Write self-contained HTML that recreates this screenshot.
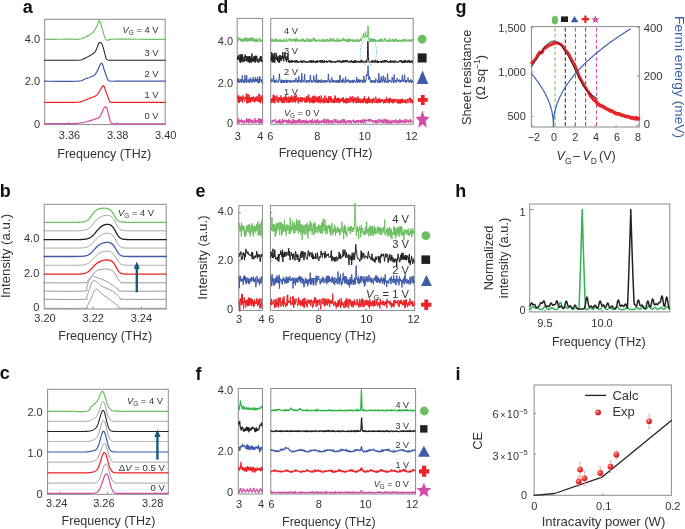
<!DOCTYPE html>
<html><head><meta charset="utf-8"><style>
html,body{margin:0;padding:0;background:#fff;}
svg{display:block;font-family:"Liberation Sans", sans-serif;will-change:transform;}
</style></head><body>
<svg width="685" height="529" viewBox="0 0 685 529">
<rect width="685" height="529" fill="#fff"/>
<text x="22.8" y="13" font-size="18" font-weight="bold" fill="#111">a</text>
<text x="-0.3" y="196.6" font-size="18" font-weight="bold" fill="#111">b</text>
<text x="-0.2" y="379.4" font-size="18" font-weight="bold" fill="#111">c</text>
<text x="217.3" y="13.1" font-size="18" font-weight="bold" fill="#111">d</text>
<text x="195.4" y="196.6" font-size="18" font-weight="bold" fill="#111">e</text>
<text x="195.6" y="379.5" font-size="18" font-weight="bold" fill="#111">f</text>
<text x="455.4" y="12.8" font-size="18" font-weight="bold" fill="#111">g</text>
<text x="455.3" y="196.6" font-size="18" font-weight="bold" fill="#111">h</text>
<text x="455.4" y="379.5" font-size="18" font-weight="bold" fill="#111">i</text>
<line x1="68.8" y1="124.6" x2="68.8" y2="122.1" stroke="#8a8a8a" stroke-width="1"/>
<line x1="117.0" y1="124.6" x2="117.0" y2="122.1" stroke="#8a8a8a" stroke-width="1"/>
<rect x="44.7" y="19.3" width="120.49999999999999" height="105.3" fill="none" stroke="#8a8a8a" stroke-width="1"/>
<polyline points="44.7,39.40 48.42,39.37 53.85,39.32 59.94,39.27 65.67,39.22 70.0,39.20 72.70,39.22 74.45,39.27 75.62,39.32 76.55,39.34 77.6,39.30 78.70,39.22 79.60,39.12 80.42,38.97 81.28,38.74 82.3,38.40 83.53,37.91 84.89,37.29 86.31,36.60 87.67,35.88 88.9,35.20 89.98,34.58 90.98,34.00 91.91,33.40 92.78,32.72 93.6,31.90 94.36,30.91 95.05,29.77 95.70,28.57 96.31,27.35 96.9,26.20 97.46,24.91 97.99,23.45 98.49,22.10 98.99,21.15 99.5,20.90 100.02,21.52 100.55,22.82 101.07,24.53 101.59,26.38 102.1,28.10 102.60,29.80 103.10,31.65 103.59,33.50 104.06,35.20 104.5,36.60 104.88,37.69 105.19,38.56 105.50,39.24 105.88,39.75 106.4,40.10 107.01,40.22 107.66,40.10 108.44,39.85 109.39,39.58 110.6,39.40 111.57,39.32 112.27,39.26 113.41,39.23 115.75,39.21 120.0,39.20 127.47,39.22 137.67,39.26 148.66,39.32 158.48,39.37 165.2,39.40" fill="none" stroke="#6dbf62" stroke-width="1.2" stroke-linejoin="round" stroke-linecap="round"/>
<polyline points="44.7,60.20 49.60,60.23 56.75,60.28 64.75,60.32 72.18,60.31 77.6,60.20 80.56,60.02 82.00,59.81 82.62,59.51 83.12,59.09 84.2,58.50 86.00,57.67 88.07,56.63 90.17,55.48 92.09,54.34 93.6,53.30 94.61,52.40 95.26,51.58 95.70,50.78 96.06,49.94 96.5,49.00 97.00,47.86 97.46,46.56 97.90,45.26 98.34,44.12 98.8,43.30 99.28,42.82 99.78,42.58 100.27,42.54 100.75,42.69 101.2,43.00 101.61,43.47 101.98,44.11 102.34,44.93 102.70,45.93 103.1,47.10 103.53,48.59 103.99,50.38 104.45,52.29 104.93,54.10 105.4,55.60 105.72,56.79 105.88,57.81 106.13,58.67 106.69,59.36 107.8,59.90 109.08,60.22 110.39,60.32 112.27,60.29 115.29,60.22 120.0,60.20 127.65,60.22 137.87,60.22 148.79,60.21 158.52,60.20 165.2,60.20" fill="none" stroke="#231f20" stroke-width="1.05" stroke-linejoin="round" stroke-linecap="round"/>
<polyline points="44.7,81.20 49.57,81.24 56.67,81.31 64.63,81.36 72.03,81.34 77.5,81.20 80.6,80.92 82.26,80.54 83.13,80.07 83.83,79.55 85.0,79.00 86.75,78.40 88.66,77.75 90.57,77.05 92.30,76.32 93.7,75.60 94.65,74.94 95.27,74.34 95.72,73.68 96.17,72.87 96.8,71.80 97.65,70.14 98.61,67.97 99.61,65.76 100.56,64.01 101.4,63.20 102.09,63.54 102.67,64.72 103.21,66.40 103.73,68.27 104.3,70.00 104.92,71.72 105.55,73.65 106.19,75.59 106.82,77.34 107.4,78.70 107.82,79.60 108.08,80.18 108.38,80.54 108.92,80.78 109.9,81.00 110.87,81.18 111.71,81.24 113.07,81.24 115.61,81.21 120.0,81.20 127.52,81.21 137.72,81.21 148.69,81.21 158.49,81.20 165.2,81.20" fill="none" stroke="#3f5aa8" stroke-width="1.2" stroke-linejoin="round" stroke-linecap="round"/>
<polyline points="44.7,102.40 48.39,102.41 53.73,102.43 59.77,102.44 65.51,102.44 70.0,102.40 73.0,102.36 75.16,102.32 76.83,102.25 78.33,102.09 80.0,101.80 81.84,101.34 83.63,100.74 85.37,100.07 87.06,99.37 88.7,98.70 90.34,98.10 91.97,97.51 93.53,96.91 94.96,96.26 96.2,95.50 97.19,94.61 97.96,93.62 98.62,92.57 99.23,91.52 99.9,90.50 100.62,89.34 101.35,88.01 102.06,86.78 102.75,85.92 103.4,85.70 104.0,86.28 104.56,87.48 105.09,89.07 105.63,90.79 106.2,92.40 106.82,94.03 107.48,95.84 108.14,97.65 108.76,99.26 109.3,100.50 109.63,101.29 109.77,101.76 109.93,102.00 110.31,102.15 111.1,102.30 111.84,102.43 112.41,102.47 113.49,102.45 115.78,102.41 120.0,102.40 127.44,102.41 137.64,102.41 148.63,102.40 158.47,102.40 165.2,102.40" fill="none" stroke="#ec2227" stroke-width="1.2" stroke-linejoin="round" stroke-linecap="round"/>
<polyline points="44.7,123.70 48.39,123.69 53.73,123.69 59.77,123.68 65.51,123.65 70.0,123.60 73.0,123.53 75.16,123.46 76.83,123.36 78.33,123.21 80.0,123.00 81.84,122.71 83.63,122.36 85.37,121.97 87.06,121.54 88.7,121.10 90.34,120.63 91.97,120.11 93.53,119.59 94.96,119.07 96.2,118.60 97.18,118.28 97.95,118.09 98.60,117.88 99.21,117.47 99.9,116.70 100.67,115.37 101.48,113.60 102.27,111.68 103.02,109.91 103.7,108.60 104.29,107.74 104.83,107.11 105.31,106.75 105.77,106.68 106.2,106.90 106.59,107.48 106.94,108.40 107.26,109.58 107.61,110.94 108.0,112.40 108.46,114.14 108.95,116.20 109.47,118.33 109.99,120.25 110.5,121.70 110.93,122.58 111.28,123.07 111.68,123.32 112.21,123.45 113.0,123.60 113.50,123.75 113.64,123.81 114.23,123.82 116.08,123.80 120.0,123.80 127.32,123.81 137.50,123.81 148.54,123.81 158.44,123.80 165.2,123.80" fill="none" stroke="#d04ca6" stroke-width="1.2" stroke-linejoin="round" stroke-linecap="round"/>
<text x="40" y="43.2" font-size="11" text-anchor="end" fill="#333">4.0</text>
<text x="40" y="85.4" font-size="11" text-anchor="end" fill="#333">2.0</text>
<text x="40" y="127.6" font-size="11" text-anchor="end" fill="#333">0</text>
<text x="69.5" y="139" font-size="11" text-anchor="middle" fill="#333">3.36</text>
<text x="117.7" y="139" font-size="11" text-anchor="middle" fill="#333">3.38</text>
<text x="165.8" y="139" font-size="11" text-anchor="middle" fill="#333">3.40</text>
<text x="104.2" y="157.5" font-size="12.5" text-anchor="middle" fill="#333">Frequency (THz)</text>
<text x="158.6" y="33" font-size="9.4" text-anchor="end" fill="#333"><tspan font-style="italic">V</tspan><tspan font-size="6.4" dy="2.1">G</tspan><tspan dy="-2.1"> = 4 V</tspan></text>
<text x="158.6" y="55.8" font-size="9.4" text-anchor="end" fill="#333">3 V</text>
<text x="158.6" y="77" font-size="9.4" text-anchor="end" fill="#333">2 V</text>
<text x="158.6" y="98.2" font-size="9.4" text-anchor="end" fill="#333">1 V</text>
<text x="158.6" y="119.3" font-size="9.4" text-anchor="end" fill="#333">0 V</text>
<rect x="44.2" y="204.3" width="121.99999999999999" height="104.69999999999999" fill="none" stroke="#8a8a8a" stroke-width="1"/>
<polyline points="44.2,222.30 44.7,222.30 45.2,222.30 45.7,222.30 46.2,222.30 46.7,222.30 47.2,222.30 47.7,222.30 48.2,222.30 48.7,222.30 49.2,222.30 49.7,222.30 50.2,222.30 50.7,222.30 51.2,222.30 51.7,222.30 52.2,222.30 52.7,222.30 53.2,222.30 53.7,222.30 54.2,222.30 54.7,222.30 55.2,222.30 55.7,222.30 56.2,222.30 56.7,222.30 57.2,222.30 57.7,222.30 58.2,222.30 58.7,222.30 59.2,222.30 59.7,222.30 60.2,222.30 60.7,222.30 61.2,222.30 61.7,222.30 62.2,222.30 62.7,222.30 63.2,222.30 63.7,222.30 64.2,222.30 64.7,222.30 65.2,222.30 65.7,222.30 66.2,222.30 66.7,222.30 67.2,222.30 67.7,222.30 68.2,222.30 68.7,222.30 69.2,222.30 69.7,222.30 70.2,222.30 70.7,222.30 71.2,222.30 71.7,222.30 72.2,222.30 72.7,222.30 73.2,222.30 73.7,222.30 74.2,222.30 74.7,222.30 75.2,222.30 75.7,222.29 76.2,222.29 76.7,222.29 77.2,222.28 77.7,222.28 78.2,222.27 78.7,222.26 79.2,222.25 79.7,222.24 80.2,222.22 80.7,222.20 81.2,222.17 81.7,222.13 82.2,222.09 82.7,222.03 83.2,221.96 83.7,221.87 84.2,221.76 84.7,221.63 85.2,221.48 85.7,221.28 86.2,221.06 86.7,220.78 87.2,220.46 87.7,220.09 88.2,219.67 88.7,219.19 89.2,218.66 89.7,218.07 90.2,217.45 90.7,216.79 91.2,216.10 91.7,215.41 92.2,214.72 92.7,214.05 93.2,213.40 93.7,212.79 94.2,212.22 94.7,211.70 95.2,211.22 95.7,210.79 96.2,210.40 96.7,210.06 97.2,209.76 97.7,209.50 98.2,209.26 98.7,209.06 99.2,208.89 99.7,208.74 100.2,208.61 100.7,208.50 101.2,208.41 101.7,208.34 102.2,208.28 102.7,208.24 103.2,208.21 103.7,208.20 104.2,208.20 104.7,208.22 105.2,208.25 105.7,208.29 106.2,208.36 106.7,208.45 107.2,208.56 107.7,208.69 108.2,208.86 108.7,209.07 109.2,209.32 109.7,209.62 110.2,209.97 110.7,210.39 111.2,210.88 111.7,211.44 112.2,212.09 112.7,212.80 113.2,213.59 113.7,214.42 114.2,215.28 114.7,216.15 115.2,217.00 115.7,217.80 116.2,218.54 116.7,219.20 117.2,219.78 117.7,220.27 118.2,220.69 118.7,221.03 119.2,221.30 119.7,221.52 120.2,221.70 120.7,221.84 121.2,221.94 121.7,222.03 122.2,222.09 122.7,222.14 123.2,222.18 123.7,222.21 124.2,222.23 124.7,222.25 125.2,222.26 125.7,222.27 126.2,222.28 126.7,222.28 127.2,222.29 127.7,222.29 128.2,222.29 128.7,222.30 129.2,222.30 129.7,222.30 130.2,222.30 130.7,222.30 131.2,222.30 131.7,222.30 132.2,222.30 132.7,222.30 133.2,222.30 133.7,222.30 134.2,222.30 134.7,222.30 135.2,222.30 135.7,222.30 136.2,222.30 136.7,222.30 137.2,222.30 137.7,222.30 138.2,222.30 138.7,222.30 139.2,222.30 139.7,222.30 140.2,222.30 140.7,222.30 141.2,222.30 141.7,222.30 142.2,222.30 142.7,222.30 143.2,222.30 143.7,222.30 144.2,222.30 144.7,222.30 145.2,222.30 145.7,222.30 146.2,222.30 146.7,222.30 147.2,222.30 147.7,222.30 148.2,222.30 148.7,222.30 149.2,222.30 149.7,222.30 150.2,222.30 150.7,222.30 151.2,222.30 151.7,222.30 152.2,222.30 152.7,222.30 153.2,222.30 153.7,222.30 154.2,222.30 154.7,222.30 155.2,222.30 155.7,222.30 156.2,222.30 156.7,222.30 157.2,222.30 157.7,222.30 158.2,222.30 158.7,222.30 159.2,222.30 159.7,222.30 160.2,222.30 160.7,222.30 161.2,222.30 161.7,222.30 162.2,222.30 162.7,222.30 163.2,222.30 163.7,222.30 164.2,222.30 164.7,222.30 165.2,222.30 165.7,222.30 166.2,222.30" fill="none" stroke="#6dbf62" stroke-width="1.3" stroke-linejoin="round" stroke-linecap="round"/>
<polyline points="44.2,230.80 44.7,230.80 45.2,230.80 45.7,230.80 46.2,230.80 46.7,230.80 47.2,230.80 47.7,230.80 48.2,230.80 48.7,230.80 49.2,230.80 49.7,230.80 50.2,230.80 50.7,230.80 51.2,230.80 51.7,230.80 52.2,230.80 52.7,230.80 53.2,230.80 53.7,230.80 54.2,230.80 54.7,230.80 55.2,230.80 55.7,230.80 56.2,230.80 56.7,230.80 57.2,230.80 57.7,230.80 58.2,230.80 58.7,230.80 59.2,230.80 59.7,230.80 60.2,230.80 60.7,230.80 61.2,230.80 61.7,230.80 62.2,230.80 62.7,230.80 63.2,230.80 63.7,230.80 64.2,230.80 64.7,230.80 65.2,230.80 65.7,230.80 66.2,230.80 66.7,230.80 67.2,230.80 67.7,230.80 68.2,230.80 68.7,230.80 69.2,230.80 69.7,230.80 70.2,230.80 70.7,230.80 71.2,230.80 71.7,230.80 72.2,230.80 72.7,230.80 73.2,230.80 73.7,230.80 74.2,230.80 74.7,230.79 75.2,230.79 75.7,230.79 76.2,230.78 76.7,230.78 77.2,230.77 77.7,230.76 78.2,230.75 78.7,230.74 79.2,230.73 79.7,230.71 80.2,230.69 80.7,230.66 81.2,230.63 81.7,230.59 82.2,230.55 82.7,230.49 83.2,230.43 83.7,230.35 84.2,230.26 84.7,230.16 85.2,230.04 85.7,229.89 86.2,229.73 86.7,229.54 87.2,229.32 87.7,229.07 88.2,228.78 88.7,228.46 89.2,228.10 89.7,227.71 90.2,227.27 90.7,226.80 91.2,226.29 91.7,225.75 92.2,225.19 92.7,224.60 93.2,224.00 93.7,223.39 94.2,222.78 94.7,222.17 95.2,221.58 95.7,221.00 96.2,220.45 96.7,219.92 97.2,219.43 97.7,218.97 98.2,218.54 98.7,218.14 99.2,217.78 99.7,217.45 100.2,217.15 100.7,216.88 101.2,216.63 101.7,216.41 102.2,216.22 102.7,216.05 103.2,215.90 103.7,215.78 104.2,215.67 104.7,215.58 105.2,215.50 105.7,215.45 106.2,215.42 106.7,215.40 107.2,215.40 107.7,215.43 108.2,215.48 108.7,215.56 109.2,215.67 109.7,215.82 110.2,216.01 110.7,216.25 111.2,216.55 111.7,216.91 112.2,217.36 112.7,217.88 113.2,218.50 113.7,219.21 114.2,220.01 114.7,220.88 115.2,221.82 115.7,222.79 116.2,223.77 116.7,224.73 117.2,225.64 117.7,226.47 118.2,227.22 118.7,227.88 119.2,228.44 119.7,228.91 120.2,229.30 120.7,229.62 121.2,229.87 121.7,230.08 122.2,230.24 122.7,230.36 123.2,230.46 123.7,230.54 124.2,230.60 124.7,230.65 125.2,230.68 125.7,230.71 126.2,230.73 126.7,230.75 127.2,230.76 127.7,230.77 128.2,230.78 128.7,230.78 129.2,230.79 129.7,230.79 130.2,230.79 130.7,230.79 131.2,230.80 131.7,230.80 132.2,230.80 132.7,230.80 133.2,230.80 133.7,230.80 134.2,230.80 134.7,230.80 135.2,230.80 135.7,230.80 136.2,230.80 136.7,230.80 137.2,230.80 137.7,230.80 138.2,230.80 138.7,230.80 139.2,230.80 139.7,230.80 140.2,230.80 140.7,230.80 141.2,230.80 141.7,230.80 142.2,230.80 142.7,230.80 143.2,230.80 143.7,230.80 144.2,230.80 144.7,230.80 145.2,230.80 145.7,230.80 146.2,230.80 146.7,230.80 147.2,230.80 147.7,230.80 148.2,230.80 148.7,230.80 149.2,230.80 149.7,230.80 150.2,230.80 150.7,230.80 151.2,230.80 151.7,230.80 152.2,230.80 152.7,230.80 153.2,230.80 153.7,230.80 154.2,230.80 154.7,230.80 155.2,230.80 155.7,230.80 156.2,230.80 156.7,230.80 157.2,230.80 157.7,230.80 158.2,230.80 158.7,230.80 159.2,230.80 159.7,230.80 160.2,230.80 160.7,230.80 161.2,230.80 161.7,230.80 162.2,230.80 162.7,230.80 163.2,230.80 163.7,230.80 164.2,230.80 164.7,230.80 165.2,230.80 165.7,230.80 166.2,230.80" fill="none" stroke="#9a9a9a" stroke-width="1.0" stroke-linejoin="round" stroke-linecap="round"/>
<polyline points="44.2,239.60 44.7,239.60 45.2,239.60 45.7,239.60 46.2,239.60 46.7,239.60 47.2,239.60 47.7,239.60 48.2,239.60 48.7,239.60 49.2,239.60 49.7,239.60 50.2,239.60 50.7,239.60 51.2,239.60 51.7,239.60 52.2,239.60 52.7,239.60 53.2,239.60 53.7,239.60 54.2,239.60 54.7,239.60 55.2,239.60 55.7,239.60 56.2,239.60 56.7,239.60 57.2,239.60 57.7,239.60 58.2,239.60 58.7,239.60 59.2,239.60 59.7,239.60 60.2,239.60 60.7,239.60 61.2,239.60 61.7,239.60 62.2,239.60 62.7,239.60 63.2,239.60 63.7,239.60 64.2,239.60 64.7,239.60 65.2,239.60 65.7,239.60 66.2,239.60 66.7,239.60 67.2,239.60 67.7,239.60 68.2,239.60 68.7,239.60 69.2,239.60 69.7,239.60 70.2,239.60 70.7,239.60 71.2,239.60 71.7,239.60 72.2,239.60 72.7,239.60 73.2,239.60 73.7,239.60 74.2,239.60 74.7,239.60 75.2,239.60 75.7,239.59 76.2,239.59 76.7,239.59 77.2,239.58 77.7,239.58 78.2,239.57 78.7,239.57 79.2,239.56 79.7,239.55 80.2,239.54 80.7,239.52 81.2,239.50 81.7,239.48 82.2,239.46 82.7,239.43 83.2,239.39 83.7,239.35 84.2,239.30 84.7,239.25 85.2,239.18 85.7,239.10 86.2,239.01 86.7,238.90 87.2,238.78 87.7,238.63 88.2,238.47 88.7,238.28 89.2,238.07 89.7,237.82 90.2,237.55 90.7,237.24 91.2,236.90 91.7,236.52 92.2,236.11 92.7,235.66 93.2,235.18 93.7,234.67 94.2,234.13 94.7,233.57 95.2,232.98 95.7,232.39 96.2,231.79 96.7,231.18 97.2,230.59 97.7,230.01 98.2,229.44 98.7,228.89 99.2,228.38 99.7,227.89 100.2,227.43 100.7,227.00 101.2,226.61 101.7,226.25 102.2,225.92 102.7,225.63 103.2,225.36 103.7,225.13 104.2,224.93 104.7,224.75 105.2,224.61 105.7,224.49 106.2,224.40 106.7,224.33 107.2,224.30 107.7,224.30 108.2,224.33 108.7,224.40 109.2,224.51 109.7,224.67 110.2,224.88 110.7,225.14 111.2,225.47 111.7,225.87 112.2,226.35 112.7,226.90 113.2,227.54 113.7,228.26 114.2,229.05 114.7,229.90 115.2,230.80 115.7,231.72 116.2,232.63 116.7,233.52 117.2,234.37 117.7,235.15 118.2,235.85 118.7,236.48 119.2,237.03 119.7,237.49 120.2,237.89 120.7,238.22 121.2,238.49 121.7,238.71 122.2,238.89 122.7,239.04 123.2,239.15 123.7,239.25 124.2,239.32 124.7,239.38 125.2,239.43 125.7,239.46 126.2,239.49 126.7,239.52 127.2,239.54 127.7,239.55 128.2,239.56 128.7,239.57 129.2,239.58 129.7,239.58 130.2,239.59 130.7,239.59 131.2,239.59 131.7,239.59 132.2,239.59 132.7,239.60 133.2,239.60 133.7,239.60 134.2,239.60 134.7,239.60 135.2,239.60 135.7,239.60 136.2,239.60 136.7,239.60 137.2,239.60 137.7,239.60 138.2,239.60 138.7,239.60 139.2,239.60 139.7,239.60 140.2,239.60 140.7,239.60 141.2,239.60 141.7,239.60 142.2,239.60 142.7,239.60 143.2,239.60 143.7,239.60 144.2,239.60 144.7,239.60 145.2,239.60 145.7,239.60 146.2,239.60 146.7,239.60 147.2,239.60 147.7,239.60 148.2,239.60 148.7,239.60 149.2,239.60 149.7,239.60 150.2,239.60 150.7,239.60 151.2,239.60 151.7,239.60 152.2,239.60 152.7,239.60 153.2,239.60 153.7,239.60 154.2,239.60 154.7,239.60 155.2,239.60 155.7,239.60 156.2,239.60 156.7,239.60 157.2,239.60 157.7,239.60 158.2,239.60 158.7,239.60 159.2,239.60 159.7,239.60 160.2,239.60 160.7,239.60 161.2,239.60 161.7,239.60 162.2,239.60 162.7,239.60 163.2,239.60 163.7,239.60 164.2,239.60 164.7,239.60 165.2,239.60 165.7,239.60 166.2,239.60" fill="none" stroke="#231f20" stroke-width="1.3" stroke-linejoin="round" stroke-linecap="round"/>
<polyline points="44.2,248.10 44.7,248.10 45.2,248.10 45.7,248.10 46.2,248.10 46.7,248.10 47.2,248.10 47.7,248.10 48.2,248.10 48.7,248.10 49.2,248.10 49.7,248.10 50.2,248.10 50.7,248.10 51.2,248.10 51.7,248.10 52.2,248.10 52.7,248.10 53.2,248.10 53.7,248.10 54.2,248.10 54.7,248.10 55.2,248.10 55.7,248.10 56.2,248.10 56.7,248.10 57.2,248.10 57.7,248.10 58.2,248.10 58.7,248.10 59.2,248.10 59.7,248.10 60.2,248.10 60.7,248.10 61.2,248.10 61.7,248.10 62.2,248.10 62.7,248.10 63.2,248.10 63.7,248.10 64.2,248.10 64.7,248.10 65.2,248.10 65.7,248.10 66.2,248.10 66.7,248.10 67.2,248.10 67.7,248.10 68.2,248.10 68.7,248.10 69.2,248.10 69.7,248.10 70.2,248.10 70.7,248.10 71.2,248.10 71.7,248.10 72.2,248.10 72.7,248.10 73.2,248.10 73.7,248.10 74.2,248.10 74.7,248.10 75.2,248.09 75.7,248.09 76.2,248.09 76.7,248.08 77.2,248.08 77.7,248.07 78.2,248.06 78.7,248.05 79.2,248.04 79.7,248.03 80.2,248.01 80.7,247.99 81.2,247.97 81.7,247.94 82.2,247.91 82.7,247.87 83.2,247.82 83.7,247.76 84.2,247.69 84.7,247.61 85.2,247.52 85.7,247.41 86.2,247.29 86.7,247.14 87.2,246.97 87.7,246.78 88.2,246.56 88.7,246.31 89.2,246.03 89.7,245.72 90.2,245.37 90.7,244.98 91.2,244.56 91.7,244.11 92.2,243.62 92.7,243.11 93.2,242.57 93.7,242.01 94.2,241.44 94.7,240.86 95.2,240.28 95.7,239.71 96.2,239.15 96.7,238.60 97.2,238.08 97.7,237.58 98.2,237.11 98.7,236.66 99.2,236.25 99.7,235.87 100.2,235.52 100.7,235.20 101.2,234.91 101.7,234.65 102.2,234.42 102.7,234.21 103.2,234.02 103.7,233.86 104.2,233.72 104.7,233.60 105.2,233.50 105.7,233.42 106.2,233.36 106.7,233.32 107.2,233.30 107.7,233.30 108.2,233.33 108.7,233.38 109.2,233.46 109.7,233.58 110.2,233.74 110.7,233.94 111.2,234.20 111.7,234.52 112.2,234.91 112.7,235.38 113.2,235.94 113.7,236.59 114.2,237.32 114.7,238.14 115.2,239.02 115.7,239.95 116.2,240.90 116.7,241.84 117.2,242.74 117.7,243.58 118.2,244.34 118.7,245.02 119.2,245.60 119.7,246.09 120.2,246.50 120.7,246.83 121.2,247.10 121.7,247.32 122.2,247.49 122.7,247.63 123.2,247.74 123.7,247.82 124.2,247.88 124.7,247.93 125.2,247.97 125.7,248.00 126.2,248.03 126.7,248.04 127.2,248.06 127.7,248.07 128.2,248.07 128.7,248.08 129.2,248.09 129.7,248.09 130.2,248.09 130.7,248.09 131.2,248.10 131.7,248.10 132.2,248.10 132.7,248.10 133.2,248.10 133.7,248.10 134.2,248.10 134.7,248.10 135.2,248.10 135.7,248.10 136.2,248.10 136.7,248.10 137.2,248.10 137.7,248.10 138.2,248.10 138.7,248.10 139.2,248.10 139.7,248.10 140.2,248.10 140.7,248.10 141.2,248.10 141.7,248.10 142.2,248.10 142.7,248.10 143.2,248.10 143.7,248.10 144.2,248.10 144.7,248.10 145.2,248.10 145.7,248.10 146.2,248.10 146.7,248.10 147.2,248.10 147.7,248.10 148.2,248.10 148.7,248.10 149.2,248.10 149.7,248.10 150.2,248.10 150.7,248.10 151.2,248.10 151.7,248.10 152.2,248.10 152.7,248.10 153.2,248.10 153.7,248.10 154.2,248.10 154.7,248.10 155.2,248.10 155.7,248.10 156.2,248.10 156.7,248.10 157.2,248.10 157.7,248.10 158.2,248.10 158.7,248.10 159.2,248.10 159.7,248.10 160.2,248.10 160.7,248.10 161.2,248.10 161.7,248.10 162.2,248.10 162.7,248.10 163.2,248.10 163.7,248.10 164.2,248.10 164.7,248.10 165.2,248.10 165.7,248.10 166.2,248.10" fill="none" stroke="#9a9a9a" stroke-width="1.0" stroke-linejoin="round" stroke-linecap="round"/>
<polyline points="44.2,256.50 44.7,256.50 45.2,256.50 45.7,256.50 46.2,256.50 46.7,256.50 47.2,256.50 47.7,256.50 48.2,256.50 48.7,256.50 49.2,256.50 49.7,256.50 50.2,256.50 50.7,256.50 51.2,256.50 51.7,256.50 52.2,256.50 52.7,256.50 53.2,256.50 53.7,256.50 54.2,256.50 54.7,256.50 55.2,256.50 55.7,256.50 56.2,256.50 56.7,256.50 57.2,256.50 57.7,256.50 58.2,256.50 58.7,256.50 59.2,256.50 59.7,256.50 60.2,256.50 60.7,256.50 61.2,256.50 61.7,256.50 62.2,256.50 62.7,256.50 63.2,256.50 63.7,256.50 64.2,256.50 64.7,256.50 65.2,256.50 65.7,256.50 66.2,256.50 66.7,256.50 67.2,256.50 67.7,256.50 68.2,256.50 68.7,256.50 69.2,256.50 69.7,256.50 70.2,256.50 70.7,256.50 71.2,256.50 71.7,256.50 72.2,256.50 72.7,256.50 73.2,256.50 73.7,256.50 74.2,256.50 74.7,256.49 75.2,256.49 75.7,256.49 76.2,256.49 76.7,256.48 77.2,256.48 77.7,256.47 78.2,256.46 78.7,256.45 79.2,256.44 79.7,256.43 80.2,256.41 80.7,256.39 81.2,256.37 81.7,256.34 82.2,256.30 82.7,256.26 83.2,256.21 83.7,256.15 84.2,256.08 84.7,256.00 85.2,255.91 85.7,255.79 86.2,255.66 86.7,255.51 87.2,255.33 87.7,255.13 88.2,254.90 88.7,254.63 89.2,254.34 89.7,254.01 90.2,253.64 90.7,253.24 91.2,252.81 91.7,252.34 92.2,251.84 92.7,251.32 93.2,250.78 93.7,250.23 94.2,249.67 94.7,249.11 95.2,248.55 95.7,248.01 96.2,247.48 96.7,246.97 97.2,246.49 97.7,246.04 98.2,245.62 98.7,245.22 99.2,244.86 99.7,244.53 100.2,244.23 100.7,243.95 101.2,243.71 101.7,243.49 102.2,243.29 102.7,243.11 103.2,242.96 103.7,242.83 104.2,242.71 104.7,242.62 105.2,242.54 105.7,242.48 106.2,242.43 106.7,242.41 107.2,242.40 107.7,242.41 108.2,242.45 108.7,242.50 109.2,242.59 109.7,242.71 110.2,242.87 110.7,243.06 111.2,243.31 111.7,243.62 112.2,244.00 112.7,244.45 113.2,244.98 113.7,245.59 114.2,246.29 114.7,247.07 115.2,247.90 115.7,248.79 116.2,249.68 116.7,250.58 117.2,251.43 117.7,252.23 118.2,252.95 118.7,253.59 119.2,254.14 119.7,254.60 120.2,254.99 120.7,255.31 121.2,255.56 121.7,255.77 122.2,255.93 122.7,256.06 123.2,256.16 123.7,256.24 124.2,256.30 124.7,256.34 125.2,256.38 125.7,256.41 126.2,256.43 126.7,256.45 127.2,256.46 127.7,256.47 128.2,256.48 128.7,256.48 129.2,256.49 129.7,256.49 130.2,256.49 130.7,256.49 131.2,256.50 131.7,256.50 132.2,256.50 132.7,256.50 133.2,256.50 133.7,256.50 134.2,256.50 134.7,256.50 135.2,256.50 135.7,256.50 136.2,256.50 136.7,256.50 137.2,256.50 137.7,256.50 138.2,256.50 138.7,256.50 139.2,256.50 139.7,256.50 140.2,256.50 140.7,256.50 141.2,256.50 141.7,256.50 142.2,256.50 142.7,256.50 143.2,256.50 143.7,256.50 144.2,256.50 144.7,256.50 145.2,256.50 145.7,256.50 146.2,256.50 146.7,256.50 147.2,256.50 147.7,256.50 148.2,256.50 148.7,256.50 149.2,256.50 149.7,256.50 150.2,256.50 150.7,256.50 151.2,256.50 151.7,256.50 152.2,256.50 152.7,256.50 153.2,256.50 153.7,256.50 154.2,256.50 154.7,256.50 155.2,256.50 155.7,256.50 156.2,256.50 156.7,256.50 157.2,256.50 157.7,256.50 158.2,256.50 158.7,256.50 159.2,256.50 159.7,256.50 160.2,256.50 160.7,256.50 161.2,256.50 161.7,256.50 162.2,256.50 162.7,256.50 163.2,256.50 163.7,256.50 164.2,256.50 164.7,256.50 165.2,256.50 165.7,256.50 166.2,256.50" fill="none" stroke="#3f5aa8" stroke-width="1.3" stroke-linejoin="round" stroke-linecap="round"/>
<polyline points="44.2,265.30 44.7,265.30 45.2,265.30 45.7,265.30 46.2,265.30 46.7,265.30 47.2,265.30 47.7,265.30 48.2,265.30 48.7,265.30 49.2,265.30 49.7,265.30 50.2,265.30 50.7,265.30 51.2,265.30 51.7,265.30 52.2,265.30 52.7,265.30 53.2,265.30 53.7,265.30 54.2,265.30 54.7,265.30 55.2,265.30 55.7,265.30 56.2,265.30 56.7,265.30 57.2,265.30 57.7,265.30 58.2,265.30 58.7,265.30 59.2,265.30 59.7,265.30 60.2,265.30 60.7,265.30 61.2,265.30 61.7,265.30 62.2,265.30 62.7,265.30 63.2,265.30 63.7,265.30 64.2,265.30 64.7,265.30 65.2,265.30 65.7,265.30 66.2,265.30 66.7,265.30 67.2,265.30 67.7,265.30 68.2,265.30 68.7,265.30 69.2,265.30 69.7,265.30 70.2,265.30 70.7,265.30 71.2,265.30 71.7,265.30 72.2,265.30 72.7,265.30 73.2,265.30 73.7,265.30 74.2,265.29 74.7,265.29 75.2,265.29 75.7,265.29 76.2,265.28 76.7,265.28 77.2,265.27 77.7,265.26 78.2,265.25 78.7,265.24 79.2,265.22 79.7,265.20 80.2,265.18 80.7,265.15 81.2,265.12 81.7,265.09 82.2,265.04 82.7,264.99 83.2,264.93 83.7,264.85 84.2,264.77 84.7,264.66 85.2,264.55 85.7,264.41 86.2,264.25 86.7,264.07 87.2,263.87 87.7,263.63 88.2,263.37 88.7,263.07 89.2,262.74 89.7,262.38 90.2,261.99 90.7,261.56 91.2,261.10 91.7,260.61 92.2,260.10 92.7,259.58 93.2,259.04 93.7,258.49 94.2,257.94 94.7,257.39 95.2,256.86 95.7,256.34 96.2,255.84 96.7,255.36 97.2,254.91 97.7,254.48 98.2,254.09 98.7,253.72 99.2,253.39 99.7,253.08 100.2,252.80 100.7,252.54 101.2,252.31 101.7,252.11 102.2,251.92 102.7,251.76 103.2,251.62 103.7,251.49 104.2,251.39 104.7,251.30 105.2,251.23 105.7,251.17 106.2,251.13 106.7,251.11 107.2,251.10 107.7,251.11 108.2,251.15 108.7,251.20 109.2,251.28 109.7,251.40 110.2,251.54 110.7,251.73 111.2,251.97 111.7,252.26 112.2,252.61 112.7,253.04 113.2,253.54 113.7,254.13 114.2,254.80 114.7,255.55 115.2,256.37 115.7,257.24 116.2,258.14 116.7,259.04 117.2,259.91 117.7,260.73 118.2,261.48 118.7,262.16 119.2,262.74 119.7,263.24 120.2,263.65 120.7,263.99 121.2,264.27 121.7,264.50 122.2,264.67 122.7,264.81 123.2,264.92 123.7,265.01 124.2,265.08 124.7,265.13 125.2,265.17 125.7,265.20 126.2,265.22 126.7,265.24 127.2,265.25 127.7,265.27 128.2,265.27 128.7,265.28 129.2,265.28 129.7,265.29 130.2,265.29 130.7,265.29 131.2,265.30 131.7,265.30 132.2,265.30 132.7,265.30 133.2,265.30 133.7,265.30 134.2,265.30 134.7,265.30 135.2,265.30 135.7,265.30 136.2,265.30 136.7,265.30 137.2,265.30 137.7,265.30 138.2,265.30 138.7,265.30 139.2,265.30 139.7,265.30 140.2,265.30 140.7,265.30 141.2,265.30 141.7,265.30 142.2,265.30 142.7,265.30 143.2,265.30 143.7,265.30 144.2,265.30 144.7,265.30 145.2,265.30 145.7,265.30 146.2,265.30 146.7,265.30 147.2,265.30 147.7,265.30 148.2,265.30 148.7,265.30 149.2,265.30 149.7,265.30 150.2,265.30 150.7,265.30 151.2,265.30 151.7,265.30 152.2,265.30 152.7,265.30 153.2,265.30 153.7,265.30 154.2,265.30 154.7,265.30 155.2,265.30 155.7,265.30 156.2,265.30 156.7,265.30 157.2,265.30 157.7,265.30 158.2,265.30 158.7,265.30 159.2,265.30 159.7,265.30 160.2,265.30 160.7,265.30 161.2,265.30 161.7,265.30 162.2,265.30 162.7,265.30 163.2,265.30 163.7,265.30 164.2,265.30 164.7,265.30 165.2,265.30 165.7,265.30 166.2,265.30" fill="none" stroke="#9a9a9a" stroke-width="1.0" stroke-linejoin="round" stroke-linecap="round"/>
<polyline points="44.2,274.20 44.7,274.20 45.2,274.20 45.7,274.20 46.2,274.20 46.7,274.20 47.2,274.20 47.7,274.20 48.2,274.20 48.7,274.20 49.2,274.20 49.7,274.20 50.2,274.20 50.7,274.20 51.2,274.20 51.7,274.20 52.2,274.20 52.7,274.20 53.2,274.20 53.7,274.20 54.2,274.20 54.7,274.20 55.2,274.20 55.7,274.20 56.2,274.20 56.7,274.20 57.2,274.20 57.7,274.20 58.2,274.20 58.7,274.20 59.2,274.20 59.7,274.20 60.2,274.20 60.7,274.20 61.2,274.20 61.7,274.20 62.2,274.20 62.7,274.20 63.2,274.20 63.7,274.20 64.2,274.20 64.7,274.20 65.2,274.20 65.7,274.20 66.2,274.20 66.7,274.20 67.2,274.20 67.7,274.20 68.2,274.20 68.7,274.20 69.2,274.20 69.7,274.20 70.2,274.20 70.7,274.20 71.2,274.20 71.7,274.20 72.2,274.20 72.7,274.20 73.2,274.20 73.7,274.19 74.2,274.19 74.7,274.19 75.2,274.18 75.7,274.18 76.2,274.17 76.7,274.16 77.2,274.15 77.7,274.14 78.2,274.13 78.7,274.11 79.2,274.09 79.7,274.06 80.2,274.03 80.7,273.99 81.2,273.95 81.7,273.89 82.2,273.83 82.7,273.76 83.2,273.67 83.7,273.57 84.2,273.45 84.7,273.31 85.2,273.16 85.7,272.97 86.2,272.77 86.7,272.53 87.2,272.26 87.7,271.97 88.2,271.64 88.7,271.27 89.2,270.88 89.7,270.45 90.2,270.00 90.7,269.51 91.2,269.01 91.7,268.49 92.2,267.95 92.7,267.41 93.2,266.87 93.7,266.34 94.2,265.81 94.7,265.31 95.2,264.82 95.7,264.35 96.2,263.91 96.7,263.50 97.2,263.11 97.7,262.75 98.2,262.42 98.7,262.12 99.2,261.84 99.7,261.59 100.2,261.36 100.7,261.15 101.2,260.96 101.7,260.80 102.2,260.65 102.7,260.52 103.2,260.40 103.7,260.30 104.2,260.22 104.7,260.15 105.2,260.09 105.7,260.04 106.2,260.02 106.7,260.00 107.2,260.00 107.7,260.02 108.2,260.05 108.7,260.11 109.2,260.19 109.7,260.30 110.2,260.45 110.7,260.63 111.2,260.86 111.7,261.15 112.2,261.51 112.7,261.94 113.2,262.46 113.7,263.06 114.2,263.76 114.7,264.54 115.2,265.40 115.7,266.31 116.2,267.25 116.7,268.18 117.2,269.08 117.7,269.92 118.2,270.68 118.7,271.34 119.2,271.91 119.7,272.38 120.2,272.77 120.7,273.09 121.2,273.34 121.7,273.53 122.2,273.69 122.7,273.81 123.2,273.90 123.7,273.97 124.2,274.03 124.7,274.07 125.2,274.10 125.7,274.13 126.2,274.14 126.7,274.16 127.2,274.17 127.7,274.18 128.2,274.18 128.7,274.19 129.2,274.19 129.7,274.19 130.2,274.19 130.7,274.20 131.2,274.20 131.7,274.20 132.2,274.20 132.7,274.20 133.2,274.20 133.7,274.20 134.2,274.20 134.7,274.20 135.2,274.20 135.7,274.20 136.2,274.20 136.7,274.20 137.2,274.20 137.7,274.20 138.2,274.20 138.7,274.20 139.2,274.20 139.7,274.20 140.2,274.20 140.7,274.20 141.2,274.20 141.7,274.20 142.2,274.20 142.7,274.20 143.2,274.20 143.7,274.20 144.2,274.20 144.7,274.20 145.2,274.20 145.7,274.20 146.2,274.20 146.7,274.20 147.2,274.20 147.7,274.20 148.2,274.20 148.7,274.20 149.2,274.20 149.7,274.20 150.2,274.20 150.7,274.20 151.2,274.20 151.7,274.20 152.2,274.20 152.7,274.20 153.2,274.20 153.7,274.20 154.2,274.20 154.7,274.20 155.2,274.20 155.7,274.20 156.2,274.20 156.7,274.20 157.2,274.20 157.7,274.20 158.2,274.20 158.7,274.20 159.2,274.20 159.7,274.20 160.2,274.20 160.7,274.20 161.2,274.20 161.7,274.20 162.2,274.20 162.7,274.20 163.2,274.20 163.7,274.20 164.2,274.20 164.7,274.20 165.2,274.20 165.7,274.20 166.2,274.20" fill="none" stroke="#ec2227" stroke-width="1.3" stroke-linejoin="round" stroke-linecap="round"/>
<polyline points="44.2,282.80 52.21,282.83 63.91,282.88 75.70,282.89 84.0,282.80 87.31,282.65 87.72,282.46 87.03,282.11 87.0,281.50 87.94,280.55 88.95,279.33 90.04,277.97 91.2,276.60 92.47,275.11 93.82,273.48 95.22,271.96 96.6,270.80 97.95,270.12 99.3,269.76 100.65,269.58 102.0,269.40 103.35,269.17 104.71,268.99 106.06,268.91 107.4,269.00 108.78,269.28 110.18,269.73 111.52,270.30 112.7,271.00 113.69,271.85 114.55,272.86 115.31,273.93 116.0,275.00 116.58,276.08 117.05,277.19 117.52,278.29 118.1,279.30 118.83,280.27 119.66,281.21 120.53,282.02 121.4,282.60 121.40,282.87 120.83,282.91 121.45,282.84 125.0,282.80 133.62,282.81 145.82,282.81 157.92,282.80 166.2,282.80" fill="none" stroke="#9a9a9a" stroke-width="1.0" stroke-linejoin="round" stroke-linecap="round"/>
<polyline points="44.2,291.10 52.23,291.17 63.94,291.29 75.74,291.32 84.0,291.10 87.25,290.65 87.58,290.02 86.75,289.16 86.5,288.00 87.11,286.36 87.7,284.33 88.32,282.25 89.0,280.50 89.76,279.07 90.57,277.81 91.43,276.82 92.3,276.20 93.14,276.07 93.98,276.36 94.90,276.84 96.0,277.30 97.28,277.68 98.69,278.10 100.26,278.62 102.0,279.30 103.99,280.18 106.21,281.22 108.47,282.37 110.6,283.60 112.63,285.02 114.62,286.61 116.48,288.12 118.1,289.30 118.47,290.07 117.98,290.56 118.62,290.87 122.4,291.10 131.60,291.23 144.57,291.21 157.40,291.14 166.2,291.10" fill="none" stroke="#9a9a9a" stroke-width="1.0" stroke-linejoin="round" stroke-linecap="round"/>
<polyline points="44.2,299.30 52.23,299.35 63.94,299.44 75.74,299.46 84.0,299.30 87.25,298.98 87.58,298.55 86.75,297.92 86.5,297.00 87.12,295.73 87.74,294.16 88.36,292.42 89.0,290.60 89.66,288.55 90.34,286.27 91.02,284.13 91.7,282.50 92.35,281.49 92.99,280.89 93.66,280.63 94.4,280.60 95.23,280.88 96.12,281.48 97.05,282.24 98.0,283.00 98.81,283.73 99.56,284.50 100.52,285.35 102.0,286.30 104.28,287.35 107.12,288.48 110.09,289.72 112.7,291.10 114.92,292.81 116.97,294.77 118.78,296.62 120.3,298.00 120.48,298.75 119.71,299.08 120.03,299.20 123.5,299.30 132.40,299.39 145.05,299.38 157.60,299.33 166.2,299.30" fill="none" stroke="#9a9a9a" stroke-width="1.0" stroke-linejoin="round" stroke-linecap="round"/>
<polyline points="44.2,308.30 52.21,308.34 63.91,308.41 75.70,308.43 84.0,308.30 87.31,308.13 87.72,307.93 87.03,307.46 87.0,306.50 87.99,304.84 89.09,302.64 90.19,300.28 91.2,298.10 92.08,296.06 92.89,294.02 93.66,292.19 94.4,290.80 95.06,289.88 95.64,289.31 96.28,289.12 97.1,289.30 98.08,289.96 99.18,291.05 100.46,292.39 102.0,293.80 103.92,295.31 106.14,296.99 108.44,298.71 110.6,300.30 112.63,301.80 114.62,303.25 116.48,304.58 118.1,305.70 118.47,306.59 117.98,307.28 118.62,307.81 122.4,308.20 131.60,308.40 144.57,308.41 157.40,308.34 166.2,308.30" fill="none" stroke="#9a9a9a" stroke-width="1.0" stroke-linejoin="round" stroke-linecap="round"/>
<line x1="93.2" y1="309.0" x2="93.2" y2="306.5" stroke="#8a8a8a" stroke-width="1"/>
<line x1="141.4" y1="309.0" x2="141.4" y2="306.5" stroke="#8a8a8a" stroke-width="1"/>
<line x1="136.8" y1="292.3" x2="136.8" y2="266" stroke="#175c7c" stroke-width="2.4"/>
<polygon points="136.8,261.5 133.7,268.8 139.9,268.8" fill="#175c7c"/>
<text x="39.3" y="242.3" font-size="11" text-anchor="end" fill="#333">4.0</text>
<text x="39.3" y="277.3" font-size="11" text-anchor="end" fill="#333">2.0</text>
<text x="39.3" y="311.4" font-size="11" text-anchor="end" fill="#333">0</text>
<text x="45" y="322" font-size="11" text-anchor="middle" fill="#333">3.20</text>
<text x="93.2" y="322" font-size="11" text-anchor="middle" fill="#333">3.22</text>
<text x="141.4" y="322" font-size="11" text-anchor="middle" fill="#333">3.24</text>
<text x="105.2" y="339.7" font-size="12.5" text-anchor="middle" fill="#333">Frequency (THz)</text>
<text x="154" y="216.3" font-size="9.4" text-anchor="end" fill="#333"><tspan font-style="italic">V</tspan><tspan font-size="6.4" dy="2.1">G</tspan><tspan dy="-2.1"> = 4 V</tspan></text>
<text x="5.7" y="256" font-size="13.3" text-anchor="middle" fill="#333" transform="rotate(-90 5.7 256)" dy="4.6">Intensity (a.u.)</text>
<rect x="47.6" y="389.3" width="120.70000000000002" height="105.0" fill="none" stroke="#8a8a8a" stroke-width="1"/>
<polyline points="47.6,421.30 48.1,421.30 48.6,421.30 49.1,421.30 49.6,421.30 50.1,421.30 50.6,421.30 51.1,421.30 51.6,421.30 52.1,421.30 52.6,421.30 53.1,421.30 53.6,421.30 54.1,421.30 54.6,421.30 55.1,421.30 55.6,421.30 56.1,421.30 56.6,421.30 57.1,421.30 57.6,421.30 58.1,421.30 58.6,421.30 59.1,421.30 59.6,421.30 60.1,421.30 60.6,421.30 61.1,421.30 61.6,421.30 62.1,421.30 62.6,421.30 63.1,421.30 63.6,421.30 64.1,421.30 64.6,421.30 65.1,421.30 65.6,421.30 66.1,421.30 66.6,421.30 67.1,421.30 67.6,421.30 68.1,421.30 68.6,421.30 69.1,421.30 69.6,421.30 70.1,421.30 70.6,421.30 71.1,421.30 71.6,421.30 72.1,421.30 72.6,421.30 73.1,421.30 73.6,421.30 74.1,421.30 74.6,421.30 75.1,421.30 75.6,421.30 76.1,421.30 76.6,421.30 77.1,421.30 77.6,421.30 78.1,421.30 78.6,421.30 79.1,421.30 79.6,421.30 80.1,421.30 80.6,421.30 81.1,421.30 81.6,421.30 82.1,421.30 82.6,421.30 83.1,421.30 83.6,421.30 84.1,421.30 84.6,421.29 85.1,421.29 85.6,421.28 86.1,421.27 86.6,421.25 87.1,421.22 87.6,421.18 88.1,421.12 88.6,421.04 89.1,420.94 89.6,420.80 90.1,420.63 90.6,420.43 91.1,420.20 91.6,419.94 92.1,419.66 92.6,419.37 93.1,419.07 93.6,418.77 94.1,418.47 94.6,418.16 95.1,417.83 95.6,417.45 96.1,417.01 96.6,416.45 97.1,415.76 97.6,414.89 98.1,413.84 98.6,412.59 99.1,411.17 99.6,409.61 100.1,407.97 100.6,406.35 101.1,404.81 101.6,403.47 102.1,402.42 102.6,401.72 103.1,401.44 103.6,401.63 104.1,402.35 104.6,403.53 105.1,405.09 105.6,406.92 106.1,408.89 106.6,410.88 107.1,412.79 107.6,414.55 108.1,416.08 108.6,417.38 109.1,418.44 109.6,419.27 110.1,419.89 110.6,420.35 111.1,420.68 111.6,420.91 112.1,421.06 112.6,421.15 113.1,421.21 113.6,421.25 114.1,421.27 114.6,421.29 115.1,421.29 115.6,421.30 116.1,421.30 116.6,421.30 117.1,421.30 117.6,421.30 118.1,421.30 118.6,421.30 119.1,421.30 119.6,421.30 120.1,421.30 120.6,421.30 121.1,421.30 121.6,421.30 122.1,421.30 122.6,421.30 123.1,421.30 123.6,421.30 124.1,421.30 124.6,421.30 125.1,421.30 125.6,421.30 126.1,421.30 126.6,421.30 127.1,421.30 127.6,421.30 128.1,421.30 128.6,421.30 129.1,421.30 129.6,421.30 130.1,421.30 130.6,421.30 131.1,421.30 131.6,421.30 132.1,421.30 132.6,421.30 133.1,421.30 133.6,421.30 134.1,421.30 134.6,421.30 135.1,421.30 135.6,421.30 136.1,421.30 136.6,421.30 137.1,421.30 137.6,421.30 138.1,421.30 138.6,421.30 139.1,421.30 139.6,421.30 140.1,421.30 140.6,421.30 141.1,421.30 141.6,421.30 142.1,421.30 142.6,421.30 143.1,421.30 143.6,421.30 144.1,421.30 144.6,421.30 145.1,421.30 145.6,421.30 146.1,421.30 146.6,421.30 147.1,421.30 147.6,421.30 148.1,421.30 148.6,421.30 149.1,421.30 149.6,421.30 150.1,421.30 150.6,421.30 151.1,421.30 151.6,421.30 152.1,421.30 152.6,421.30 153.1,421.30 153.6,421.30 154.1,421.30 154.6,421.30 155.1,421.30 155.6,421.30 156.1,421.30 156.6,421.30 157.1,421.30 157.6,421.30 158.1,421.30 158.6,421.30 159.1,421.30 159.6,421.30 160.1,421.30 160.6,421.30 161.1,421.30 161.6,421.30 162.1,421.30 162.6,421.30 163.1,421.30 163.6,421.30 164.1,421.30 164.6,421.30 165.1,421.30 165.6,421.30 166.1,421.30 166.6,421.30 167.1,421.30 167.6,421.30 168.1,421.30" fill="none" stroke="#9a9a9a" stroke-width="1.0" stroke-linejoin="round" stroke-linecap="round"/>
<polyline points="47.6,431.40 48.1,431.40 48.6,431.40 49.1,431.40 49.6,431.40 50.1,431.40 50.6,431.40 51.1,431.40 51.6,431.40 52.1,431.40 52.6,431.40 53.1,431.40 53.6,431.40 54.1,431.40 54.6,431.40 55.1,431.40 55.6,431.40 56.1,431.40 56.6,431.40 57.1,431.40 57.6,431.40 58.1,431.40 58.6,431.40 59.1,431.40 59.6,431.40 60.1,431.40 60.6,431.40 61.1,431.40 61.6,431.40 62.1,431.40 62.6,431.40 63.1,431.40 63.6,431.40 64.1,431.40 64.6,431.40 65.1,431.40 65.6,431.40 66.1,431.40 66.6,431.40 67.1,431.40 67.6,431.40 68.1,431.40 68.6,431.40 69.1,431.40 69.6,431.40 70.1,431.40 70.6,431.40 71.1,431.40 71.6,431.40 72.1,431.40 72.6,431.40 73.1,431.40 73.6,431.40 74.1,431.40 74.6,431.40 75.1,431.40 75.6,431.40 76.1,431.40 76.6,431.40 77.1,431.40 77.6,431.40 78.1,431.40 78.6,431.40 79.1,431.40 79.6,431.40 80.1,431.40 80.6,431.40 81.1,431.40 81.6,431.40 82.1,431.40 82.6,431.40 83.1,431.40 83.6,431.40 84.1,431.40 84.6,431.40 85.1,431.39 85.6,431.39 86.1,431.38 86.6,431.37 87.1,431.35 87.6,431.33 88.1,431.29 88.6,431.24 89.1,431.18 89.6,431.10 90.1,430.99 90.6,430.87 91.1,430.72 91.6,430.55 92.1,430.36 92.6,430.15 93.1,429.92 93.6,429.66 94.1,429.38 94.6,429.06 95.1,428.67 95.6,428.20 96.1,427.62 96.6,426.91 97.1,426.03 97.6,424.96 98.1,423.70 98.6,422.26 99.1,420.66 99.6,418.95 100.1,417.19 100.6,415.46 101.1,413.86 101.6,412.47 102.1,411.38 102.6,410.66 103.1,410.37 103.6,410.57 104.1,411.37 104.6,412.70 105.1,414.45 105.6,416.49 106.1,418.66 106.6,420.84 107.1,422.90 107.6,424.76 108.1,426.36 108.6,427.69 109.1,428.75 109.6,429.56 110.1,430.16 110.6,430.59 111.1,430.89 111.6,431.08 112.1,431.21 112.6,431.29 113.1,431.34 113.6,431.37 114.1,431.38 114.6,431.39 115.1,431.40 115.6,431.40 116.1,431.40 116.6,431.40 117.1,431.40 117.6,431.40 118.1,431.40 118.6,431.40 119.1,431.40 119.6,431.40 120.1,431.40 120.6,431.40 121.1,431.40 121.6,431.40 122.1,431.40 122.6,431.40 123.1,431.40 123.6,431.40 124.1,431.40 124.6,431.40 125.1,431.40 125.6,431.40 126.1,431.40 126.6,431.40 127.1,431.40 127.6,431.40 128.1,431.40 128.6,431.40 129.1,431.40 129.6,431.40 130.1,431.40 130.6,431.40 131.1,431.40 131.6,431.40 132.1,431.40 132.6,431.40 133.1,431.40 133.6,431.40 134.1,431.40 134.6,431.40 135.1,431.40 135.6,431.40 136.1,431.40 136.6,431.40 137.1,431.40 137.6,431.40 138.1,431.40 138.6,431.40 139.1,431.40 139.6,431.40 140.1,431.40 140.6,431.40 141.1,431.40 141.6,431.40 142.1,431.40 142.6,431.40 143.1,431.40 143.6,431.40 144.1,431.40 144.6,431.40 145.1,431.40 145.6,431.40 146.1,431.40 146.6,431.40 147.1,431.40 147.6,431.40 148.1,431.40 148.6,431.40 149.1,431.40 149.6,431.40 150.1,431.40 150.6,431.40 151.1,431.40 151.6,431.40 152.1,431.40 152.6,431.40 153.1,431.40 153.6,431.40 154.1,431.40 154.6,431.40 155.1,431.40 155.6,431.40 156.1,431.40 156.6,431.40 157.1,431.40 157.6,431.40 158.1,431.40 158.6,431.40 159.1,431.40 159.6,431.40 160.1,431.40 160.6,431.40 161.1,431.40 161.6,431.40 162.1,431.40 162.6,431.40 163.1,431.40 163.6,431.40 164.1,431.40 164.6,431.40 165.1,431.40 165.6,431.40 166.1,431.40 166.6,431.40 167.1,431.40 167.6,431.40 168.1,431.40" fill="none" stroke="#231f20" stroke-width="1.05" stroke-linejoin="round" stroke-linecap="round"/>
<polyline points="47.6,441.50 48.1,441.50 48.6,441.50 49.1,441.50 49.6,441.50 50.1,441.50 50.6,441.50 51.1,441.50 51.6,441.50 52.1,441.50 52.6,441.50 53.1,441.50 53.6,441.50 54.1,441.50 54.6,441.50 55.1,441.50 55.6,441.50 56.1,441.50 56.6,441.50 57.1,441.50 57.6,441.50 58.1,441.50 58.6,441.50 59.1,441.50 59.6,441.50 60.1,441.50 60.6,441.50 61.1,441.50 61.6,441.50 62.1,441.50 62.6,441.50 63.1,441.50 63.6,441.50 64.1,441.50 64.6,441.50 65.1,441.50 65.6,441.50 66.1,441.50 66.6,441.50 67.1,441.50 67.6,441.50 68.1,441.50 68.6,441.50 69.1,441.50 69.6,441.50 70.1,441.50 70.6,441.50 71.1,441.50 71.6,441.50 72.1,441.50 72.6,441.50 73.1,441.50 73.6,441.50 74.1,441.50 74.6,441.50 75.1,441.50 75.6,441.50 76.1,441.50 76.6,441.50 77.1,441.50 77.6,441.50 78.1,441.50 78.6,441.50 79.1,441.50 79.6,441.50 80.1,441.50 80.6,441.50 81.1,441.50 81.6,441.50 82.1,441.50 82.6,441.50 83.1,441.50 83.6,441.50 84.1,441.50 84.6,441.50 85.1,441.49 85.6,441.49 86.1,441.48 86.6,441.47 87.1,441.45 87.6,441.43 88.1,441.39 88.6,441.34 89.1,441.28 89.6,441.20 90.1,441.10 90.6,440.97 91.1,440.83 91.6,440.67 92.1,440.49 92.6,440.30 93.1,440.09 93.6,439.88 94.1,439.64 94.6,439.38 95.1,439.08 95.6,438.71 96.1,438.25 96.6,437.68 97.1,436.95 97.6,436.04 98.1,434.95 98.6,433.65 99.1,432.16 99.6,430.53 100.1,428.78 100.6,427.01 101.1,425.28 101.6,423.70 102.1,422.36 102.6,421.33 103.1,420.69 103.6,420.48 104.1,420.77 104.6,421.63 105.1,422.96 105.6,424.68 106.1,426.66 106.6,428.76 107.1,430.87 107.6,432.87 108.1,434.68 108.6,436.26 109.1,437.59 109.6,438.66 110.1,439.49 110.6,440.12 111.1,440.58 111.6,440.90 112.1,441.12 112.6,441.27 113.1,441.36 113.6,441.42 114.1,441.45 114.6,441.47 115.1,441.49 115.6,441.49 116.1,441.50 116.6,441.50 117.1,441.50 117.6,441.50 118.1,441.50 118.6,441.50 119.1,441.50 119.6,441.50 120.1,441.50 120.6,441.50 121.1,441.50 121.6,441.50 122.1,441.50 122.6,441.50 123.1,441.50 123.6,441.50 124.1,441.50 124.6,441.50 125.1,441.50 125.6,441.50 126.1,441.50 126.6,441.50 127.1,441.50 127.6,441.50 128.1,441.50 128.6,441.50 129.1,441.50 129.6,441.50 130.1,441.50 130.6,441.50 131.1,441.50 131.6,441.50 132.1,441.50 132.6,441.50 133.1,441.50 133.6,441.50 134.1,441.50 134.6,441.50 135.1,441.50 135.6,441.50 136.1,441.50 136.6,441.50 137.1,441.50 137.6,441.50 138.1,441.50 138.6,441.50 139.1,441.50 139.6,441.50 140.1,441.50 140.6,441.50 141.1,441.50 141.6,441.50 142.1,441.50 142.6,441.50 143.1,441.50 143.6,441.50 144.1,441.50 144.6,441.50 145.1,441.50 145.6,441.50 146.1,441.50 146.6,441.50 147.1,441.50 147.6,441.50 148.1,441.50 148.6,441.50 149.1,441.50 149.6,441.50 150.1,441.50 150.6,441.50 151.1,441.50 151.6,441.50 152.1,441.50 152.6,441.50 153.1,441.50 153.6,441.50 154.1,441.50 154.6,441.50 155.1,441.50 155.6,441.50 156.1,441.50 156.6,441.50 157.1,441.50 157.6,441.50 158.1,441.50 158.6,441.50 159.1,441.50 159.6,441.50 160.1,441.50 160.6,441.50 161.1,441.50 161.6,441.50 162.1,441.50 162.6,441.50 163.1,441.50 163.6,441.50 164.1,441.50 164.6,441.50 165.1,441.50 165.6,441.50 166.1,441.50 166.6,441.50 167.1,441.50 167.6,441.50 168.1,441.50" fill="none" stroke="#9a9a9a" stroke-width="1.0" stroke-linejoin="round" stroke-linecap="round"/>
<polyline points="47.6,452.00 48.1,452.00 48.6,452.00 49.1,452.00 49.6,452.00 50.1,452.00 50.6,452.00 51.1,452.00 51.6,452.00 52.1,452.00 52.6,452.00 53.1,452.00 53.6,452.00 54.1,452.00 54.6,452.00 55.1,452.00 55.6,452.00 56.1,452.00 56.6,452.00 57.1,452.00 57.6,452.00 58.1,452.00 58.6,452.00 59.1,452.00 59.6,452.00 60.1,452.00 60.6,452.00 61.1,452.00 61.6,452.00 62.1,452.00 62.6,452.00 63.1,452.00 63.6,452.00 64.1,452.00 64.6,452.00 65.1,452.00 65.6,452.00 66.1,452.00 66.6,452.00 67.1,452.00 67.6,452.00 68.1,452.00 68.6,452.00 69.1,452.00 69.6,452.00 70.1,452.00 70.6,452.00 71.1,452.00 71.6,452.00 72.1,452.00 72.6,452.00 73.1,452.00 73.6,452.00 74.1,452.00 74.6,452.00 75.1,452.00 75.6,452.00 76.1,452.00 76.6,452.00 77.1,452.00 77.6,452.00 78.1,452.00 78.6,452.00 79.1,452.00 79.6,452.00 80.1,452.00 80.6,452.00 81.1,452.00 81.6,452.00 82.1,452.00 82.6,452.00 83.1,452.00 83.6,452.00 84.1,451.99 84.6,451.99 85.1,451.99 85.6,451.98 86.1,451.96 86.6,451.94 87.1,451.91 87.6,451.88 88.1,451.83 88.6,451.76 89.1,451.68 89.6,451.59 90.1,451.48 90.6,451.36 91.1,451.23 91.6,451.10 92.1,450.97 92.6,450.84 93.1,450.72 93.6,450.60 94.1,450.47 94.6,450.32 95.1,450.12 95.6,449.86 96.1,449.49 96.6,448.98 97.1,448.31 97.6,447.43 98.1,446.34 98.6,445.03 99.1,443.51 99.6,441.81 100.1,440.00 100.6,438.13 101.1,436.32 101.6,434.64 102.1,433.21 102.6,432.11 103.1,431.43 103.6,431.19 104.1,431.48 104.6,432.32 105.1,433.64 105.6,435.34 106.1,437.30 106.6,439.38 107.1,441.47 107.6,443.45 108.1,445.25 108.6,446.81 109.1,448.13 109.6,449.19 110.1,450.01 110.6,450.63 111.1,451.09 111.6,451.41 112.1,451.62 112.6,451.77 113.1,451.86 113.6,451.92 114.1,451.95 114.6,451.97 115.1,451.99 115.6,451.99 116.1,452.00 116.6,452.00 117.1,452.00 117.6,452.00 118.1,452.00 118.6,452.00 119.1,452.00 119.6,452.00 120.1,452.00 120.6,452.00 121.1,452.00 121.6,452.00 122.1,452.00 122.6,452.00 123.1,452.00 123.6,452.00 124.1,452.00 124.6,452.00 125.1,452.00 125.6,452.00 126.1,452.00 126.6,452.00 127.1,452.00 127.6,452.00 128.1,452.00 128.6,452.00 129.1,452.00 129.6,452.00 130.1,452.00 130.6,452.00 131.1,452.00 131.6,452.00 132.1,452.00 132.6,452.00 133.1,452.00 133.6,452.00 134.1,452.00 134.6,452.00 135.1,452.00 135.6,452.00 136.1,452.00 136.6,452.00 137.1,452.00 137.6,452.00 138.1,452.00 138.6,452.00 139.1,452.00 139.6,452.00 140.1,452.00 140.6,452.00 141.1,452.00 141.6,452.00 142.1,452.00 142.6,452.00 143.1,452.00 143.6,452.00 144.1,452.00 144.6,452.00 145.1,452.00 145.6,452.00 146.1,452.00 146.6,452.00 147.1,452.00 147.6,452.00 148.1,452.00 148.6,452.00 149.1,452.00 149.6,452.00 150.1,452.00 150.6,452.00 151.1,452.00 151.6,452.00 152.1,452.00 152.6,452.00 153.1,452.00 153.6,452.00 154.1,452.00 154.6,452.00 155.1,452.00 155.6,452.00 156.1,452.00 156.6,452.00 157.1,452.00 157.6,452.00 158.1,452.00 158.6,452.00 159.1,452.00 159.6,452.00 160.1,452.00 160.6,452.00 161.1,452.00 161.6,452.00 162.1,452.00 162.6,452.00 163.1,452.00 163.6,452.00 164.1,452.00 164.6,452.00 165.1,452.00 165.6,452.00 166.1,452.00 166.6,452.00 167.1,452.00 167.6,452.00 168.1,452.00" fill="none" stroke="#3f5aa8" stroke-width="1.2" stroke-linejoin="round" stroke-linecap="round"/>
<polyline points="47.6,462.20 48.1,462.20 48.6,462.20 49.1,462.20 49.6,462.20 50.1,462.20 50.6,462.20 51.1,462.20 51.6,462.20 52.1,462.20 52.6,462.20 53.1,462.20 53.6,462.20 54.1,462.20 54.6,462.20 55.1,462.20 55.6,462.20 56.1,462.20 56.6,462.20 57.1,462.20 57.6,462.20 58.1,462.20 58.6,462.20 59.1,462.20 59.6,462.20 60.1,462.20 60.6,462.20 61.1,462.20 61.6,462.20 62.1,462.20 62.6,462.20 63.1,462.20 63.6,462.20 64.1,462.20 64.6,462.20 65.1,462.20 65.6,462.20 66.1,462.20 66.6,462.20 67.1,462.20 67.6,462.20 68.1,462.20 68.6,462.20 69.1,462.20 69.6,462.20 70.1,462.20 70.6,462.20 71.1,462.20 71.6,462.20 72.1,462.20 72.6,462.20 73.1,462.20 73.6,462.20 74.1,462.20 74.6,462.20 75.1,462.20 75.6,462.20 76.1,462.20 76.6,462.20 77.1,462.20 77.6,462.20 78.1,462.20 78.6,462.20 79.1,462.20 79.6,462.20 80.1,462.20 80.6,462.20 81.1,462.20 81.6,462.20 82.1,462.20 82.6,462.20 83.1,462.20 83.6,462.20 84.1,462.20 84.6,462.20 85.1,462.20 85.6,462.19 86.1,462.19 86.6,462.18 87.1,462.17 87.6,462.15 88.1,462.13 88.6,462.10 89.1,462.05 89.6,462.00 90.1,461.93 90.6,461.85 91.1,461.75 91.6,461.64 92.1,461.52 92.6,461.39 93.1,461.25 93.6,461.09 94.1,460.93 94.6,460.75 95.1,460.53 95.6,460.27 96.1,459.95 96.6,459.53 97.1,459.01 97.6,458.36 98.1,457.55 98.6,456.58 99.1,455.45 99.6,454.16 100.1,452.75 100.6,451.25 101.1,449.72 101.6,448.22 102.1,446.81 102.6,445.57 103.1,444.56 103.6,443.84 104.1,443.46 104.6,443.43 105.1,443.84 105.6,444.67 106.1,445.87 106.6,447.36 107.1,449.03 107.6,450.80 108.1,452.56 108.6,454.26 109.1,455.81 109.6,457.18 110.1,458.35 110.6,459.32 111.1,460.10 111.6,460.70 112.1,461.16 112.6,461.49 113.1,461.73 113.6,461.90 114.1,462.01 114.6,462.08 115.1,462.13 115.6,462.16 116.1,462.18 116.6,462.19 117.1,462.19 117.6,462.20 118.1,462.20 118.6,462.20 119.1,462.20 119.6,462.20 120.1,462.20 120.6,462.20 121.1,462.20 121.6,462.20 122.1,462.20 122.6,462.20 123.1,462.20 123.6,462.20 124.1,462.20 124.6,462.20 125.1,462.20 125.6,462.20 126.1,462.20 126.6,462.20 127.1,462.20 127.6,462.20 128.1,462.20 128.6,462.20 129.1,462.20 129.6,462.20 130.1,462.20 130.6,462.20 131.1,462.20 131.6,462.20 132.1,462.20 132.6,462.20 133.1,462.20 133.6,462.20 134.1,462.20 134.6,462.20 135.1,462.20 135.6,462.20 136.1,462.20 136.6,462.20 137.1,462.20 137.6,462.20 138.1,462.20 138.6,462.20 139.1,462.20 139.6,462.20 140.1,462.20 140.6,462.20 141.1,462.20 141.6,462.20 142.1,462.20 142.6,462.20 143.1,462.20 143.6,462.20 144.1,462.20 144.6,462.20 145.1,462.20 145.6,462.20 146.1,462.20 146.6,462.20 147.1,462.20 147.6,462.20 148.1,462.20 148.6,462.20 149.1,462.20 149.6,462.20 150.1,462.20 150.6,462.20 151.1,462.20 151.6,462.20 152.1,462.20 152.6,462.20 153.1,462.20 153.6,462.20 154.1,462.20 154.6,462.20 155.1,462.20 155.6,462.20 156.1,462.20 156.6,462.20 157.1,462.20 157.6,462.20 158.1,462.20 158.6,462.20 159.1,462.20 159.6,462.20 160.1,462.20 160.6,462.20 161.1,462.20 161.6,462.20 162.1,462.20 162.6,462.20 163.1,462.20 163.6,462.20 164.1,462.20 164.6,462.20 165.1,462.20 165.6,462.20 166.1,462.20 166.6,462.20 167.1,462.20 167.6,462.20 168.1,462.20" fill="none" stroke="#9a9a9a" stroke-width="1.0" stroke-linejoin="round" stroke-linecap="round"/>
<polyline points="47.6,472.80 48.1,472.80 48.6,472.80 49.1,472.80 49.6,472.80 50.1,472.80 50.6,472.80 51.1,472.80 51.6,472.80 52.1,472.80 52.6,472.80 53.1,472.80 53.6,472.80 54.1,472.80 54.6,472.80 55.1,472.80 55.6,472.80 56.1,472.80 56.6,472.80 57.1,472.80 57.6,472.80 58.1,472.80 58.6,472.80 59.1,472.80 59.6,472.80 60.1,472.80 60.6,472.80 61.1,472.80 61.6,472.80 62.1,472.80 62.6,472.80 63.1,472.80 63.6,472.80 64.1,472.80 64.6,472.80 65.1,472.80 65.6,472.80 66.1,472.80 66.6,472.80 67.1,472.80 67.6,472.80 68.1,472.80 68.6,472.80 69.1,472.80 69.6,472.80 70.1,472.80 70.6,472.80 71.1,472.80 71.6,472.80 72.1,472.80 72.6,472.80 73.1,472.80 73.6,472.80 74.1,472.80 74.6,472.80 75.1,472.80 75.6,472.80 76.1,472.80 76.6,472.80 77.1,472.80 77.6,472.80 78.1,472.80 78.6,472.80 79.1,472.80 79.6,472.80 80.1,472.80 80.6,472.80 81.1,472.80 81.6,472.80 82.1,472.80 82.6,472.80 83.1,472.80 83.6,472.80 84.1,472.80 84.6,472.80 85.1,472.80 85.6,472.79 86.1,472.79 86.6,472.78 87.1,472.77 87.6,472.76 88.1,472.74 88.6,472.72 89.1,472.68 89.6,472.64 90.1,472.58 90.6,472.51 91.1,472.43 91.6,472.34 92.1,472.24 92.6,472.12 93.1,472.00 93.6,471.86 94.1,471.70 94.6,471.51 95.1,471.28 95.6,470.99 96.1,470.63 96.6,470.16 97.1,469.58 97.6,468.84 98.1,467.94 98.6,466.87 99.1,465.62 99.6,464.21 100.1,462.66 100.6,461.03 101.1,459.36 101.6,457.73 102.1,456.20 102.6,454.85 103.1,453.76 103.6,452.98 104.1,452.56 104.6,452.53 105.1,452.95 105.6,453.80 106.1,455.02 106.6,456.54 107.1,458.27 107.6,460.11 108.1,461.97 108.6,463.77 109.1,465.44 109.6,466.93 110.1,468.23 110.6,469.32 111.1,470.22 111.6,470.92 112.1,471.47 112.6,471.87 113.1,472.17 113.6,472.38 114.1,472.53 114.6,472.63 115.1,472.69 115.6,472.74 116.1,472.76 116.6,472.78 117.1,472.79 117.6,472.79 118.1,472.80 118.6,472.80 119.1,472.80 119.6,472.80 120.1,472.80 120.6,472.80 121.1,472.80 121.6,472.80 122.1,472.80 122.6,472.80 123.1,472.80 123.6,472.80 124.1,472.80 124.6,472.80 125.1,472.80 125.6,472.80 126.1,472.80 126.6,472.80 127.1,472.80 127.6,472.80 128.1,472.80 128.6,472.80 129.1,472.80 129.6,472.80 130.1,472.80 130.6,472.80 131.1,472.80 131.6,472.80 132.1,472.80 132.6,472.80 133.1,472.80 133.6,472.80 134.1,472.80 134.6,472.80 135.1,472.80 135.6,472.80 136.1,472.80 136.6,472.80 137.1,472.80 137.6,472.80 138.1,472.80 138.6,472.80 139.1,472.80 139.6,472.80 140.1,472.80 140.6,472.80 141.1,472.80 141.6,472.80 142.1,472.80 142.6,472.80 143.1,472.80 143.6,472.80 144.1,472.80 144.6,472.80 145.1,472.80 145.6,472.80 146.1,472.80 146.6,472.80 147.1,472.80 147.6,472.80 148.1,472.80 148.6,472.80 149.1,472.80 149.6,472.80 150.1,472.80 150.6,472.80 151.1,472.80 151.6,472.80 152.1,472.80 152.6,472.80 153.1,472.80 153.6,472.80 154.1,472.80 154.6,472.80 155.1,472.80 155.6,472.80 156.1,472.80 156.6,472.80 157.1,472.80 157.6,472.80 158.1,472.80 158.6,472.80 159.1,472.80 159.6,472.80 160.1,472.80 160.6,472.80 161.1,472.80 161.6,472.80 162.1,472.80 162.6,472.80 163.1,472.80 163.6,472.80 164.1,472.80 164.6,472.80 165.1,472.80 165.6,472.80 166.1,472.80 166.6,472.80 167.1,472.80 167.6,472.80 168.1,472.80" fill="none" stroke="#ec2227" stroke-width="1.2" stroke-linejoin="round" stroke-linecap="round"/>
<polyline points="47.6,483.10 48.1,483.10 48.6,483.10 49.1,483.10 49.6,483.10 50.1,483.10 50.6,483.10 51.1,483.10 51.6,483.10 52.1,483.10 52.6,483.10 53.1,483.10 53.6,483.10 54.1,483.10 54.6,483.10 55.1,483.10 55.6,483.10 56.1,483.10 56.6,483.10 57.1,483.10 57.6,483.10 58.1,483.10 58.6,483.10 59.1,483.10 59.6,483.10 60.1,483.10 60.6,483.10 61.1,483.10 61.6,483.10 62.1,483.10 62.6,483.10 63.1,483.10 63.6,483.10 64.1,483.10 64.6,483.10 65.1,483.10 65.6,483.10 66.1,483.10 66.6,483.10 67.1,483.10 67.6,483.10 68.1,483.10 68.6,483.10 69.1,483.10 69.6,483.10 70.1,483.10 70.6,483.10 71.1,483.10 71.6,483.10 72.1,483.10 72.6,483.10 73.1,483.10 73.6,483.10 74.1,483.10 74.6,483.10 75.1,483.10 75.6,483.10 76.1,483.10 76.6,483.10 77.1,483.10 77.6,483.10 78.1,483.10 78.6,483.10 79.1,483.10 79.6,483.10 80.1,483.10 80.6,483.10 81.1,483.10 81.6,483.10 82.1,483.10 82.6,483.10 83.1,483.10 83.6,483.10 84.1,483.10 84.6,483.10 85.1,483.10 85.6,483.10 86.1,483.10 86.6,483.10 87.1,483.10 87.6,483.10 88.1,483.10 88.6,483.10 89.1,483.10 89.6,483.10 90.1,483.10 90.6,483.10 91.1,483.09 91.6,483.09 92.1,483.08 92.6,483.07 93.1,483.05 93.6,483.02 94.1,482.98 94.6,482.92 95.1,482.83 95.6,482.70 96.1,482.52 96.6,482.28 97.1,481.96 97.6,481.54 98.1,481.01 98.6,480.34 99.1,479.53 99.6,478.57 100.1,477.45 100.6,476.18 101.1,474.78 101.6,473.28 102.1,471.71 102.6,470.13 103.1,468.61 103.6,467.19 104.1,465.95 104.6,464.96 105.1,464.25 105.6,463.86 106.1,463.84 106.6,464.26 107.1,465.11 107.6,466.34 108.1,467.86 108.6,469.58 109.1,471.39 109.6,473.21 110.1,474.94 110.6,476.54 111.1,477.95 111.6,479.15 112.1,480.15 112.6,480.94 113.1,481.56 113.6,482.03 114.1,482.38 114.6,482.62 115.1,482.79 115.6,482.90 116.1,482.98 116.6,483.03 117.1,483.06 117.6,483.08 118.1,483.09 118.6,483.09 119.1,483.10 119.6,483.10 120.1,483.10 120.6,483.10 121.1,483.10 121.6,483.10 122.1,483.10 122.6,483.10 123.1,483.10 123.6,483.10 124.1,483.10 124.6,483.10 125.1,483.10 125.6,483.10 126.1,483.10 126.6,483.10 127.1,483.10 127.6,483.10 128.1,483.10 128.6,483.10 129.1,483.10 129.6,483.10 130.1,483.10 130.6,483.10 131.1,483.10 131.6,483.10 132.1,483.10 132.6,483.10 133.1,483.10 133.6,483.10 134.1,483.10 134.6,483.10 135.1,483.10 135.6,483.10 136.1,483.10 136.6,483.10 137.1,483.10 137.6,483.10 138.1,483.10 138.6,483.10 139.1,483.10 139.6,483.10 140.1,483.10 140.6,483.10 141.1,483.10 141.6,483.10 142.1,483.10 142.6,483.10 143.1,483.10 143.6,483.10 144.1,483.10 144.6,483.10 145.1,483.10 145.6,483.10 146.1,483.10 146.6,483.10 147.1,483.10 147.6,483.10 148.1,483.10 148.6,483.10 149.1,483.10 149.6,483.10 150.1,483.10 150.6,483.10 151.1,483.10 151.6,483.10 152.1,483.10 152.6,483.10 153.1,483.10 153.6,483.10 154.1,483.10 154.6,483.10 155.1,483.10 155.6,483.10 156.1,483.10 156.6,483.10 157.1,483.10 157.6,483.10 158.1,483.10 158.6,483.10 159.1,483.10 159.6,483.10 160.1,483.10 160.6,483.10 161.1,483.10 161.6,483.10 162.1,483.10 162.6,483.10 163.1,483.10 163.6,483.10 164.1,483.10 164.6,483.10 165.1,483.10 165.6,483.10 166.1,483.10 166.6,483.10 167.1,483.10 167.6,483.10 168.1,483.10" fill="none" stroke="#9a9a9a" stroke-width="1.0" stroke-linejoin="round" stroke-linecap="round"/>
<polyline points="47.6,493.30 48.1,493.30 48.6,493.30 49.1,493.30 49.6,493.30 50.1,493.30 50.6,493.30 51.1,493.30 51.6,493.30 52.1,493.30 52.6,493.30 53.1,493.30 53.6,493.30 54.1,493.30 54.6,493.30 55.1,493.30 55.6,493.30 56.1,493.30 56.6,493.30 57.1,493.30 57.6,493.30 58.1,493.30 58.6,493.30 59.1,493.30 59.6,493.30 60.1,493.30 60.6,493.30 61.1,493.30 61.6,493.30 62.1,493.30 62.6,493.30 63.1,493.30 63.6,493.30 64.1,493.30 64.6,493.30 65.1,493.30 65.6,493.30 66.1,493.30 66.6,493.30 67.1,493.30 67.6,493.30 68.1,493.30 68.6,493.30 69.1,493.30 69.6,493.30 70.1,493.30 70.6,493.30 71.1,493.30 71.6,493.30 72.1,493.30 72.6,493.30 73.1,493.30 73.6,493.30 74.1,493.30 74.6,493.30 75.1,493.30 75.6,493.30 76.1,493.30 76.6,493.30 77.1,493.30 77.6,493.30 78.1,493.30 78.6,493.30 79.1,493.30 79.6,493.30 80.1,493.30 80.6,493.30 81.1,493.30 81.6,493.30 82.1,493.30 82.6,493.30 83.1,493.30 83.6,493.30 84.1,493.30 84.6,493.30 85.1,493.30 85.6,493.30 86.1,493.30 86.6,493.30 87.1,493.30 87.6,493.30 88.1,493.30 88.6,493.30 89.1,493.30 89.6,493.30 90.1,493.30 90.6,493.29 91.1,493.29 91.6,493.28 92.1,493.27 92.6,493.26 93.1,493.23 93.6,493.20 94.1,493.15 94.6,493.08 95.1,492.99 95.6,492.86 96.1,492.68 96.6,492.44 97.1,492.14 97.6,491.75 98.1,491.26 98.6,490.66 99.1,489.94 99.6,489.08 100.1,488.09 100.6,486.97 101.1,485.72 101.6,484.37 102.1,482.94 102.6,481.47 103.1,480.00 103.6,478.58 104.1,477.26 104.6,476.09 105.1,475.12 105.6,474.40 106.1,473.95 106.6,473.80 107.1,474.07 107.6,474.85 108.1,476.09 108.6,477.69 109.1,479.52 109.6,481.47 110.1,483.43 110.6,485.28 111.1,486.97 111.6,488.44 112.1,489.67 112.6,490.66 113.1,491.44 113.6,492.02 114.1,492.44 114.6,492.74 115.1,492.95 115.6,493.08 116.1,493.17 116.6,493.22 117.1,493.26 117.6,493.28 118.1,493.29 118.6,493.29 119.1,493.30 119.6,493.30 120.1,493.30 120.6,493.30 121.1,493.30 121.6,493.30 122.1,493.30 122.6,493.30 123.1,493.30 123.6,493.30 124.1,493.30 124.6,493.30 125.1,493.30 125.6,493.30 126.1,493.30 126.6,493.30 127.1,493.30 127.6,493.30 128.1,493.30 128.6,493.30 129.1,493.30 129.6,493.30 130.1,493.30 130.6,493.30 131.1,493.30 131.6,493.30 132.1,493.30 132.6,493.30 133.1,493.30 133.6,493.30 134.1,493.30 134.6,493.30 135.1,493.30 135.6,493.30 136.1,493.30 136.6,493.30 137.1,493.30 137.6,493.30 138.1,493.30 138.6,493.30 139.1,493.30 139.6,493.30 140.1,493.30 140.6,493.30 141.1,493.30 141.6,493.30 142.1,493.30 142.6,493.30 143.1,493.30 143.6,493.30 144.1,493.30 144.6,493.30 145.1,493.30 145.6,493.30 146.1,493.30 146.6,493.30 147.1,493.30 147.6,493.30 148.1,493.30 148.6,493.30 149.1,493.30 149.6,493.30 150.1,493.30 150.6,493.30 151.1,493.30 151.6,493.30 152.1,493.30 152.6,493.30 153.1,493.30 153.6,493.30 154.1,493.30 154.6,493.30 155.1,493.30 155.6,493.30 156.1,493.30 156.6,493.30 157.1,493.30 157.6,493.30 158.1,493.30 158.6,493.30 159.1,493.30 159.6,493.30 160.1,493.30 160.6,493.30 161.1,493.30 161.6,493.30 162.1,493.30 162.6,493.30 163.1,493.30 163.6,493.30 164.1,493.30 164.6,493.30 165.1,493.30 165.6,493.30 166.1,493.30 166.6,493.30 167.1,493.30 167.6,493.30 168.1,493.30" fill="none" stroke="#d04ca6" stroke-width="1.2" stroke-linejoin="round" stroke-linecap="round"/>
<polyline points="47.6,411.40 50.74,411.38 55.22,411.36 60.37,411.33 65.52,411.31 70.0,411.30 73.92,411.39 77.71,411.56 81.23,411.70 84.32,411.69 86.8,411.40 88.5,410.73 89.52,409.77 90.15,408.65 90.65,407.55 91.3,406.60 92.11,405.82 92.89,405.10 93.64,404.44 94.34,403.81 95.0,403.20 95.60,402.66 96.14,402.21 96.64,401.76 97.12,401.25 97.6,400.60 98.06,399.78 98.49,398.83 98.91,397.81 99.34,396.78 99.8,395.80 100.30,394.71 100.82,393.48 101.35,392.33 101.88,391.50 102.4,391.20 102.91,391.55 103.42,392.40 103.92,393.59 104.41,394.94 104.9,396.30 105.36,397.76 105.78,399.43 106.21,401.17 106.67,402.84 107.2,404.30 107.81,405.56 108.48,406.71 109.19,407.74 109.90,408.64 110.6,409.40 111.28,410.01 111.96,410.48 112.64,410.82 113.32,411.05 114.0,411.20 114.68,411.20 115.37,411.03 116.06,410.79 116.74,410.58 117.4,410.50 117.32,410.58 116.52,410.75 116.06,410.96 117.02,411.16 120.5,411.30 127.96,411.37 138.70,411.40 150.48,411.40 161.08,411.40 168.3,411.40" fill="none" stroke="#6dbf62" stroke-width="1.2" stroke-linejoin="round" stroke-linecap="round"/>
<line x1="60.5" y1="494.3" x2="60.5" y2="491.8" stroke="#8a8a8a" stroke-width="1"/>
<line x1="107.8" y1="494.3" x2="107.8" y2="491.8" stroke="#8a8a8a" stroke-width="1"/>
<line x1="155.7" y1="494.3" x2="155.7" y2="491.8" stroke="#8a8a8a" stroke-width="1"/>
<line x1="157.4" y1="459.6" x2="157.4" y2="434" stroke="#175c7c" stroke-width="2.4"/>
<polygon points="157.4,429.6 154.2,437 160.6,437" fill="#175c7c"/>
<text x="42.7" y="415.9" font-size="11" text-anchor="end" fill="#333">2.0</text>
<text x="42.7" y="456.8" font-size="11" text-anchor="end" fill="#333">1.0</text>
<text x="42.7" y="497.7" font-size="11" text-anchor="end" fill="#333">0</text>
<text x="56.8" y="506.6" font-size="11" text-anchor="middle" fill="#333">3.24</text>
<text x="103.9" y="506.6" font-size="11" text-anchor="middle" fill="#333">3.26</text>
<text x="152.6" y="506.6" font-size="11" text-anchor="middle" fill="#333">3.28</text>
<text x="108.5" y="525.4" font-size="12.5" text-anchor="middle" fill="#333">Frequency (THz)</text>
<text x="163" y="403.8" font-size="9.4" text-anchor="end" fill="#333"><tspan font-style="italic">V</tspan><tspan font-size="6.4" dy="2.1">G</tspan><tspan dy="-2.1"> = 4 V</tspan></text>
<text x="165" y="471.3" font-size="9.6" text-anchor="end" fill="#333">Δ<tspan font-style="italic">V</tspan> = 0.5 V</text>
<text x="165" y="491.1" font-size="9.6" text-anchor="end" fill="#333">0 V</text>
<rect x="237.2" y="18.4" width="25.400000000000034" height="105.80000000000001" fill="none" stroke="#8a8a8a" stroke-width="1"/>
<rect x="270.7" y="18.4" width="142.5" height="105.80000000000001" fill="none" stroke="#8a8a8a" stroke-width="1"/>
<polyline points="237.5,38.43 237.7,41.31 237.9,41.04 238.1,40.93 238.3,40.94 238.5,37.31 238.7,38.70 238.9,39.37 239.1,39.31 239.3,39.42 239.5,39.97 239.7,38.88 239.9,38.26 240.1,40.30 240.3,37.95 240.5,40.34 240.7,41.28 240.9,41.55 241.1,40.28 241.3,39.33 241.5,41.00 241.7,39.39 241.9,40.21 242.1,41.49 242.3,38.72 242.5,40.63 242.7,41.00 242.9,39.12 243.1,41.58 243.3,39.51 243.5,41.36 243.7,40.67 243.9,41.21 244.1,38.12 244.3,40.67 244.5,38.69 244.7,39.87 244.9,39.64 245.1,40.23 245.3,40.95 245.5,37.25 245.7,37.61 245.9,41.32 246.1,38.64 246.3,39.42 246.5,40.78 246.7,39.82 246.9,37.64 247.1,40.70 247.3,40.29 247.5,41.94 247.7,40.32 247.9,38.70 248.1,41.03 248.3,39.46 248.5,40.49 248.7,41.29 248.9,38.92 249.1,37.73 249.3,40.97 249.5,38.60 249.7,41.11 249.9,39.11 250.1,39.94 250.3,39.26 250.5,39.86 250.7,40.77 250.9,38.42 251.1,37.63 251.3,40.48 251.5,40.74 251.7,40.38 251.9,37.44 252.1,41.24 252.3,38.37 252.5,40.68 252.7,38.39 252.9,37.57 253.1,38.17 253.3,39.51 253.5,39.95 253.7,41.02 253.9,39.34 254.1,41.15 254.3,41.74 254.5,38.73 254.7,40.16 254.9,39.37 255.1,40.20 255.3,39.92 255.5,41.88 255.7,41.36 255.9,39.71 256.1,40.06 256.3,41.46 256.5,38.76 256.7,41.48 256.9,40.26 257.1,41.51 257.3,39.56 257.5,41.06 257.7,41.54 257.9,41.84 258.1,41.41 258.3,41.35 258.5,40.17 258.7,40.47 258.9,38.75 259.1,38.21 259.3,39.29 259.5,38.57 259.7,39.13 259.9,38.81 260.1,41.92 260.3,41.60 260.5,40.78 260.7,41.68 260.9,39.96 261.1,41.11 261.3,41.10 261.5,41.02 261.7,41.67 261.9,39.48 262.1,39.79 262.3,39.94" fill="none" stroke="#6dbf62" stroke-width="1.0" stroke-linejoin="round" stroke-linecap="round"/>
<polyline points="271.0,41.86 271.2,40.91 271.4,39.82 271.6,41.44 271.8,39.13 272.0,41.36 272.2,38.73 272.4,40.38 272.6,41.77 272.8,41.61 273.0,40.47 273.2,40.59 273.4,40.12 273.6,41.40 273.8,40.61 274.0,39.86 274.2,39.50 274.4,40.03 274.6,39.72 274.8,41.47 275.0,40.74 275.2,39.00 275.4,40.40 275.6,41.61 275.8,38.43 276.0,41.51 276.2,39.85 276.4,38.87 276.6,40.86 276.8,40.73 277.0,40.69 277.2,39.83 277.4,41.88 277.6,41.52 277.8,41.48 278.0,40.83 278.2,39.62 278.4,40.10 278.6,40.85 278.8,41.12 279.0,39.90 279.2,40.32 279.4,40.17 279.6,39.68 279.8,41.86 280.0,39.89 280.2,39.43 280.4,40.70 280.6,41.80 280.8,41.75 281.0,39.64 281.2,41.53 281.4,39.99 281.6,40.03 281.8,40.95 282.0,41.41 282.2,41.69 282.4,41.25 282.6,40.35 282.8,39.84 283.0,40.75 283.2,41.69 283.4,39.86 283.6,40.69 283.8,40.84 284.0,40.08 284.2,38.85 284.4,41.53 284.6,41.91 284.8,41.34 285.0,40.79 285.2,41.52 285.4,41.91 285.6,41.79 285.8,41.08 286.0,40.85 286.2,38.95 286.4,38.44 286.6,40.35 286.8,41.10 287.0,40.65 287.2,41.51 287.4,41.05 287.6,41.00 287.8,40.23 288.0,39.93 288.2,41.06 288.4,40.01 288.6,40.88 288.8,38.90 289.0,40.40 289.2,38.68 289.4,39.19 289.6,38.70 289.8,38.54 290.0,39.30 290.2,38.87 290.4,38.40 290.6,38.65 290.8,41.26 291.0,41.55 291.2,40.89 291.4,39.48 291.6,40.09 291.8,41.08 292.0,39.51 292.2,39.69 292.4,40.95 292.6,39.53 292.8,39.88 293.0,40.18 293.2,40.01 293.4,39.57 293.6,40.13 293.8,39.00 294.0,40.80 294.2,39.51 294.4,41.29 294.6,39.73 294.8,41.38 295.0,38.45 295.2,41.41 295.4,39.67 295.6,40.09 295.8,41.34 296.0,41.58 296.2,40.17 296.4,41.63 296.6,39.61 296.8,38.55 297.0,40.26 297.2,41.44 297.4,40.33 297.6,38.53 297.8,39.83 298.0,40.40 298.2,40.71 298.4,40.89 298.6,40.17 298.8,40.02 299.0,40.30 299.2,40.76 299.4,40.08 299.6,41.10 299.8,41.33 300.0,41.87 300.2,41.49 300.4,39.48 300.6,40.35 300.8,41.02 301.0,39.52 301.2,39.27 301.4,41.16 301.6,40.91 301.8,41.36 302.0,39.88 302.2,41.31 302.4,40.73 302.6,39.48 302.8,40.72 303.0,38.39 303.2,40.45 303.4,39.77 303.6,41.08 303.8,41.80 304.0,40.91 304.2,39.91 304.4,41.60 304.6,41.21 304.8,41.49 305.0,39.65 305.2,39.82 305.4,41.64 305.6,41.67 305.8,41.40 306.0,40.01 306.2,41.77 306.4,40.53 306.6,40.17 306.8,38.40 307.0,39.48 307.2,40.87 307.4,39.78 307.6,39.43 307.8,39.42 308.0,39.80 308.2,40.40 308.4,41.73 308.6,40.56 308.8,41.97 309.0,38.39 309.2,41.51 309.4,40.76 309.6,41.66 309.8,39.91 310.0,40.84 310.2,41.01 310.4,41.87 310.6,40.18 310.8,41.92 311.0,39.38 311.2,39.02 311.4,40.80 311.6,41.24 311.8,39.77 312.0,41.38 312.2,39.37 312.4,41.08 312.6,41.06 312.8,39.05 313.0,40.92 313.2,38.19 313.4,38.55 313.6,37.54 313.8,38.40 314.0,38.98 314.2,38.85 314.4,39.99 314.6,40.88 314.8,40.49 315.0,38.75 315.2,38.42 315.4,41.65 315.6,40.07 315.8,41.95 316.0,39.76 316.2,41.97 316.4,41.39 316.6,40.85 316.8,41.33 317.0,40.64 317.2,39.99 317.4,40.71 317.6,40.78 317.8,40.40 318.0,41.15 318.2,40.93 318.4,40.95 318.6,39.18 318.8,40.61 319.0,39.42 319.2,40.39 319.4,41.75 319.6,41.34 319.8,40.71 320.0,41.71 320.2,40.33 320.4,40.21 320.6,40.39 320.8,40.57 321.0,41.32 321.2,41.04 321.4,41.34 321.6,40.73 321.8,39.74 322.0,38.71 322.2,40.15 322.4,40.90 322.6,40.79 322.8,39.58 323.0,41.29 323.2,39.70 323.4,41.74 323.6,40.06 323.8,41.06 324.0,39.74 324.2,41.76 324.4,39.89 324.6,39.84 324.8,39.46 325.0,40.10 325.2,41.50 325.4,40.19 325.6,41.19 325.8,39.39 326.0,39.87 326.2,40.53 326.4,41.76 326.6,41.03 326.8,40.44 327.0,39.38 327.2,38.87 327.4,41.22 327.6,40.06 327.8,39.44 328.0,39.42 328.2,41.27 328.4,40.09 328.6,41.55 328.8,41.75 329.0,40.20 329.2,40.54 329.4,39.73 329.6,40.00 329.8,40.59 330.0,39.98 330.2,37.85 330.4,38.80 330.6,41.05 330.8,41.18 331.0,41.63 331.2,39.79 331.4,40.40 331.6,41.50 331.8,41.46 332.0,41.49 332.2,38.49 332.4,40.88 332.6,39.59 332.8,39.53 333.0,39.48 333.2,38.41 333.4,39.99 333.6,41.09 333.8,40.61 334.0,41.21 334.2,40.20 334.4,41.15 334.6,39.72 334.8,41.45 335.0,41.03 335.2,40.05 335.4,41.69 335.6,41.85 335.8,41.73 336.0,40.21 336.2,39.50 336.4,38.57 336.6,40.88 336.8,41.76 337.0,41.74 337.2,41.47 337.4,40.67 337.6,41.22 337.8,41.11 338.0,40.45 338.2,39.69 338.4,41.75 338.6,38.57 338.8,41.50 339.0,39.86 339.2,40.94 339.4,39.78 339.6,40.71 339.8,41.57 340.0,40.31 340.2,41.53 340.4,39.87 340.6,41.53 340.8,41.45 341.0,39.80 341.2,39.86 341.4,40.34 341.6,40.66 341.8,39.95 342.0,40.88 342.2,41.09 342.4,39.86 342.6,38.78 342.8,39.61 343.0,38.11 343.2,37.86 343.4,39.40 343.6,39.90 343.8,40.86 344.0,39.41 344.2,40.74 344.4,39.36 344.6,40.71 344.8,39.01 345.0,39.16 345.2,40.64 345.4,40.09 345.6,41.32 345.8,40.38 346.0,39.44 346.2,41.02 346.4,41.53 346.6,39.61 346.8,41.80 347.0,39.47 347.2,39.53 347.4,41.09 347.6,40.70 347.8,41.62 348.0,40.47 348.2,41.93 348.4,39.81 348.6,38.70 348.8,39.61 349.0,41.42 349.2,38.62 349.4,41.93 349.6,38.73 349.8,41.83 350.0,39.59 350.2,39.87 350.4,39.46 350.6,40.83 350.8,40.37 351.0,40.67 351.2,39.46 351.4,40.56 351.6,39.92 351.8,41.17 352.0,40.09 352.2,40.07 352.4,40.90 352.6,41.43 352.8,41.61 353.0,39.90 353.2,39.16 353.4,41.47 353.6,40.58 353.8,40.35 354.0,41.70 354.2,39.72 354.4,41.49 354.6,40.28 354.8,40.61 355.0,40.16 355.2,40.48 355.4,41.59 355.6,41.85 355.8,40.24 356.0,39.65 356.2,40.74 356.4,39.66 356.6,39.40 356.8,40.55 357.0,41.16 357.2,41.47 357.4,40.49 357.6,39.63 357.8,41.90 358.0,40.67 358.2,39.43 358.4,39.94 358.6,40.12 358.8,41.26 359.0,41.89 359.2,39.99 359.4,39.84 359.6,41.66 359.8,41.69 360.0,41.54 360.2,40.51 360.4,40.52 360.6,38.63 360.8,39.39 361.0,38.61 361.2,40.39 361.4,41.06 361.6,40.95 361.8,39.25 362.0,37.36 362.2,37.05 362.4,35.89 362.6,37.30 362.8,36.93 363.0,36.35 363.2,35.98 363.4,33.55 363.6,34.09 363.8,33.72 364.0,35.32 364.2,36.98 364.4,38.24 364.6,37.65 364.8,37.06 365.0,36.37 365.2,34.47 365.4,32.64 365.6,31.74 365.8,33.26 366.0,35.79 366.2,37.48 366.4,37.09 366.6,35.33 366.8,35.07 367.0,35.57 367.2,35.88 367.4,37.10 367.6,34.35 367.8,28.44 368.0,25.52 368.2,25.93 368.4,30.24 368.6,34.69 368.8,37.16 369.0,39.86 369.2,39.69 369.4,41.90 369.6,39.39 369.8,40.68 370.0,39.82 370.2,38.40 370.4,40.48 370.6,39.17 370.8,41.81 371.0,39.79 371.2,41.64 371.4,41.90 371.6,41.19 371.8,38.88 372.0,40.34 372.2,38.53 372.4,40.42 372.6,41.91 372.8,39.49 373.0,39.64 373.2,40.93 373.4,41.11 373.6,38.71 373.8,39.52 374.0,40.26 374.2,39.95 374.4,40.27 374.6,39.41 374.8,41.73 375.0,39.28 375.2,41.14 375.4,41.80 375.6,41.25 375.8,41.78 376.0,39.98 376.2,40.28 376.4,40.74 376.6,39.86 376.8,41.12 377.0,40.67 377.2,40.54 377.4,40.77 377.6,41.54 377.8,40.11 378.0,41.41 378.2,41.79 378.4,41.33 378.6,40.99 378.8,40.16 379.0,40.56 379.2,39.59 379.4,40.61 379.6,41.21 379.8,39.69 380.0,41.92 380.2,38.70 380.4,40.00 380.6,41.19 380.8,39.53 381.0,41.78 381.2,41.78 381.4,41.19 381.6,40.17 381.8,39.78 382.0,41.33 382.2,38.80 382.4,39.34 382.6,40.39 382.8,40.55 383.0,40.26 383.2,40.56 383.4,41.73 383.6,41.65 383.8,40.75 384.0,41.68 384.2,40.53 384.4,39.79 384.6,37.99 384.8,38.64 385.0,39.58 385.2,38.87 385.4,39.28 385.6,39.19 385.8,38.72 386.0,40.89 386.2,39.74 386.4,40.66 386.6,41.89 386.8,40.81 387.0,41.60 387.2,40.34 387.4,40.15 387.6,40.33 387.8,41.12 388.0,41.39 388.2,41.78 388.4,41.12 388.6,40.59 388.8,41.82 389.0,39.87 389.2,40.98 389.4,38.50 389.6,41.25 389.8,41.54 390.0,41.31 390.2,41.08 390.4,41.36 390.6,41.84 390.8,39.79 391.0,40.20 391.2,40.45 391.4,40.09 391.6,40.40 391.8,40.58 392.0,41.44 392.2,38.95 392.4,40.70 392.6,39.93 392.8,39.88 393.0,40.24 393.2,40.74 393.4,41.78 393.6,39.67 393.8,40.69 394.0,39.48 394.2,41.78 394.4,41.84 394.6,40.38 394.8,41.86 395.0,39.30 395.2,41.56 395.4,39.25 395.6,38.95 395.8,38.98 396.0,38.96 396.2,38.80 396.4,38.60 396.6,38.97 396.8,40.45 397.0,41.62 397.2,39.95 397.4,41.22 397.6,40.73 397.8,41.28 398.0,41.61 398.2,41.59 398.4,40.27 398.6,40.60 398.8,41.48 399.0,40.03 399.2,39.88 399.4,40.21 399.6,40.51 399.8,39.68 400.0,41.24 400.2,40.21 400.4,40.44 400.6,40.46 400.8,41.09 401.0,41.29 401.2,41.84 401.4,40.88 401.6,40.10 401.8,40.48 402.0,39.51 402.2,41.71 402.4,40.70 402.6,41.79 402.8,39.58 403.0,41.29 403.2,41.11 403.4,40.00 403.6,39.73 403.8,39.48 404.0,40.84 404.2,41.39 404.4,39.58 404.6,40.44 404.8,39.65 405.0,41.53 405.2,39.85 405.4,39.82 405.6,39.46 405.8,41.04 406.0,40.94 406.2,40.21 406.4,41.25 406.6,39.36 406.8,39.54 407.0,40.62 407.2,40.49 407.4,41.36 407.6,41.43 407.8,41.39 408.0,41.22 408.2,39.97 408.4,39.98 408.6,41.38 408.8,40.98 409.0,39.49 409.2,40.95 409.4,40.93 409.6,39.78 409.8,39.95 410.0,40.83 410.2,39.88 410.4,41.10 410.6,41.90 410.8,41.26 411.0,39.67 411.2,41.77 411.4,39.93 411.6,40.72 411.8,41.38 412.0,38.95 412.2,39.64 412.4,39.85 412.6,40.40 412.8,39.99" fill="none" stroke="#6dbf62" stroke-width="1.0" stroke-linejoin="round" stroke-linecap="round"/>
<polyline points="237.5,58.97 237.7,57.25 237.9,59.96 238.1,55.98 238.3,58.56 238.5,56.03 238.7,55.25 238.9,56.62 239.1,58.88 239.3,57.80 239.5,61.45 239.7,58.96 239.9,60.78 240.1,54.27 240.3,62.78 240.5,56.45 240.7,58.10 240.9,61.36 241.1,54.68 241.3,59.54 241.5,57.07 241.7,61.98 241.9,56.03 242.1,56.19 242.3,54.06 242.5,58.31 242.7,60.28 242.9,57.92 243.1,62.19 243.3,59.51 243.5,58.68 243.7,58.41 243.9,57.95 244.1,56.56 244.3,61.11 244.5,61.73 244.7,60.07 244.9,58.82 245.1,54.57 245.3,57.83 245.5,57.63 245.7,55.99 245.9,60.93 246.1,60.98 246.3,59.84 246.5,60.73 246.7,58.24 246.9,56.14 247.1,61.73 247.3,59.17 247.5,58.06 247.7,59.35 247.9,56.40 248.1,57.64 248.3,56.62 248.5,62.02 248.7,61.43 248.9,62.34 249.1,56.99 249.3,56.06 249.5,62.70 249.7,57.28 249.9,57.71 250.1,56.44 250.3,60.91 250.5,57.80 250.7,61.14 250.9,62.27 251.1,57.58 251.3,62.50 251.5,57.90 251.7,60.82 251.9,53.57 252.1,56.56 252.3,61.10 252.5,59.52 252.7,60.31 252.9,61.47 253.1,59.48 253.3,61.53 253.5,57.21 253.7,58.50 253.9,60.82 254.1,55.99 254.3,60.38 254.5,58.10 254.7,57.67 254.9,60.94 255.1,62.72 255.3,56.55 255.5,55.67 255.7,61.61 255.9,61.72 256.1,59.77 256.3,58.62 256.5,55.88 256.7,56.06 256.9,55.89 257.1,61.08 257.3,58.61 257.5,59.75 257.7,61.18 257.9,62.34 258.1,61.62 258.3,60.29 258.5,62.18 258.7,61.74 258.9,62.49 259.1,58.44 259.3,59.35 259.5,61.10 259.7,59.12 259.9,59.83 260.1,58.19 260.3,56.27 260.5,60.33 260.7,58.28 260.9,61.27 261.1,56.22 261.3,58.48 261.5,61.69 261.7,61.00 261.9,61.69 262.1,61.55 262.3,60.65" fill="none" stroke="#231f20" stroke-width="1.0" stroke-linejoin="round" stroke-linecap="round"/>
<polyline points="271.0,59.87 271.2,60.47 271.4,56.39 271.6,60.65 271.8,52.23 272.0,59.61 272.2,62.54 272.4,57.66 272.6,61.70 272.8,54.09 273.0,56.69 273.2,61.81 273.4,59.91 273.6,56.04 273.8,57.98 274.0,62.32 274.2,53.00 274.4,57.10 274.6,56.78 274.8,62.69 275.0,59.74 275.2,59.27 275.4,58.95 275.6,57.37 275.8,56.16 276.0,52.77 276.2,57.38 276.4,59.79 276.6,56.13 276.8,55.33 277.0,58.65 277.2,59.58 277.4,57.79 277.6,61.33 277.8,58.14 278.0,58.43 278.2,56.40 278.4,62.01 278.6,62.32 278.8,59.62 279.0,59.09 279.2,58.39 279.4,55.78 279.6,62.75 279.8,55.27 280.0,55.90 280.2,54.97 280.4,60.49 280.6,56.74 280.8,57.07 281.0,57.99 281.2,61.03 281.4,58.16 281.6,57.41 281.8,56.17 282.0,58.16 282.2,58.71 282.4,55.37 282.6,59.10 282.8,52.18 283.0,56.68 283.2,57.45 283.4,58.43 283.6,60.41 283.8,61.46 284.0,56.20 284.2,56.92 284.4,57.66 284.6,55.39 284.8,56.52 285.0,51.99 285.2,56.47 285.4,59.46 285.6,57.13 285.8,56.75 286.0,59.50 286.2,60.53 286.4,59.01 286.6,62.11 286.8,59.76 287.0,56.55 287.2,57.96 287.4,56.40 287.6,59.64 287.8,55.05 288.0,53.48 288.2,56.25 288.4,61.99 288.6,60.52 288.8,62.38 289.0,62.62 289.2,62.38 289.4,60.17 289.6,61.99 289.8,62.67 290.0,62.65 290.2,61.50 290.4,61.47 290.6,62.08 290.8,60.85 291.0,62.80 291.2,62.38 291.4,60.40 291.6,62.28 291.8,61.17 292.0,60.23 292.2,62.06 292.4,61.45 292.6,60.31 292.8,62.36 293.0,62.10 293.2,61.55 293.4,61.82 293.6,60.87 293.8,60.93 294.0,61.87 294.2,62.39 294.4,62.21 294.6,61.43 294.8,60.67 295.0,60.34 295.2,62.29 295.4,61.64 295.6,60.87 295.8,60.76 296.0,62.62 296.2,61.22 296.4,61.05 296.6,62.08 296.8,60.01 297.0,61.43 297.2,61.44 297.4,61.34 297.6,61.48 297.8,62.77 298.0,62.10 298.2,62.65 298.4,62.69 298.6,62.25 298.8,61.18 299.0,62.31 299.2,61.82 299.4,61.42 299.6,61.88 299.8,61.43 300.0,61.00 300.2,60.98 300.4,62.26 300.6,61.90 300.8,62.19 301.0,61.17 301.2,60.30 301.4,62.01 301.6,62.50 301.8,62.41 302.0,61.65 302.2,62.73 302.4,61.14 302.6,62.38 302.8,62.26 303.0,62.77 303.2,60.83 303.4,60.38 303.6,60.16 303.8,60.61 304.0,60.23 304.2,61.92 304.4,62.38 304.6,61.45 304.8,61.24 305.0,61.90 305.2,61.99 305.4,61.69 305.6,62.52 305.8,62.71 306.0,61.61 306.2,61.32 306.4,61.71 306.6,61.56 306.8,62.32 307.0,61.53 307.2,62.51 307.4,62.74 307.6,62.24 307.8,62.54 308.0,61.67 308.2,61.04 308.4,62.35 308.6,61.34 308.8,61.75 309.0,61.89 309.2,61.62 309.4,61.91 309.6,61.74 309.8,62.32 310.0,60.04 310.2,61.78 310.4,61.46 310.6,62.41 310.8,61.88 311.0,62.67 311.2,62.73 311.4,61.87 311.6,60.13 311.8,61.67 312.0,62.77 312.2,62.07 312.4,62.25 312.6,61.51 312.8,62.25 313.0,61.50 313.2,60.02 313.4,62.03 313.6,62.00 313.8,61.09 314.0,62.33 314.2,61.00 314.4,62.22 314.6,61.45 314.8,62.12 315.0,60.87 315.2,62.47 315.4,61.50 315.6,61.97 315.8,62.44 316.0,61.63 316.2,61.00 316.4,62.39 316.6,62.72 316.8,61.19 317.0,61.95 317.2,60.10 317.4,61.94 317.6,62.77 317.8,61.34 318.0,60.98 318.2,61.31 318.4,61.23 318.6,61.08 318.8,61.05 319.0,61.61 319.2,62.24 319.4,61.29 319.6,60.95 319.8,62.00 320.0,60.14 320.2,61.75 320.4,62.53 320.6,61.51 320.8,61.68 321.0,61.46 321.2,61.29 321.4,60.18 321.6,62.25 321.8,62.76 322.0,62.62 322.2,62.64 322.4,60.11 322.6,62.06 322.8,62.26 323.0,61.81 323.2,61.90 323.4,62.25 323.6,62.77 323.8,62.02 324.0,60.82 324.2,62.74 324.4,60.33 324.6,61.89 324.8,62.14 325.0,60.87 325.2,61.03 325.4,61.56 325.6,61.33 325.8,61.93 326.0,61.00 326.2,62.18 326.4,60.89 326.6,62.32 326.8,60.82 327.0,60.84 327.2,61.11 327.4,62.36 327.6,62.62 327.8,61.14 328.0,62.22 328.2,61.95 328.4,61.59 328.6,61.44 328.8,61.18 329.0,60.34 329.2,60.17 329.4,61.69 329.6,61.99 329.8,60.63 330.0,60.87 330.2,61.37 330.4,62.46 330.6,60.76 330.8,62.53 331.0,60.88 331.2,60.93 331.4,61.28 331.6,61.03 331.8,62.24 332.0,62.70 332.2,62.14 332.4,62.17 332.6,62.22 332.8,61.54 333.0,62.33 333.2,61.39 333.4,60.98 333.6,61.59 333.8,61.81 334.0,62.13 334.2,61.68 334.4,62.11 334.6,61.34 334.8,61.42 335.0,62.55 335.2,61.93 335.4,62.62 335.6,62.37 335.8,61.13 336.0,61.78 336.2,61.58 336.4,61.07 336.6,61.34 336.8,62.23 337.0,62.42 337.2,61.48 337.4,60.52 337.6,61.68 337.8,61.20 338.0,60.82 338.2,61.10 338.4,62.23 338.6,61.83 338.8,61.96 339.0,60.43 339.2,61.49 339.4,60.84 339.6,61.17 339.8,61.38 340.0,60.60 340.2,60.80 340.4,62.72 340.6,62.22 340.8,61.20 341.0,62.61 341.2,62.27 341.4,62.43 341.6,61.39 341.8,60.94 342.0,61.33 342.2,62.43 342.4,61.09 342.6,61.63 342.8,60.13 343.0,61.94 343.2,61.92 343.4,60.83 343.6,62.36 343.8,61.38 344.0,60.16 344.2,62.21 344.4,60.97 344.6,61.99 344.8,61.82 345.0,61.16 345.2,62.08 345.4,60.02 345.6,62.06 345.8,61.59 346.0,60.22 346.2,61.69 346.4,61.67 346.6,60.65 346.8,62.29 347.0,60.83 347.2,61.79 347.4,61.23 347.6,60.32 347.8,60.74 348.0,61.75 348.2,61.95 348.4,62.39 348.6,62.67 348.8,62.15 349.0,61.27 349.2,61.62 349.4,61.50 349.6,61.95 349.8,61.00 350.0,61.73 350.2,62.58 350.4,60.81 350.6,62.64 350.8,61.18 351.0,61.93 351.2,62.00 351.4,60.33 351.6,61.25 351.8,61.40 352.0,61.37 352.2,62.52 352.4,61.10 352.6,60.95 352.8,62.79 353.0,60.95 353.2,62.60 353.4,61.95 353.6,61.64 353.8,61.28 354.0,61.07 354.2,62.42 354.4,62.79 354.6,60.11 354.8,62.71 355.0,62.43 355.2,61.89 355.4,62.50 355.6,61.73 355.8,60.07 356.0,61.66 356.2,61.89 356.4,61.64 356.6,61.26 356.8,62.47 357.0,62.69 357.2,62.63 357.4,61.64 357.6,61.48 357.8,62.34 358.0,61.30 358.2,60.90 358.4,62.03 358.6,61.39 358.8,61.96 359.0,61.67 359.2,61.81 359.4,62.47 359.6,61.09 359.8,62.52 360.0,62.80 360.2,62.79 360.4,60.33 360.6,61.59 360.8,62.05 361.0,62.02 361.2,61.94 361.4,61.88 361.6,62.39 361.8,60.02 362.0,61.93 362.2,61.32 362.4,60.63 362.6,62.51 362.8,61.46 363.0,62.58 363.2,61.53 363.4,61.30 363.6,62.35 363.8,61.98 364.0,62.55 364.2,61.51 364.4,61.14 364.6,61.05 364.8,61.37 365.0,60.94 365.2,61.40 365.4,61.69 365.6,62.34 365.8,61.74 366.0,62.04 366.2,60.42 366.4,62.44 366.6,61.43 366.8,62.27 367.0,61.00 367.2,58.97 367.4,57.05 367.6,49.47 367.8,41.37 368.0,42.13 368.2,48.62 368.4,56.63 368.6,60.69 368.8,60.60 369.0,61.08 369.2,62.65 369.4,62.18 369.6,62.37 369.8,62.38 370.0,61.93 370.2,61.83 370.4,61.82 370.6,61.83 370.8,61.64 371.0,61.74 371.2,61.40 371.4,62.65 371.6,62.11 371.8,62.37 372.0,60.15 372.2,60.29 372.4,61.51 372.6,61.58 372.8,62.37 373.0,60.97 373.2,62.73 373.4,60.88 373.6,60.94 373.8,60.32 374.0,62.32 374.2,62.79 374.4,62.75 374.6,62.73 374.8,62.42 375.0,62.64 375.2,60.07 375.4,62.26 375.6,60.30 375.8,61.17 376.0,62.09 376.2,61.83 376.4,61.77 376.6,62.37 376.8,62.64 377.0,61.49 377.2,60.32 377.4,62.41 377.6,61.55 377.8,62.32 378.0,61.95 378.2,62.73 378.4,61.06 378.6,62.65 378.8,61.84 379.0,61.09 379.2,62.00 379.4,61.24 379.6,61.31 379.8,61.87 380.0,61.39 380.2,61.51 380.4,60.96 380.6,62.55 380.8,62.33 381.0,62.53 381.2,61.38 381.4,62.69 381.6,61.00 381.8,62.55 382.0,61.31 382.2,62.08 382.4,61.63 382.6,60.84 382.8,60.36 383.0,61.74 383.2,62.50 383.4,61.28 383.6,61.37 383.8,62.07 384.0,61.45 384.2,61.68 384.4,60.03 384.6,60.90 384.8,62.43 385.0,61.15 385.2,60.29 385.4,60.94 385.6,61.99 385.8,62.28 386.0,60.04 386.2,61.76 386.4,61.70 386.6,61.39 386.8,60.71 387.0,60.72 387.2,60.84 387.4,62.21 387.6,61.20 387.8,60.96 388.0,61.30 388.2,61.92 388.4,62.43 388.6,61.64 388.8,62.66 389.0,61.21 389.2,61.42 389.4,61.30 389.6,62.20 389.8,61.97 390.0,62.31 390.2,62.56 390.4,61.91 390.6,60.12 390.8,61.39 391.0,62.80 391.2,61.99 391.4,61.67 391.6,61.24 391.8,60.94 392.0,61.97 392.2,60.85 392.4,61.86 392.6,60.87 392.8,62.47 393.0,62.40 393.2,61.04 393.4,60.94 393.6,61.33 393.8,62.56 394.0,61.77 394.2,61.45 394.4,61.39 394.6,61.58 394.8,62.68 395.0,60.38 395.2,60.80 395.4,61.58 395.6,61.65 395.8,62.32 396.0,61.73 396.2,61.25 396.4,61.20 396.6,60.94 396.8,62.26 397.0,61.82 397.2,61.98 397.4,62.37 397.6,62.10 397.8,62.00 398.0,62.71 398.2,62.58 398.4,61.51 398.6,61.60 398.8,61.63 399.0,62.17 399.2,61.84 399.4,60.69 399.6,60.58 399.8,60.09 400.0,60.95 400.2,61.86 400.4,61.48 400.6,60.45 400.8,60.43 401.0,60.85 401.2,61.71 401.4,60.20 401.6,62.57 401.8,60.98 402.0,61.85 402.2,61.63 402.4,61.39 402.6,62.78 402.8,61.17 403.0,60.88 403.2,61.28 403.4,62.69 403.6,61.59 403.8,62.23 404.0,62.76 404.2,60.05 404.4,62.74 404.6,61.52 404.8,62.41 405.0,61.37 405.2,61.64 405.4,61.41 405.6,60.20 405.8,62.28 406.0,62.60 406.2,62.02 406.4,61.28 406.6,62.10 406.8,61.30 407.0,60.81 407.2,62.01 407.4,61.25 407.6,62.76 407.8,62.56 408.0,60.48 408.2,60.09 408.4,62.01 408.6,60.78 408.8,61.43 409.0,61.15 409.2,60.42 409.4,62.78 409.6,61.26 409.8,60.73 410.0,60.99 410.2,62.75 410.4,61.35 410.6,61.42 410.8,62.65 411.0,61.32 411.2,62.20 411.4,61.83 411.6,61.38 411.8,60.82 412.0,60.15 412.2,61.97 412.4,62.78 412.6,62.78 412.8,62.62" fill="none" stroke="#231f20" stroke-width="1.0" stroke-linejoin="round" stroke-linecap="round"/>
<polyline points="237.5,81.93 237.7,78.96 237.9,81.95 238.1,79.77 238.3,78.55 238.5,79.77 238.7,81.43 238.9,81.72 239.1,82.92 239.3,81.24 239.5,82.31 239.7,82.10 239.9,80.16 240.1,79.08 240.3,79.74 240.5,81.50 240.7,82.25 240.9,80.74 241.1,80.68 241.3,80.49 241.5,79.30 241.7,82.72 241.9,81.00 242.1,77.41 242.3,75.41 242.5,77.41 242.7,81.00 242.9,81.63 243.1,80.62 243.3,81.36 243.5,80.67 243.7,82.40 243.9,82.80 244.1,81.92 244.3,82.97 244.5,80.98 244.7,77.35 244.9,75.34 245.1,77.35 245.3,80.98 245.5,79.10 245.7,80.16 245.9,78.95 246.1,82.87 246.3,80.94 246.5,77.26 246.7,75.21 246.9,77.26 247.1,80.94 247.3,82.16 247.5,81.38 247.7,81.11 247.9,80.86 248.1,80.23 248.3,82.31 248.5,80.56 248.7,81.98 248.9,79.84 249.1,78.66 249.3,79.84 249.5,81.98 249.7,83.11 249.9,81.72 250.1,81.58 250.3,79.21 250.5,77.81 250.7,79.21 250.9,81.72 251.1,82.13 251.3,79.39 251.5,80.69 251.7,80.44 251.9,81.01 252.1,82.43 252.3,82.72 252.5,82.57 252.7,81.44 252.9,78.49 253.1,76.86 253.3,78.49 253.5,80.07 253.7,82.00 253.9,82.02 254.1,79.88 254.3,79.01 254.5,80.63 254.7,82.25 254.9,81.38 255.1,81.46 255.3,78.55 255.5,76.93 255.7,78.55 255.9,81.41 256.1,80.55 256.3,79.13 256.5,80.57 256.7,81.41 256.9,80.46 257.1,82.07 257.3,81.45 257.5,78.52 257.7,76.89 257.9,78.52 258.1,81.45 258.3,83.34 258.5,81.08 258.7,80.19 258.9,78.95 259.1,80.53 259.3,82.99 259.5,80.89 259.7,78.04 259.9,76.26 260.1,78.04 260.3,80.19 260.5,79.76 260.7,80.65 260.9,80.26 261.1,80.31 261.3,82.26 261.5,80.88 261.7,79.47 261.9,81.74 262.1,82.65 262.3,83.30" fill="none" stroke="#3f5aa8" stroke-width="1.0" stroke-linejoin="round" stroke-linecap="round"/>
<polyline points="271.0,82.00 271.2,82.28 271.4,81.67 271.6,79.68 271.8,78.58 272.0,79.68 272.2,81.67 272.4,80.88 272.6,80.76 272.8,81.60 273.0,81.46 273.2,80.63 273.4,77.15 273.6,75.20 273.8,77.15 274.0,80.66 274.2,82.19 274.4,82.82 274.6,80.05 274.8,80.92 275.0,82.37 275.2,82.88 275.4,80.29 275.6,81.81 275.8,82.33 276.0,81.70 276.2,81.91 276.4,80.26 276.6,79.35 276.8,80.26 277.0,81.02 277.2,81.94 277.4,82.18 277.6,81.53 277.8,80.98 278.0,82.23 278.2,82.59 278.4,80.85 278.6,82.10 278.8,80.29 279.0,80.20 279.2,76.00 279.4,73.66 279.6,76.00 279.8,80.20 280.0,79.87 280.2,80.82 280.4,81.09 280.6,81.91 280.8,82.52 281.0,82.94 281.2,80.43 281.4,81.51 281.6,79.83 281.8,82.95 282.0,80.27 282.2,82.47 282.4,79.84 282.6,81.00 282.8,80.33 283.0,81.00 283.2,81.34 283.4,82.48 283.6,80.68 283.8,80.10 284.0,82.75 284.2,82.45 284.4,80.54 284.6,82.81 284.8,80.83 285.0,80.63 285.2,80.13 285.4,81.27 285.6,81.82 285.8,80.60 286.0,79.80 286.2,80.60 286.4,81.35 286.6,82.92 286.8,80.58 287.0,79.83 287.2,82.53 287.4,80.91 287.6,80.14 287.8,82.29 288.0,80.09 288.2,80.68 288.4,80.58 288.6,80.95 288.8,80.27 289.0,80.46 289.2,80.13 289.4,81.19 289.6,82.69 289.8,80.94 290.0,81.72 290.2,80.18 290.4,81.89 290.6,81.06 290.8,81.27 291.0,82.59 291.2,80.66 291.4,81.54 291.6,81.31 291.8,81.63 292.0,82.25 292.2,81.12 292.4,80.49 292.6,81.12 292.8,81.66 293.0,82.31 293.2,81.17 293.4,81.59 293.6,81.37 293.8,81.03 294.0,79.87 294.2,80.71 294.4,81.02 294.6,80.76 294.8,82.14 295.0,80.58 295.2,82.19 295.4,80.86 295.6,81.48 295.8,79.19 296.0,77.92 296.2,79.19 296.4,80.45 296.6,79.99 296.8,80.55 297.0,81.84 297.2,82.39 297.4,80.11 297.6,82.83 297.8,79.93 298.0,82.49 298.2,81.10 298.4,80.92 298.6,77.81 298.8,76.08 299.0,77.81 299.2,80.92 299.4,80.45 299.6,81.13 299.8,80.84 300.0,82.16 300.2,81.67 300.4,81.01 300.6,81.88 300.8,80.46 301.0,80.28 301.2,82.96 301.4,80.02 301.6,75.56 301.8,73.07 302.0,75.56 302.2,80.02 302.4,81.92 302.6,81.64 302.8,81.39 303.0,81.45 303.2,81.42 303.4,80.37 303.6,81.95 303.8,81.35 304.0,82.39 304.2,80.30 304.4,76.26 304.6,74.02 304.8,76.26 305.0,80.30 305.2,80.02 305.4,80.42 305.6,80.23 305.8,80.58 306.0,82.53 306.2,81.98 306.4,82.64 306.6,80.94 306.8,80.52 307.0,82.20 307.2,81.25 307.4,81.12 307.6,80.49 307.8,81.12 308.0,82.25 308.2,80.95 308.4,79.98 308.6,80.41 308.8,80.86 309.0,81.70 309.2,82.64 309.4,80.27 309.6,80.63 309.8,80.80 310.0,80.58 310.2,76.96 310.4,74.94 310.6,76.96 310.8,80.58 311.0,80.81 311.2,81.96 311.4,80.69 311.6,82.33 311.8,80.15 312.0,81.38 312.2,82.65 312.4,82.14 312.6,81.45 312.8,81.98 313.0,80.92 313.2,81.25 313.4,80.80 313.6,77.51 313.8,75.68 314.0,77.51 314.2,80.26 314.4,81.68 314.6,80.05 314.8,79.92 315.0,80.55 315.2,82.85 315.4,82.01 315.6,80.44 315.8,82.42 316.0,79.89 316.2,76.35 316.4,74.13 316.6,76.35 316.8,80.34 317.0,81.37 317.2,82.82 317.4,80.97 317.6,81.10 317.8,80.10 318.0,81.86 318.2,79.87 318.4,82.85 318.6,79.88 318.8,79.97 319.0,81.44 319.2,80.03 319.4,80.28 319.6,80.96 319.8,82.10 320.0,80.01 320.2,82.46 320.4,82.75 320.6,82.96 320.8,81.13 321.0,80.58 321.2,80.35 321.4,79.47 321.6,80.11 321.8,79.99 322.0,82.76 322.2,82.66 322.4,80.95 322.6,81.82 322.8,82.70 323.0,81.03 323.2,80.12 323.4,82.08 323.6,81.10 323.8,80.51 324.0,81.17 324.2,81.70 324.4,81.08 324.6,82.25 324.8,80.38 325.0,80.50 325.2,81.12 325.4,82.25 325.6,80.30 325.8,80.82 326.0,82.34 326.2,79.99 326.4,81.16 326.6,82.06 326.8,81.69 327.0,81.76 327.2,82.27 327.4,80.71 327.6,80.70 327.8,80.38 328.0,80.27 328.2,76.19 328.4,73.92 328.6,76.19 328.8,80.27 329.0,81.81 329.2,81.19 329.4,82.56 329.6,81.32 329.8,79.81 330.0,80.83 330.2,80.91 330.4,82.11 330.6,82.58 330.8,81.19 331.0,81.43 331.2,80.68 331.4,79.82 331.6,78.80 331.8,77.39 332.0,78.80 332.2,81.32 332.4,82.37 332.6,80.34 332.8,79.89 333.0,82.39 333.2,82.14 333.4,79.99 333.6,81.17 333.8,80.26 334.0,80.28 334.2,82.22 334.4,80.95 334.6,80.41 334.8,80.87 335.0,80.98 335.2,81.64 335.4,81.73 335.6,80.95 335.8,82.65 336.0,80.57 336.2,81.25 336.4,82.73 336.6,81.42 336.8,81.05 337.0,80.40 337.2,81.01 337.4,81.30 337.6,79.85 337.8,82.47 338.0,81.18 338.2,82.72 338.4,80.00 338.6,80.69 338.8,80.50 339.0,81.83 339.2,80.36 339.4,82.81 339.6,80.60 339.8,77.01 340.0,75.01 340.2,77.01 340.4,80.60 340.6,80.85 340.8,80.51 341.0,81.78 341.2,80.86 341.4,82.02 341.6,81.25 341.8,82.62 342.0,79.88 342.2,82.57 342.4,81.49 342.6,81.60 342.8,79.49 343.0,78.32 343.2,79.49 343.4,81.60 343.6,80.50 343.8,79.86 344.0,81.29 344.2,82.87 344.4,81.79 344.6,81.45 344.8,81.81 345.0,81.81 345.2,81.13 345.4,78.32 345.6,76.76 345.8,78.32 346.0,81.13 346.2,82.76 346.4,82.03 346.6,81.76 346.8,79.94 347.0,80.47 347.2,81.38 347.4,80.63 347.6,81.27 347.8,81.71 348.0,81.89 348.2,80.07 348.4,79.31 348.6,80.24 348.8,80.36 349.0,81.57 349.2,80.80 349.4,82.75 349.6,80.40 349.8,82.08 350.0,82.02 350.2,82.61 350.4,82.85 350.6,82.07 350.8,81.06 351.0,80.41 351.2,81.06 351.4,81.77 351.6,81.42 351.8,80.95 352.0,82.69 352.2,80.40 352.4,82.35 352.6,81.93 352.8,80.80 353.0,79.83 353.2,82.49 353.4,80.08 353.6,82.43 353.8,81.14 354.0,81.41 354.2,82.04 354.4,80.59 354.6,79.79 354.8,80.59 355.0,81.20 355.2,81.32 355.4,81.69 355.6,81.94 355.8,82.64 356.0,81.69 356.2,82.10 356.4,81.23 356.6,78.57 356.8,77.09 357.0,78.57 357.2,81.23 357.4,79.89 357.6,83.00 357.8,82.48 358.0,79.89 358.2,80.24 358.4,81.85 358.6,80.12 358.8,79.16 359.0,80.12 359.2,81.85 359.4,81.68 359.6,79.98 359.8,82.81 360.0,82.59 360.2,79.82 360.4,80.07 360.6,80.73 360.8,81.10 361.0,81.55 361.2,81.64 361.4,79.90 361.6,79.83 361.8,79.85 362.0,80.55 362.2,80.62 362.4,82.23 362.6,81.55 362.8,80.07 363.0,83.00 363.2,80.84 363.4,80.86 363.6,77.65 363.8,75.87 364.0,77.65 364.2,80.86 364.4,82.33 364.6,80.76 364.8,80.52 365.0,82.37 365.2,81.18 365.4,81.77 365.6,79.82 365.8,80.85 366.0,80.23 366.2,77.48 366.4,74.31 366.6,76.66 366.8,76.47 367.0,75.95 367.2,74.96 367.4,74.91 367.6,73.31 367.8,70.12 368.0,65.99 368.2,68.29 368.4,73.06 368.6,76.53 368.8,79.77 369.0,77.88 369.2,79.09 369.4,76.31 369.6,77.22 369.8,77.09 370.0,77.94 370.2,79.74 370.4,81.84 370.6,80.93 370.8,81.37 371.0,80.37 371.2,82.87 371.4,80.81 371.6,80.66 371.8,82.52 372.0,80.93 372.2,80.78 372.4,80.04 372.6,80.65 372.8,82.11 373.0,81.65 373.2,82.37 373.4,80.71 373.6,81.18 373.8,82.30 374.0,82.48 374.2,82.08 374.4,81.97 374.6,80.25 374.8,82.42 375.0,80.68 375.2,82.99 375.4,81.59 375.6,79.49 375.8,78.31 376.0,79.49 376.2,80.92 376.4,80.71 376.6,80.05 376.8,81.17 377.0,81.33 377.2,81.12 377.4,80.84 377.6,82.73 377.8,81.23 378.0,82.73 378.2,80.94 378.4,80.08 378.6,75.71 378.8,73.27 379.0,75.71 379.2,80.08 379.4,82.89 379.6,80.40 379.8,80.22 380.0,80.37 380.2,82.35 380.4,82.70 380.6,80.76 380.8,81.02 381.0,78.05 381.2,76.41 381.4,78.05 381.6,80.94 381.8,81.52 382.0,81.65 382.2,82.69 382.4,81.44 382.6,80.12 382.8,80.15 383.0,77.55 383.2,75.74 383.4,77.55 383.6,80.82 383.8,80.74 384.0,81.37 384.2,79.96 384.4,80.68 384.6,82.96 384.8,81.15 385.0,78.51 385.2,77.02 385.4,78.51 385.6,81.21 385.8,81.63 386.0,81.45 386.2,81.16 386.4,81.60 386.6,82.45 386.8,81.26 387.0,82.46 387.2,80.19 387.4,75.98 387.6,73.64 387.8,75.98 388.0,80.19 388.2,82.77 388.4,80.13 388.6,80.81 388.8,81.66 389.0,80.41 389.2,80.01 389.4,81.15 389.6,80.62 389.8,79.83 390.0,79.97 390.2,80.66 390.4,80.20 390.6,80.89 390.8,82.20 391.0,82.47 391.2,82.96 391.4,82.48 391.6,81.74 391.8,80.24 392.0,78.59 392.2,77.12 392.4,78.59 392.6,80.57 392.8,80.48 393.0,80.16 393.2,82.22 393.4,82.96 393.6,80.29 393.8,80.04 394.0,76.77 394.2,74.69 394.4,76.77 394.6,80.51 394.8,82.44 395.0,80.68 395.2,80.83 395.4,81.34 395.6,80.73 395.8,80.51 396.0,81.32 396.2,80.10 396.4,82.67 396.6,80.41 396.8,79.95 397.0,79.25 397.2,78.01 397.4,79.25 397.6,79.82 397.8,80.79 398.0,80.40 398.2,81.10 398.4,79.99 398.6,82.00 398.8,82.06 399.0,81.87 399.2,80.35 399.4,79.46 399.6,80.35 399.8,80.83 400.0,80.33 400.2,82.62 400.4,81.63 400.6,80.51 400.8,80.75 401.0,80.09 401.2,81.25 401.4,79.90 401.6,80.37 401.8,82.06 402.0,80.04 402.2,76.92 402.4,74.89 402.6,76.92 402.8,80.57 403.0,80.03 403.2,80.70 403.4,79.85 403.6,80.34 403.8,82.05 404.0,81.26 404.2,80.50 404.4,76.76 404.6,74.67 404.8,76.76 405.0,80.50 405.2,81.18 405.4,82.11 405.6,80.20 405.8,82.43 406.0,81.28 406.2,80.95 406.4,82.41 406.6,80.40 406.8,79.93 407.0,80.52 407.2,81.48 407.4,80.40 407.6,79.89 407.8,79.02 408.0,77.69 408.2,79.02 408.4,80.16 408.6,81.30 408.8,81.14 409.0,80.03 409.2,82.79 409.4,81.01 409.6,82.32 409.8,81.13 410.0,81.80 410.2,80.98 410.4,80.71 410.6,81.91 410.8,80.27 411.0,79.35 411.2,80.27 411.4,80.87 411.6,82.97 411.8,80.54 412.0,80.62 412.2,81.84 412.4,81.61 412.6,80.85 412.8,81.93" fill="none" stroke="#3f5aa8" stroke-width="1.0" stroke-linejoin="round" stroke-linecap="round"/>
<polyline points="237.5,97.12 237.7,96.61 237.9,97.57 238.1,100.92 238.3,95.01 238.5,98.00 238.7,102.96 238.9,97.87 239.1,102.81 239.3,96.82 239.5,101.71 239.7,96.66 239.9,101.78 240.1,99.65 240.3,97.58 240.5,96.49 240.7,98.46 240.9,97.56 241.1,100.66 241.3,98.14 241.5,100.71 241.7,96.89 241.9,97.99 242.1,100.74 242.3,97.91 242.5,102.93 242.7,96.92 242.9,98.55 243.1,95.39 243.3,98.87 243.5,97.91 243.7,99.00 243.9,97.19 244.1,100.49 244.3,101.16 244.5,100.80 244.7,101.43 244.9,100.05 245.1,98.10 245.3,97.28 245.5,98.97 245.7,97.90 245.9,96.61 246.1,98.78 246.3,93.71 246.5,99.02 246.7,103.26 246.9,98.66 247.1,96.41 247.3,99.98 247.5,96.87 247.7,103.26 247.9,93.84 248.1,102.22 248.3,97.52 248.5,101.31 248.7,100.65 248.9,102.47 249.1,95.13 249.3,98.13 249.5,98.18 249.7,102.54 249.9,99.04 250.1,101.60 250.3,97.12 250.5,102.46 250.7,99.29 250.9,97.17 251.1,99.63 251.3,98.70 251.5,97.73 251.7,98.45 251.9,97.63 252.1,101.83 252.3,97.03 252.5,99.87 252.7,96.99 252.9,98.51 253.1,98.26 253.3,96.74 253.5,96.39 253.7,97.31 253.9,101.35 254.1,97.65 254.3,101.83 254.5,100.12 254.7,102.43 254.9,97.76 255.1,101.35 255.3,100.09 255.5,97.83 255.7,100.80 255.9,97.20 256.1,99.83 256.3,96.80 256.5,98.00 256.7,96.44 256.9,98.41 257.1,101.21 257.3,99.69 257.5,96.82 257.7,96.93 257.9,101.65 258.1,101.61 258.3,101.63 258.5,99.02 258.7,102.04 258.9,93.80 259.1,101.16 259.3,97.54 259.5,101.68 259.7,94.38 259.9,101.08 260.1,103.16 260.3,102.27 260.5,97.69 260.7,102.21 260.9,101.64 261.1,96.43 261.3,100.48 261.5,98.90 261.7,99.59 261.9,95.34 262.1,97.12 262.3,103.14" fill="none" stroke="#ec2227" stroke-width="1.0" stroke-linejoin="round" stroke-linecap="round"/>
<polyline points="271.0,99.02 271.2,100.60 271.4,99.06 271.6,103.14 271.8,99.97 272.0,100.55 272.2,98.26 272.4,100.80 272.6,101.34 272.8,98.48 273.0,102.39 273.2,94.63 273.4,103.04 273.6,101.46 273.8,102.54 274.0,102.19 274.2,95.26 274.4,102.01 274.6,96.39 274.8,103.29 275.0,100.08 275.2,96.41 275.4,99.86 275.6,99.55 275.8,100.70 276.0,98.78 276.2,98.65 276.4,98.83 276.6,96.63 276.8,95.68 277.0,95.37 277.2,102.43 277.4,100.84 277.6,100.69 277.8,98.89 278.0,99.19 278.2,97.94 278.4,100.58 278.6,102.74 278.8,96.97 279.0,100.81 279.2,100.65 279.4,99.67 279.6,100.02 279.8,97.51 280.0,99.88 280.2,99.76 280.4,97.25 280.6,101.29 280.8,97.43 281.0,95.39 281.2,96.61 281.4,100.82 281.6,98.81 281.8,100.80 282.0,103.02 282.2,98.11 282.4,103.06 282.6,98.42 282.8,98.87 283.0,99.14 283.2,97.45 283.4,103.04 283.6,101.04 283.8,102.66 284.0,96.78 284.2,96.88 284.4,99.66 284.6,102.94 284.8,97.77 285.0,97.88 285.2,100.34 285.4,96.58 285.6,94.53 285.8,100.40 286.0,99.47 286.2,96.67 286.4,99.42 286.6,102.69 286.8,98.00 287.0,97.46 287.2,99.56 287.4,100.95 287.6,100.63 287.8,98.41 288.0,98.57 288.2,102.91 288.4,98.46 288.6,101.65 288.8,96.60 289.0,102.77 289.2,99.07 289.4,97.76 289.6,102.75 289.8,99.08 290.0,98.05 290.2,98.83 290.4,97.21 290.6,102.03 290.8,98.65 291.0,96.63 291.2,102.04 291.4,95.21 291.6,100.00 291.8,100.67 292.0,102.67 292.2,97.51 292.4,98.75 292.6,96.95 292.8,98.28 293.0,101.48 293.2,98.06 293.4,101.54 293.6,101.85 293.8,98.00 294.0,95.72 294.2,97.36 294.4,95.70 294.6,101.97 294.8,101.28 295.0,96.34 295.2,102.66 295.4,101.08 295.6,96.12 295.8,100.35 296.0,98.35 296.2,94.43 296.4,100.60 296.6,100.64 296.8,97.27 297.0,99.18 297.2,99.27 297.4,98.32 297.6,98.39 297.8,99.02 298.0,102.83 298.2,100.33 298.4,103.32 298.6,97.08 298.8,97.74 299.0,97.57 299.2,99.13 299.4,100.98 299.6,99.79 299.8,100.72 300.0,98.98 300.2,100.02 300.4,102.32 300.6,96.99 300.8,99.40 301.0,97.57 301.2,101.74 301.4,100.02 301.6,97.07 301.8,97.56 302.0,100.81 302.2,100.54 302.4,101.83 302.6,97.79 302.8,99.83 303.0,99.16 303.2,97.99 303.4,98.36 303.6,98.43 303.8,100.17 304.0,98.31 304.2,97.51 304.4,101.93 304.6,101.57 304.8,102.34 305.0,100.67 305.2,98.07 305.4,102.35 305.6,98.36 305.8,101.35 306.0,100.12 306.2,96.52 306.4,102.81 306.6,98.75 306.8,97.21 307.0,99.26 307.2,97.09 307.4,95.74 307.6,98.90 307.8,101.96 308.0,99.38 308.2,99.08 308.4,99.86 308.6,101.29 308.8,94.68 309.0,99.85 309.2,99.80 309.4,98.29 309.6,103.20 309.8,98.06 310.0,98.62 310.2,98.78 310.4,97.86 310.6,101.21 310.8,102.36 311.0,101.77 311.2,102.56 311.4,97.75 311.6,99.98 311.8,101.71 312.0,98.80 312.2,97.22 312.4,97.45 312.6,102.02 312.8,95.93 313.0,103.33 313.2,99.16 313.4,101.80 313.6,97.58 313.8,102.49 314.0,97.30 314.2,101.05 314.4,95.63 314.6,102.88 314.8,102.06 315.0,99.46 315.2,101.20 315.4,101.94 315.6,99.02 315.8,96.24 316.0,99.72 316.2,99.48 316.4,102.21 316.6,99.41 316.8,97.38 317.0,97.17 317.2,101.67 317.4,100.01 317.6,102.01 317.8,97.26 318.0,101.85 318.2,98.26 318.4,102.82 318.6,98.13 318.8,96.23 319.0,102.52 319.2,101.50 319.4,96.31 319.6,100.28 319.8,98.39 320.0,100.85 320.2,103.24 320.4,99.10 320.6,101.81 320.8,98.69 321.0,102.41 321.2,95.45 321.4,98.20 321.6,98.48 321.8,99.49 322.0,101.98 322.2,100.25 322.4,102.39 322.6,101.62 322.8,101.23 323.0,100.55 323.2,97.85 323.4,102.41 323.6,103.39 323.8,102.91 324.0,102.41 324.2,101.48 324.4,98.40 324.6,102.59 324.8,95.47 325.0,100.01 325.2,102.75 325.4,100.09 325.6,102.17 325.8,100.06 326.0,99.81 326.2,98.94 326.4,98.56 326.6,97.45 326.8,102.71 327.0,102.08 327.2,98.71 327.4,100.64 327.6,102.92 327.8,99.01 328.0,99.78 328.2,100.81 328.4,103.09 328.6,96.25 328.8,98.14 329.0,100.88 329.2,102.74 329.4,98.04 329.6,99.42 329.8,98.28 330.0,98.74 330.2,96.04 330.4,100.10 330.6,101.17 330.8,96.04 331.0,102.39 331.2,100.58 331.4,98.10 331.6,102.38 331.8,99.81 332.0,102.32 332.2,101.36 332.4,100.96 332.6,100.97 332.8,102.55 333.0,98.61 333.2,100.61 333.4,102.94 333.6,100.60 333.8,100.33 334.0,100.70 334.2,102.44 334.4,98.55 334.6,103.06 334.8,98.59 335.0,95.43 335.2,99.94 335.4,96.54 335.6,100.64 335.8,101.51 336.0,98.68 336.2,102.79 336.4,99.31 336.6,99.41 336.8,99.08 337.0,98.15 337.2,98.05 337.4,102.61 337.6,101.28 337.8,97.85 338.0,101.61 338.2,99.29 338.4,100.80 338.6,98.06 338.8,99.63 339.0,103.24 339.2,101.58 339.4,99.70 339.6,97.92 339.8,102.19 340.0,102.13 340.2,99.51 340.4,102.16 340.6,99.47 340.8,101.93 341.0,100.39 341.2,99.12 341.4,100.69 341.6,99.81 341.8,97.95 342.0,101.50 342.2,98.08 342.4,99.86 342.6,101.11 342.8,99.81 343.0,98.32 343.2,99.61 343.4,97.12 343.6,103.14 343.8,101.76 344.0,99.78 344.2,102.73 344.4,102.46 344.6,99.26 344.8,99.01 345.0,101.21 345.2,103.06 345.4,103.33 345.6,99.62 345.8,97.99 346.0,99.83 346.2,99.70 346.4,102.61 346.6,98.61 346.8,103.35 347.0,102.79 347.2,98.33 347.4,102.99 347.6,100.98 347.8,99.96 348.0,99.59 348.2,98.62 348.4,102.32 348.6,98.35 348.8,100.47 349.0,103.03 349.2,101.73 349.4,98.71 349.6,98.76 349.8,100.27 350.0,98.68 350.2,96.39 350.4,99.71 350.6,101.61 350.8,102.52 351.0,101.68 351.2,99.97 351.4,97.35 351.6,100.12 351.8,99.30 352.0,101.51 352.2,99.16 352.4,100.91 352.6,101.47 352.8,96.12 353.0,102.33 353.2,98.79 353.4,103.30 353.6,100.72 353.8,100.16 354.0,100.04 354.2,101.91 354.4,100.15 354.6,97.60 354.8,99.98 355.0,98.65 355.2,98.36 355.4,98.48 355.6,99.49 355.8,102.03 356.0,103.10 356.2,97.45 356.4,103.16 356.6,101.97 356.8,98.06 357.0,100.57 357.2,99.55 357.4,101.34 357.6,102.63 357.8,98.38 358.0,96.52 358.2,98.11 358.4,102.68 358.6,99.55 358.8,102.47 359.0,98.55 359.2,102.31 359.4,100.11 359.6,98.80 359.8,98.61 360.0,102.61 360.2,101.93 360.4,103.14 360.6,100.67 360.8,99.19 361.0,100.23 361.2,100.61 361.4,102.52 361.6,98.63 361.8,101.63 362.0,101.50 362.2,102.43 362.4,99.15 362.6,102.63 362.8,100.76 363.0,101.94 363.2,99.25 363.4,103.10 363.6,97.92 363.8,100.82 364.0,100.51 364.2,99.21 364.4,98.86 364.6,96.13 364.8,101.57 365.0,98.51 365.2,102.85 365.4,102.73 365.6,100.35 365.8,101.82 366.0,103.23 366.2,99.99 366.4,98.87 366.6,102.49 366.8,103.16 367.0,99.43 367.2,103.36 367.4,98.51 367.6,103.39 367.8,102.18 368.0,102.02 368.2,102.39 368.4,98.86 368.6,96.72 368.8,99.75 369.0,102.99 369.2,97.59 369.4,98.92 369.6,102.95 369.8,99.33 370.0,99.07 370.2,100.94 370.4,100.25 370.6,99.85 370.8,102.81 371.0,101.51 371.2,100.97 371.4,100.34 371.6,100.51 371.8,99.11 372.0,103.27 372.2,103.36 372.4,99.88 372.6,99.86 372.8,98.59 373.0,102.03 373.2,98.79 373.4,98.49 373.6,100.57 373.8,98.01 374.0,102.45 374.2,102.30 374.4,101.27 374.6,101.14 374.8,103.07 375.0,102.74 375.2,99.45 375.4,98.81 375.6,99.30 375.8,96.69 376.0,99.30 376.2,99.32 376.4,103.00 376.6,100.93 376.8,99.54 377.0,101.61 377.2,99.85 377.4,102.11 377.6,103.39 377.8,102.53 378.0,102.31 378.2,98.54 378.4,100.86 378.6,101.81 378.8,98.84 379.0,102.90 379.2,100.76 379.4,98.54 379.6,102.64 379.8,98.74 380.0,100.36 380.2,102.94 380.4,100.47 380.6,99.71 380.8,101.18 381.0,99.99 381.2,101.31 381.4,101.15 381.6,99.40 381.8,101.64 382.0,101.56 382.2,98.99 382.4,99.61 382.6,99.52 382.8,101.37 383.0,100.76 383.2,101.92 383.4,101.53 383.6,103.27 383.8,102.81 384.0,99.93 384.2,103.15 384.4,99.28 384.6,100.37 384.8,100.05 385.0,102.81 385.2,99.80 385.4,100.33 385.6,101.64 385.8,103.18 386.0,99.07 386.2,100.55 386.4,100.35 386.6,96.88 386.8,100.05 387.0,101.39 387.2,102.22 387.4,99.29 387.6,100.12 387.8,99.46 388.0,103.14 388.2,103.13 388.4,101.75 388.6,98.94 388.8,99.46 389.0,98.72 389.2,99.15 389.4,103.34 389.6,97.79 389.8,102.35 390.0,100.67 390.2,99.39 390.4,98.12 390.6,101.96 390.8,100.70 391.0,101.96 391.2,101.15 391.4,99.44 391.6,100.57 391.8,99.14 392.0,103.04 392.2,99.57 392.4,100.19 392.6,103.10 392.8,100.50 393.0,100.73 393.2,98.76 393.4,101.92 393.6,103.35 393.8,100.11 394.0,99.73 394.2,99.21 394.4,102.00 394.6,101.88 394.8,99.69 395.0,98.76 395.2,101.19 395.4,100.74 395.6,101.92 395.8,102.36 396.0,100.40 396.2,99.67 396.4,100.17 396.6,99.45 396.8,101.18 397.0,99.14 397.2,103.23 397.4,101.76 397.6,102.50 397.8,100.49 398.0,99.33 398.2,102.71 398.4,103.38 398.6,101.64 398.8,103.31 399.0,99.99 399.2,99.25 399.4,99.73 399.6,103.16 399.8,101.45 400.0,99.77 400.2,101.65 400.4,103.33 400.6,99.51 400.8,103.21 401.0,99.21 401.2,101.75 401.4,99.03 401.6,103.10 401.8,101.71 402.0,102.70 402.2,100.69 402.4,98.62 402.6,102.46 402.8,102.36 403.0,101.87 403.2,102.36 403.4,101.09 403.6,100.38 403.8,103.08 404.0,101.36 404.2,101.72 404.4,99.88 404.6,102.05 404.8,101.23 405.0,99.93 405.2,102.22 405.4,100.59 405.6,103.23 405.8,99.08 406.0,102.07 406.2,101.91 406.4,102.95 406.6,102.21 406.8,103.24 407.0,101.15 407.2,99.87 407.4,99.71 407.6,100.79 407.8,98.86 408.0,103.01 408.2,102.78 408.4,101.62 408.6,100.06 408.8,100.52 409.0,100.57 409.2,99.00 409.4,97.70 409.6,100.22 409.8,100.12 410.0,99.39 410.2,100.68 410.4,103.09 410.6,97.83 410.8,102.03 411.0,99.80 411.2,100.67 411.4,102.18 411.6,101.48 411.8,101.41 412.0,99.30 412.2,102.63 412.4,100.30 412.6,101.14 412.8,103.22" fill="none" stroke="#ec2227" stroke-width="1.0" stroke-linejoin="round" stroke-linecap="round"/>
<polyline points="237.5,120.60 237.7,121.49 237.9,120.78 238.1,120.75 238.3,123.38 238.5,123.25 238.7,118.22 238.9,122.59 239.1,122.63 239.3,123.21 239.5,122.57 239.7,121.12 239.9,120.03 240.1,122.07 240.3,122.01 240.5,121.82 240.7,120.81 240.9,120.42 241.1,119.82 241.3,121.97 241.5,119.24 241.7,122.10 241.9,120.27 242.1,122.52 242.3,120.09 242.5,121.48 242.7,120.64 242.9,121.37 243.1,122.20 243.3,121.52 243.5,123.21 243.7,123.24 243.9,121.39 244.1,121.59 244.3,120.23 244.5,123.32 244.7,121.28 244.9,121.54 245.1,121.13 245.3,120.63 245.5,121.41 245.7,121.26 245.9,121.53 246.1,121.06 246.3,122.46 246.5,118.17 246.7,120.84 246.9,122.67 247.1,119.64 247.3,120.56 247.5,119.77 247.7,122.28 247.9,121.71 248.1,119.54 248.3,118.58 248.5,123.34 248.7,122.46 248.9,120.13 249.1,122.78 249.3,120.78 249.5,119.15 249.7,119.58 249.9,119.27 250.1,120.82 250.3,121.49 250.5,119.17 250.7,121.68 250.9,122.36 251.1,121.54 251.3,119.89 251.5,122.63 251.7,120.62 251.9,122.45 252.1,122.67 252.3,122.17 252.5,123.05 252.7,119.85 252.9,122.01 253.1,122.73 253.3,123.40 253.5,123.17 253.7,122.58 253.9,121.81 254.1,121.11 254.3,119.67 254.5,120.02 254.7,122.48 254.9,118.14 255.1,119.90 255.3,123.01 255.5,120.15 255.7,121.89 255.9,120.43 256.1,122.17 256.3,121.02 256.5,121.47 256.7,123.00 256.9,120.51 257.1,120.27 257.3,121.56 257.5,121.93 257.7,119.80 257.9,121.98 258.1,120.06 258.3,121.81 258.5,121.98 258.7,118.44 258.9,123.17 259.1,122.35 259.3,122.53 259.5,123.16 259.7,118.39 259.9,121.72 260.1,123.30 260.3,118.99 260.5,119.91 260.7,122.89 260.9,121.98 261.1,119.79 261.3,122.97 261.5,121.84 261.7,120.36 261.9,118.96 262.1,123.14 262.3,119.87" fill="none" stroke="#d04ca6" stroke-width="1.0" stroke-linejoin="round" stroke-linecap="round"/>
<polyline points="271.0,122.38 271.2,121.87 271.4,121.25 271.6,121.03 271.8,121.83 272.0,120.42 272.2,120.27 272.4,120.97 272.6,122.05 272.8,120.47 273.0,121.57 273.2,122.32 273.4,120.18 273.6,121.28 273.8,120.36 274.0,120.99 274.2,120.12 274.4,120.42 274.6,120.66 274.8,120.24 275.0,120.16 275.2,119.00 275.4,121.63 275.6,122.46 275.8,122.91 276.0,121.67 276.2,121.78 276.4,121.26 276.6,123.39 276.8,121.62 277.0,122.03 277.2,122.91 277.4,121.26 277.6,122.03 277.8,122.07 278.0,120.44 278.2,122.76 278.4,122.34 278.6,120.31 278.8,122.82 279.0,120.50 279.2,121.05 279.4,121.62 279.6,123.30 279.8,119.27 280.0,120.52 280.2,121.08 280.4,123.25 280.6,123.23 280.8,121.78 281.0,122.50 281.2,121.56 281.4,123.35 281.6,122.31 281.8,123.24 282.0,122.55 282.2,120.11 282.4,118.91 282.6,122.74 282.8,122.87 283.0,122.11 283.2,120.55 283.4,122.61 283.6,122.94 283.8,120.36 284.0,122.13 284.2,120.43 284.4,121.06 284.6,121.04 284.8,119.63 285.0,121.32 285.2,121.72 285.4,121.32 285.6,120.62 285.8,120.46 286.0,120.36 286.2,122.12 286.4,122.57 286.6,121.32 286.8,120.15 287.0,120.62 287.2,123.06 287.4,122.31 287.6,120.41 287.8,122.00 288.0,121.68 288.2,123.33 288.4,122.40 288.6,122.87 288.8,119.29 289.0,121.57 289.2,119.75 289.4,121.45 289.6,122.75 289.8,122.94 290.0,120.02 290.2,120.71 290.4,121.11 290.6,121.90 290.8,123.31 291.0,123.31 291.2,122.59 291.4,123.05 291.6,120.87 291.8,121.60 292.0,123.24 292.2,121.68 292.4,122.54 292.6,122.68 292.8,121.48 293.0,119.08 293.2,122.75 293.4,123.34 293.6,120.27 293.8,119.49 294.0,120.85 294.2,122.47 294.4,122.96 294.6,120.22 294.8,121.18 295.0,120.22 295.2,122.00 295.4,120.68 295.6,120.88 295.8,123.38 296.0,121.37 296.2,123.06 296.4,120.73 296.6,121.36 296.8,120.32 297.0,120.30 297.2,122.95 297.4,120.75 297.6,120.93 297.8,120.49 298.0,121.35 298.2,121.88 298.4,119.57 298.6,120.94 298.8,122.71 299.0,118.84 299.2,121.97 299.4,122.55 299.6,120.10 299.8,123.20 300.0,119.39 300.2,121.66 300.4,123.11 300.6,122.93 300.8,123.01 301.0,122.13 301.2,122.30 301.4,122.75 301.6,120.40 301.8,120.97 302.0,122.89 302.2,123.24 302.4,120.78 302.6,121.78 302.8,122.32 303.0,120.09 303.2,122.73 303.4,122.35 303.6,120.24 303.8,121.81 304.0,122.55 304.2,122.68 304.4,120.37 304.6,122.36 304.8,122.45 305.0,123.28 305.2,121.28 305.4,121.80 305.6,122.73 305.8,120.64 306.0,122.78 306.2,121.28 306.4,119.68 306.6,119.84 306.8,123.24 307.0,122.47 307.2,123.15 307.4,120.94 307.6,123.37 307.8,121.37 308.0,122.39 308.2,122.91 308.4,122.97 308.6,121.05 308.8,120.72 309.0,121.57 309.2,120.65 309.4,121.34 309.6,121.91 309.8,121.43 310.0,122.78 310.2,120.50 310.4,122.41 310.6,119.99 310.8,122.68 311.0,120.81 311.2,120.81 311.4,120.24 311.6,123.36 311.8,122.13 312.0,120.95 312.2,120.18 312.4,122.85 312.6,118.98 312.8,122.00 313.0,123.20 313.2,122.00 313.4,121.08 313.6,121.91 313.8,121.33 314.0,121.24 314.2,122.75 314.4,120.64 314.6,119.84 314.8,122.15 315.0,122.20 315.2,122.34 315.4,123.23 315.6,122.95 315.8,120.34 316.0,123.27 316.2,122.19 316.4,121.46 316.6,120.00 316.8,122.42 317.0,122.61 317.2,119.50 317.4,122.08 317.6,119.30 317.8,122.32 318.0,122.18 318.2,120.47 318.4,122.05 318.6,121.66 318.8,123.30 319.0,123.11 319.2,123.08 319.4,120.66 319.6,122.37 319.8,122.83 320.0,120.74 320.2,122.24 320.4,121.62 320.6,122.25 320.8,122.59 321.0,121.48 321.2,122.54 321.4,121.22 321.6,122.89 321.8,121.97 322.0,120.11 322.2,120.61 322.4,122.39 322.6,122.05 322.8,120.77 323.0,120.47 323.2,120.86 323.4,119.55 323.6,122.57 323.8,122.21 324.0,122.85 324.2,121.71 324.4,118.86 324.6,121.80 324.8,123.00 325.0,122.11 325.2,122.60 325.4,121.83 325.6,121.74 325.8,120.82 326.0,123.30 326.2,119.13 326.4,123.30 326.6,123.13 326.8,121.35 327.0,120.51 327.2,120.25 327.4,122.32 327.6,121.48 327.8,119.59 328.0,118.95 328.2,121.26 328.4,123.36 328.6,122.81 328.8,120.27 329.0,123.00 329.2,120.33 329.4,121.26 329.6,123.22 329.8,121.79 330.0,122.03 330.2,121.24 330.4,122.00 330.6,121.55 330.8,120.44 331.0,122.48 331.2,123.16 331.4,120.62 331.6,120.96 331.8,123.27 332.0,122.40 332.2,121.58 332.4,120.32 332.6,122.51 332.8,120.98 333.0,123.36 333.2,122.53 333.4,122.42 333.6,121.84 333.8,121.18 334.0,121.03 334.2,118.98 334.4,120.86 334.6,121.47 334.8,122.29 335.0,122.72 335.2,122.28 335.4,119.52 335.6,121.11 335.8,122.68 336.0,122.24 336.2,121.72 336.4,122.10 336.6,122.92 336.8,121.31 337.0,119.50 337.2,121.78 337.4,122.17 337.6,121.28 337.8,122.91 338.0,122.22 338.2,121.45 338.4,123.17 338.6,121.43 338.8,123.02 339.0,120.54 339.2,122.87 339.4,122.15 339.6,122.06 339.8,123.07 340.0,121.29 340.2,122.41 340.4,120.25 340.6,121.12 340.8,123.13 341.0,122.23 341.2,122.89 341.4,120.56 341.6,121.95 341.8,121.90 342.0,119.10 342.2,120.35 342.4,121.32 342.6,121.11 342.8,121.45 343.0,121.20 343.2,123.12 343.4,121.66 343.6,121.74 343.8,119.01 344.0,122.21 344.2,119.38 344.4,121.39 344.6,120.27 344.8,120.40 345.0,123.33 345.2,123.27 345.4,120.84 345.6,121.53 345.8,120.86 346.0,121.47 346.2,121.01 346.4,120.88 346.6,123.32 346.8,122.11 347.0,122.09 347.2,121.12 347.4,121.28 347.6,121.91 347.8,121.58 348.0,120.16 348.2,122.77 348.4,123.07 348.6,121.06 348.8,121.01 349.0,120.14 349.2,120.35 349.4,121.74 349.6,121.31 349.8,120.73 350.0,123.19 350.2,120.02 350.4,121.56 350.6,122.74 350.8,121.23 351.0,121.06 351.2,121.06 351.4,121.50 351.6,123.24 351.8,121.31 352.0,120.28 352.2,120.34 352.4,120.46 352.6,120.88 352.8,121.05 353.0,121.53 353.2,120.70 353.4,122.29 353.6,119.51 353.8,121.34 354.0,121.24 354.2,123.11 354.4,121.73 354.6,120.91 354.8,122.48 355.0,121.52 355.2,120.85 355.4,122.74 355.6,121.97 355.8,122.93 356.0,120.62 356.2,120.18 356.4,122.00 356.6,120.87 356.8,121.28 357.0,120.95 357.2,120.27 357.4,122.65 357.6,120.25 357.8,120.18 358.0,122.44 358.2,123.30 358.4,120.47 358.6,119.92 358.8,120.37 359.0,122.15 359.2,121.40 359.4,121.98 359.6,122.06 359.8,120.27 360.0,120.56 360.2,120.81 360.4,120.52 360.6,122.58 360.8,120.07 361.0,123.12 361.2,121.74 361.4,121.87 361.6,122.66 361.8,120.25 362.0,121.10 362.2,120.95 362.4,119.44 362.6,119.90 362.8,122.74 363.0,119.67 363.2,122.13 363.4,122.61 363.6,120.51 363.8,122.52 364.0,120.71 364.2,121.73 364.4,121.96 364.6,119.49 364.8,122.20 365.0,119.32 365.2,121.63 365.4,121.63 365.6,120.70 365.8,120.33 366.0,121.30 366.2,120.30 366.4,120.15 366.6,120.23 366.8,121.34 367.0,120.47 367.2,119.73 367.4,120.83 367.6,120.94 367.8,120.57 368.0,120.89 368.2,120.23 368.4,119.09 368.6,120.33 368.8,120.16 369.0,121.89 369.2,120.94 369.4,121.93 369.6,119.00 369.8,120.40 370.0,120.06 370.2,120.42 370.4,118.83 370.6,120.73 370.8,120.68 371.0,120.52 371.2,120.38 371.4,120.32 371.6,121.70 371.8,119.75 372.0,119.95 372.2,122.11 372.4,122.22 372.6,120.43 372.8,121.71 373.0,122.53 373.2,122.36 373.4,121.45 373.6,120.37 373.8,120.91 374.0,120.89 374.2,121.72 374.4,121.23 374.6,122.90 374.8,121.02 375.0,121.61 375.2,119.88 375.4,121.61 375.6,122.54 375.8,120.49 376.0,121.50 376.2,123.29 376.4,123.30 376.6,120.29 376.8,122.17 377.0,122.64 377.2,122.79 377.4,122.40 377.6,121.64 377.8,121.32 378.0,119.25 378.2,122.44 378.4,121.46 378.6,120.93 378.8,122.98 379.0,121.67 379.2,121.90 379.4,122.02 379.6,121.93 379.8,121.17 380.0,119.06 380.2,121.52 380.4,120.42 380.6,119.95 380.8,120.78 381.0,121.66 381.2,120.52 381.4,120.79 381.6,123.05 381.8,120.11 382.0,120.38 382.2,119.73 382.4,122.20 382.6,122.97 382.8,121.17 383.0,121.10 383.2,121.99 383.4,121.35 383.6,120.76 383.8,123.15 384.0,118.83 384.2,120.85 384.4,120.45 384.6,120.52 384.8,121.50 385.0,118.97 385.2,122.51 385.4,120.91 385.6,122.57 385.8,123.20 386.0,121.40 386.2,119.30 386.4,122.50 386.6,120.76 386.8,123.30 387.0,121.01 387.2,121.03 387.4,120.20 387.6,123.21 387.8,122.36 388.0,123.24 388.2,121.58 388.4,123.10 388.6,121.59 388.8,119.64 389.0,121.22 389.2,123.06 389.4,123.24 389.6,121.57 389.8,121.87 390.0,123.05 390.2,122.03 390.4,123.35 390.6,120.39 390.8,120.34 391.0,120.33 391.2,122.58 391.4,121.52 391.6,122.73 391.8,123.37 392.0,121.64 392.2,120.42 392.4,121.77 392.6,122.63 392.8,120.50 393.0,122.35 393.2,121.17 393.4,121.25 393.6,121.35 393.8,121.59 394.0,122.00 394.2,120.16 394.4,122.57 394.6,122.05 394.8,121.43 395.0,121.17 395.2,122.91 395.4,120.68 395.6,120.19 395.8,119.07 396.0,121.75 396.2,122.26 396.4,120.79 396.6,120.98 396.8,121.77 397.0,121.92 397.2,123.22 397.4,120.37 397.6,121.18 397.8,122.98 398.0,120.26 398.2,121.72 398.4,122.08 398.6,123.39 398.8,121.94 399.0,121.63 399.2,122.77 399.4,122.19 399.6,121.02 399.8,118.88 400.0,119.80 400.2,123.03 400.4,120.51 400.6,121.11 400.8,121.88 401.0,120.27 401.2,121.92 401.4,120.81 401.6,120.94 401.8,122.63 402.0,122.55 402.2,120.58 402.4,122.05 402.6,121.24 402.8,121.53 403.0,120.10 403.2,122.56 403.4,123.17 403.6,122.56 403.8,122.74 404.0,120.85 404.2,120.75 404.4,122.67 404.6,122.51 404.8,120.25 405.0,119.19 405.2,120.93 405.4,123.01 405.6,122.21 405.8,121.71 406.0,122.39 406.2,120.83 406.4,120.42 406.6,121.29 406.8,119.28 407.0,121.06 407.2,120.90 407.4,121.48 407.6,122.22 407.8,120.23 408.0,121.07 408.2,120.82 408.4,121.21 408.6,120.12 408.8,122.31 409.0,122.25 409.2,123.04 409.4,122.99 409.6,122.60 409.8,121.85 410.0,122.03 410.2,118.87 410.4,122.04 410.6,120.36 410.8,120.98 411.0,120.12 411.2,122.55 411.4,121.91 411.6,122.07 411.8,121.99 412.0,121.25 412.2,121.06 412.4,121.35 412.6,121.80 412.8,121.89" fill="none" stroke="#d04ca6" stroke-width="1.0" stroke-linejoin="round" stroke-linecap="round"/>
<ellipse cx="368.5" cy="52" rx="8.2" ry="13.4" fill="none" stroke="#5bb7e3" stroke-width="0.8" stroke-dasharray="2,1.3"/>
<line x1="318.2" y1="124.2" x2="318.2" y2="122.2" stroke="#8a8a8a" stroke-width="1"/>
<line x1="365.7" y1="124.2" x2="365.7" y2="122.2" stroke="#8a8a8a" stroke-width="1"/>
<text x="233" y="45" font-size="11" text-anchor="end" fill="#333">4.0</text>
<text x="233" y="86.5" font-size="11" text-anchor="end" fill="#333">2.0</text>
<text x="233" y="127.4" font-size="11" text-anchor="end" fill="#333">0</text>
<text x="237.8" y="139.8" font-size="11" text-anchor="middle" fill="#333">3</text>
<text x="260.3" y="139.8" font-size="11" text-anchor="middle" fill="#333">4</text>
<text x="270.4" y="139.8" font-size="11" text-anchor="middle" fill="#333">6</text>
<text x="317.4" y="139.8" font-size="11" text-anchor="middle" fill="#333">8</text>
<text x="364.7" y="139.8" font-size="11" text-anchor="middle" fill="#333">10</text>
<text x="411.6" y="139.8" font-size="11" text-anchor="middle" fill="#333">12</text>
<text x="325.6" y="157.0" font-size="12.5" text-anchor="middle" fill="#333">Frequency (THz)</text>
<text x="283.9" y="33.8" font-size="9.3" fill="#333">4 V</text>
<text x="283.9" y="53.9" font-size="9.3" fill="#333">3 V</text>
<text x="283.9" y="74.8" font-size="9.3" fill="#333">2 V</text>
<text x="283.9" y="95.1" font-size="9.3" fill="#333">1 V</text>
<text x="283.9" y="116.2" font-size="9.3" text-anchor="start" fill="#333"><tspan font-style="italic">V</tspan><tspan font-size="6.3" dy="2.0">G</tspan><tspan dy="-2.0"> = 0 V</tspan></text>
<circle cx="422.1" cy="39.2" r="4.45" fill="#6dbf62"/>
<rect x="417.7" y="53.4" width="8.90" height="9.10" fill="#231f20"/>
<polygon points="422.55,70.5 416.8,83.9 428.3,83.9" fill="#3f5aa8"/>
<path d="M420.85,94.9H424.65V98.05H427.8V101.85H424.65V105.0H420.85V101.85H417.7V98.05H420.85Z" fill="#ec2227"/>
<polygon points="422.50,110.50 424.43,116.54 429.46,117.06 425.63,121.32 426.80,127.69 422.50,124.28 418.20,127.69 419.37,121.32 415.54,117.06 420.57,116.54" fill="#d04ca6"/>
<rect x="238.8" y="205.6" width="23.599999999999966" height="104.79999999999998" fill="none" stroke="#8a8a8a" stroke-width="1"/>
<rect x="270.4" y="205.6" width="144.3" height="104.79999999999998" fill="none" stroke="#8a8a8a" stroke-width="1"/>
<polyline points="239.1,228.86 239.35,223.29 239.6,223.86 239.85,231.14 240.1,230.25 240.35,231.22 240.6,226.61 240.85,229.24 241.1,225.86 241.35,236.76 241.6,222.42 241.85,229.41 242.1,226.14 242.35,229.57 242.6,230.59 242.85,227.05 243.1,225.54 243.35,229.85 243.6,229.64 243.85,226.12 244.1,232.66 244.35,235.36 244.6,227.34 244.85,231.82 245.1,237.07 245.35,232.42 245.6,230.96 245.85,234.01 246.1,235.27 246.35,228.85 246.6,225.23 246.85,229.98 247.1,232.12 247.35,227.38 247.6,225.99 247.85,230.26 248.1,226.71 248.35,224.62 248.6,229.87 248.85,232.42 249.1,227.54 249.35,227.96 249.6,224.38 249.85,234.40 250.1,231.78 250.35,232.52 250.6,236.28 250.85,228.47 251.1,226.78 251.35,232.10 251.6,223.18 251.85,225.55 252.1,226.37 252.35,227.31 252.6,224.99 252.85,234.59 253.1,226.42 253.35,226.47 253.6,236.42 253.85,227.54 254.1,230.05 254.35,225.72 254.6,230.84 254.85,229.08 255.1,227.56 255.35,232.68 255.6,226.49 255.85,229.44 256.1,226.93 256.35,231.19 256.6,224.44 256.85,226.46 257.1,229.75 257.35,226.35 257.6,223.71 257.85,221.48 258.1,235.61 258.35,225.29 258.6,227.05 258.85,229.39 259.1,233.23 259.35,223.72 259.6,234.30 259.85,226.62 260.1,223.53 260.35,235.72 260.6,230.27 260.85,234.50 261.1,227.97 261.35,222.64 261.6,220.50 261.85,236.47" fill="none" stroke="#6dbf62" stroke-width="1.0" stroke-linejoin="round" stroke-linecap="round"/>
<polyline points="270.7,228.71 270.95,230.95 271.2,226.92 271.45,230.22 271.7,226.80 271.95,217.27 272.2,225.64 272.45,224.27 272.7,230.81 272.95,231.28 273.2,224.22 273.45,231.52 273.7,231.41 273.95,225.81 274.2,229.48 274.45,224.97 274.7,231.29 274.95,223.88 275.2,236.94 275.45,231.29 275.7,233.18 275.95,226.85 276.2,233.84 276.45,223.48 276.7,231.74 276.95,223.67 277.2,227.82 277.45,223.38 277.7,222.96 277.95,230.11 278.2,227.10 278.45,224.61 278.7,227.04 278.95,222.38 279.2,222.34 279.45,228.87 279.7,235.19 279.95,227.89 280.2,222.15 280.45,229.02 280.7,229.58 280.95,229.28 281.2,225.42 281.45,222.06 281.7,235.59 281.95,224.83 282.2,230.07 282.45,233.88 282.7,223.85 282.95,228.96 283.2,230.22 283.45,228.13 283.7,231.80 283.95,225.32 284.2,230.54 284.45,219.94 284.7,225.54 284.95,229.51 285.2,228.53 285.45,232.11 285.7,225.58 285.95,225.33 286.2,235.49 286.45,227.35 286.7,225.12 286.95,224.24 287.2,229.50 287.45,230.40 287.7,227.97 287.95,224.91 288.2,226.08 288.45,226.93 288.7,228.92 288.95,231.27 289.2,233.95 289.45,226.32 289.7,229.84 289.95,226.95 290.2,217.72 290.45,233.61 290.7,222.86 290.95,231.57 291.2,229.20 291.45,230.49 291.7,227.73 291.95,225.81 292.2,226.49 292.45,220.69 292.7,229.57 292.95,223.68 293.2,229.22 293.45,230.95 293.7,227.62 293.95,233.42 294.2,222.71 294.45,221.96 294.7,229.03 294.95,233.04 295.2,225.18 295.45,227.09 295.7,224.77 295.95,230.74 296.2,226.39 296.45,225.00 296.7,219.09 296.95,230.62 297.2,224.05 297.45,229.35 297.7,226.82 297.95,221.01 298.2,233.18 298.45,233.29 298.7,228.15 298.95,228.96 299.2,219.91 299.45,231.36 299.7,220.03 299.95,228.15 300.2,224.28 300.45,230.13 300.7,233.99 300.95,228.96 301.2,224.49 301.45,230.23 301.7,231.80 301.95,224.47 302.2,239.76 302.45,229.07 302.7,226.70 302.95,232.32 303.2,230.23 303.45,225.39 303.7,228.57 303.95,234.15 304.2,228.43 304.45,234.06 304.7,225.34 304.95,224.70 305.2,226.06 305.45,224.85 305.7,228.00 305.95,234.86 306.2,231.33 306.45,228.21 306.7,224.06 306.95,228.34 307.2,222.84 307.45,232.22 307.7,224.71 307.95,238.35 308.2,226.42 308.45,232.15 308.7,226.22 308.95,229.61 309.2,231.05 309.45,227.22 309.7,224.51 309.95,226.59 310.2,220.70 310.45,230.21 310.7,228.24 310.95,231.36 311.2,227.75 311.45,225.05 311.7,222.90 311.95,228.63 312.2,234.62 312.45,230.69 312.7,228.21 312.95,227.82 313.2,225.05 313.45,223.73 313.7,230.84 313.95,232.95 314.2,235.04 314.45,228.52 314.7,222.23 314.95,228.72 315.2,223.77 315.45,232.96 315.7,230.78 315.95,229.76 316.2,232.11 316.45,230.52 316.7,227.67 316.95,229.00 317.2,226.28 317.45,227.76 317.7,227.30 317.95,232.75 318.2,230.56 318.45,229.87 318.7,224.45 318.95,229.84 319.2,230.54 319.45,231.44 319.7,225.47 319.95,230.23 320.2,232.57 320.45,233.39 320.7,233.10 320.95,225.49 321.2,233.41 321.45,225.66 321.7,222.45 321.95,229.98 322.2,225.77 322.45,222.50 322.7,233.31 322.95,229.43 323.2,218.73 323.45,227.93 323.7,226.89 323.95,224.37 324.2,230.95 324.45,229.16 324.7,228.97 324.95,219.26 325.2,226.61 325.45,234.12 325.7,224.76 325.95,229.43 326.2,228.55 326.45,228.96 326.7,231.39 326.95,225.67 327.2,234.11 327.45,227.69 327.7,226.66 327.95,226.62 328.2,228.74 328.45,225.09 328.7,225.44 328.95,228.27 329.2,225.24 329.45,232.01 329.7,225.26 329.95,225.52 330.2,233.48 330.45,229.75 330.7,226.63 330.95,235.60 331.2,231.52 331.45,228.61 331.7,226.63 331.95,223.09 332.2,226.34 332.45,234.57 332.7,234.98 332.95,234.46 333.2,230.34 333.45,229.45 333.7,232.33 333.95,232.11 334.2,228.28 334.45,226.43 334.7,224.85 334.95,232.06 335.2,226.94 335.45,235.85 335.7,231.68 335.95,228.65 336.2,230.58 336.45,232.55 336.7,231.59 336.95,230.50 337.2,228.56 337.45,226.53 337.7,232.71 337.95,231.84 338.2,227.84 338.45,230.54 338.7,231.69 338.95,230.43 339.2,228.91 339.45,234.74 339.7,228.58 339.95,235.19 340.2,234.92 340.45,231.04 340.7,228.99 340.95,231.67 341.2,229.38 341.45,228.93 341.7,226.78 341.95,221.85 342.2,230.30 342.45,230.86 342.7,232.05 342.95,226.39 343.2,233.12 343.45,232.05 343.7,239.21 343.95,229.79 344.2,232.66 344.45,230.86 344.7,224.78 344.95,228.92 345.2,230.82 345.45,234.42 345.7,226.63 345.95,233.26 346.2,233.03 346.45,232.39 346.7,234.15 346.95,236.88 347.2,231.07 347.45,230.64 347.7,230.01 347.95,229.07 348.2,226.70 348.45,229.04 348.7,230.99 348.95,230.62 349.2,230.91 349.45,227.65 349.7,227.46 349.95,228.34 350.2,234.21 350.45,226.16 350.7,230.02 350.95,231.76 351.2,227.08 351.45,226.15 351.7,228.09 351.95,230.97 352.2,231.32 352.45,227.80 352.7,230.36 352.95,232.02 353.2,228.60 353.45,227.38 353.7,227.98 353.95,230.03 354.2,226.97 354.45,226.13 354.7,217.86 354.95,202.92 355.2,207.24 355.45,215.81 355.7,220.37 355.95,223.95 356.2,234.17 356.45,235.88 356.7,230.12 356.95,227.28 357.2,231.27 357.45,226.55 357.7,231.70 357.95,228.31 358.2,231.08 358.45,231.48 358.7,239.02 358.95,231.35 359.2,229.13 359.45,226.01 359.7,226.54 359.95,230.79 360.2,227.96 360.45,228.77 360.7,237.28 360.95,230.55 361.2,226.79 361.45,225.19 361.7,233.18 361.95,232.44 362.2,229.22 362.45,228.18 362.7,229.06 362.95,228.51 363.2,230.34 363.45,233.24 363.7,235.00 363.95,235.02 364.2,230.78 364.45,234.27 364.7,232.78 364.95,234.82 365.2,231.10 365.45,232.91 365.7,226.64 365.95,234.46 366.2,231.78 366.45,228.85 366.7,221.81 366.95,232.68 367.2,233.26 367.45,229.41 367.7,230.08 367.95,230.83 368.2,231.22 368.45,228.13 368.7,236.29 368.95,235.54 369.2,233.77 369.45,230.50 369.7,226.36 369.95,231.28 370.2,232.61 370.45,225.85 370.7,235.42 370.95,233.16 371.2,226.59 371.45,232.26 371.7,236.06 371.95,230.60 372.2,231.18 372.45,226.31 372.7,233.77 372.95,230.75 373.2,228.75 373.45,235.87 373.7,229.10 373.95,231.71 374.2,225.86 374.45,233.80 374.7,229.53 374.95,228.53 375.2,227.54 375.45,227.82 375.7,234.40 375.95,229.93 376.2,232.05 376.45,232.51 376.7,233.37 376.95,233.15 377.2,227.73 377.45,230.47 377.7,226.48 377.95,231.02 378.2,227.35 378.45,233.83 378.7,228.93 378.95,231.69 379.2,228.64 379.45,227.28 379.7,231.41 379.95,232.08 380.2,234.32 380.45,228.58 380.7,230.62 380.95,234.65 381.2,227.49 381.45,230.87 381.7,234.91 381.95,230.00 382.2,228.24 382.45,229.27 382.7,231.57 382.95,229.54 383.2,229.69 383.45,227.11 383.7,227.47 383.95,233.16 384.2,228.98 384.45,224.03 384.7,219.61 384.95,228.43 385.2,235.24 385.45,231.86 385.7,233.37 385.95,233.01 386.2,231.83 386.45,229.47 386.7,231.78 386.95,230.70 387.2,234.66 387.45,234.91 387.7,227.58 387.95,236.71 388.2,232.51 388.45,228.87 388.7,233.08 388.95,235.44 389.2,230.16 389.45,230.32 389.7,227.11 389.95,234.76 390.2,230.46 390.45,229.84 390.7,237.35 390.95,228.77 391.2,229.03 391.45,231.94 391.7,233.09 391.95,239.18 392.2,233.30 392.45,233.54 392.7,232.29 392.95,232.89 393.2,234.44 393.45,229.52 393.7,226.16 393.95,232.22 394.2,234.70 394.45,235.15 394.7,227.64 394.95,233.03 395.2,232.51 395.45,230.36 395.7,238.73 395.95,227.71 396.2,229.46 396.45,232.15 396.7,236.07 396.95,228.72 397.2,229.14 397.45,229.61 397.7,233.44 397.95,230.12 398.2,226.72 398.45,233.91 398.7,228.56 398.95,236.96 399.2,232.61 399.45,226.62 399.7,227.31 399.95,234.65 400.2,229.79 400.45,226.10 400.7,231.36 400.95,227.43 401.2,228.63 401.45,226.09 401.7,235.30 401.95,227.54 402.2,230.26 402.45,235.39 402.7,234.66 402.95,232.69 403.2,234.80 403.45,232.36 403.7,235.18 403.95,240.33 404.2,230.30 404.45,234.48 404.7,229.39 404.95,232.27 405.2,230.06 405.45,232.18 405.7,232.17 405.95,233.49 406.2,232.95 406.45,230.19 406.7,230.09 406.95,234.62 407.2,231.25 407.45,230.02 407.7,233.72 407.95,233.45 408.2,228.58 408.45,235.65 408.7,230.44 408.95,232.34 409.2,235.64 409.45,233.39 409.7,232.66 409.95,231.96 410.2,231.66 410.45,233.97 410.7,228.57 410.95,230.84 411.2,234.81 411.45,231.02 411.7,237.22 411.95,236.29 412.2,228.53 412.45,228.31 412.7,233.93 412.95,231.43 413.2,230.81 413.45,231.00 413.7,231.20 413.95,234.09 414.2,229.83" fill="none" stroke="#6dbf62" stroke-width="1.0" stroke-linejoin="round" stroke-linecap="round"/>
<polyline points="239.1,256.60 239.55,253.50 240.0,254.30 240.45,254.24 240.9,251.51 241.35,259.55 241.8,257.69 242.25,259.51 242.7,255.78 243.15,252.36 243.6,255.10 244.05,253.38 244.5,260.15 244.95,253.99 245.4,256.86 245.85,248.91 246.3,251.34 246.75,251.04 247.2,253.87 247.65,251.86 248.1,251.70 248.55,254.60 249.0,255.08 249.45,254.03 249.9,255.54 250.35,255.63 250.8,254.87 251.25,256.33 251.7,252.17 252.15,259.22 252.6,252.42 253.05,256.84 253.5,256.82 253.95,259.37 254.4,256.08 254.85,256.57 255.3,255.48 255.75,257.74 256.2,256.06 256.65,251.17 257.1,255.34 257.55,258.24 258.0,253.84 258.45,256.96 258.9,254.83 259.35,254.70 259.8,257.51 260.25,261.85 260.7,257.10 261.15,254.32 261.6,256.84 262.05,254.26" fill="none" stroke="#231f20" stroke-width="1.0" stroke-linejoin="round" stroke-linecap="round"/>
<polyline points="270.7,258.06 271.15,251.66 271.6,256.26 272.05,254.17 272.5,257.75 272.95,248.79 273.4,258.25 273.85,255.14 274.3,256.79 274.75,249.72 275.2,255.31 275.65,259.27 276.1,257.60 276.55,258.96 277.0,259.26 277.45,256.92 277.9,260.69 278.35,254.41 278.8,261.70 279.25,256.14 279.7,254.03 280.15,254.63 280.6,250.63 281.05,255.05 281.5,252.48 281.95,256.96 282.4,249.66 282.85,261.97 283.3,253.82 283.75,256.82 284.2,251.70 284.65,256.92 285.1,254.14 285.55,252.48 286.0,256.29 286.45,253.40 286.9,251.80 287.35,254.53 287.8,255.27 288.25,253.66 288.7,248.23 289.15,256.09 289.6,251.21 290.05,260.08 290.5,257.13 290.95,254.20 291.4,252.25 291.85,255.61 292.3,254.32 292.75,259.50 293.2,258.25 293.65,253.51 294.1,255.48 294.55,256.37 295.0,260.56 295.45,251.43 295.9,252.24 296.35,257.04 296.8,255.03 297.25,259.93 297.7,254.27 298.15,256.03 298.6,257.30 299.05,262.11 299.5,258.54 299.95,260.40 300.4,253.51 300.85,257.92 301.3,251.12 301.75,254.30 302.2,257.61 302.65,251.37 303.1,251.43 303.55,254.16 304.0,260.24 304.45,252.54 304.9,252.03 305.35,252.70 305.8,256.71 306.25,258.06 306.7,258.78 307.15,259.45 307.6,256.81 308.05,251.31 308.5,250.54 308.95,255.51 309.4,256.51 309.85,252.48 310.3,254.12 310.75,252.83 311.2,255.96 311.65,257.27 312.1,252.33 312.55,258.94 313.0,254.36 313.45,259.19 313.9,256.40 314.35,258.07 314.8,257.43 315.25,258.99 315.7,253.17 316.15,257.71 316.6,258.63 317.05,258.40 317.5,252.73 317.95,258.69 318.4,260.02 318.85,260.92 319.3,256.53 319.75,258.35 320.2,257.89 320.65,255.60 321.1,250.76 321.55,254.72 322.0,253.02 322.45,257.56 322.9,253.21 323.35,253.03 323.8,253.91 324.25,253.23 324.7,258.32 325.15,251.25 325.6,255.55 326.05,257.42 326.5,254.63 326.95,254.05 327.4,255.63 327.85,253.74 328.3,253.54 328.75,256.57 329.2,257.51 329.65,256.70 330.1,257.00 330.55,257.53 331.0,252.74 331.45,250.35 331.9,261.27 332.35,256.13 332.8,259.71 333.25,260.36 333.7,257.33 334.15,256.94 334.6,261.61 335.05,257.19 335.5,257.57 335.95,261.48 336.4,256.56 336.85,258.25 337.3,260.35 337.75,260.34 338.2,257.22 338.65,258.75 339.1,251.91 339.55,257.21 340.0,258.87 340.45,253.86 340.9,258.52 341.35,257.05 341.8,257.51 342.25,255.54 342.7,256.50 343.15,249.58 343.6,256.22 344.05,255.00 344.5,253.20 344.95,249.67 345.4,256.94 345.85,257.80 346.3,252.33 346.75,257.33 347.2,257.55 347.65,257.67 348.1,254.47 348.55,255.87 349.0,265.00 349.45,254.99 349.9,254.95 350.35,256.49 350.8,259.91 351.25,255.99 351.7,264.94 352.15,252.84 352.6,259.45 353.05,260.21 353.5,257.14 353.95,252.43 354.4,259.92 354.85,256.17 355.3,253.09 355.75,244.37 356.2,250.16 356.65,250.52 357.1,257.23 357.55,258.74 358.0,258.28 358.45,258.02 358.9,259.37 359.35,259.37 359.8,261.63 360.25,259.80 360.7,258.67 361.15,250.73 361.6,259.68 362.05,252.39 362.5,257.76 362.95,257.75 363.4,255.00 363.85,253.01 364.3,258.26 364.75,258.53 365.2,255.90 365.65,255.66 366.1,256.83 366.55,256.19 367.0,257.06 367.45,258.92 367.9,255.21 368.35,251.44 368.8,253.63 369.25,257.70 369.7,256.23 370.15,257.36 370.6,259.52 371.05,259.52 371.5,259.49 371.95,253.77 372.4,256.58 372.85,261.02 373.3,259.56 373.75,258.51 374.2,261.59 374.65,258.88 375.1,262.52 375.55,257.93 376.0,256.49 376.45,259.99 376.9,257.95 377.35,257.94 377.8,257.71 378.25,255.92 378.7,261.76 379.15,258.23 379.6,256.70 380.05,263.32 380.5,255.37 380.95,257.59 381.4,253.71 381.85,256.23 382.3,254.58 382.75,254.14 383.2,256.25 383.65,253.87 384.1,256.47 384.55,261.45 385.0,257.51 385.45,256.57 385.9,253.42 386.35,257.46 386.8,256.36 387.25,254.80 387.7,254.26 388.15,262.76 388.6,257.64 389.05,260.41 389.5,255.62 389.95,254.09 390.4,256.50 390.85,261.17 391.3,260.43 391.75,255.11 392.2,258.30 392.65,261.55 393.1,257.56 393.55,258.49 394.0,262.75 394.45,258.93 394.9,262.03 395.35,258.78 395.8,259.96 396.25,258.96 396.7,266.45 397.15,258.63 397.6,260.16 398.05,253.86 398.5,258.24 398.95,257.58 399.4,262.06 399.85,261.96 400.3,258.85 400.75,254.90 401.2,260.12 401.65,253.03 402.1,254.69 402.55,259.30 403.0,252.74 403.45,259.54 403.9,255.76 404.35,259.58 404.8,257.00 405.25,254.80 405.7,259.94 406.15,255.40 406.6,260.34 407.05,259.14 407.5,255.68 407.95,257.52 408.4,257.06 408.85,263.01 409.3,254.09 409.75,262.36 410.2,265.06 410.65,260.61 411.1,261.12 411.55,256.04 412.0,259.92 412.45,262.64 412.9,264.10 413.35,258.58 413.8,260.89 414.25,262.05" fill="none" stroke="#231f20" stroke-width="1.0" stroke-linejoin="round" stroke-linecap="round"/>
<polyline points="239.1,275.93 239.35,288.20 239.6,278.10 239.85,280.33 240.1,277.20 240.35,279.54 240.6,275.93 240.85,280.42 241.1,281.79 241.35,279.05 241.6,279.42 241.85,281.39 242.1,281.12 242.35,278.70 242.6,278.74 242.85,281.73 243.1,281.42 243.35,285.02 243.6,276.30 243.85,281.06 244.1,277.16 244.35,279.46 244.6,275.64 244.85,276.66 245.1,279.70 245.35,276.80 245.6,282.88 245.85,277.35 246.1,284.20 246.35,279.64 246.6,277.84 246.85,279.94 247.1,281.42 247.35,282.51 247.6,281.36 247.85,277.87 248.1,278.27 248.35,281.16 248.6,283.62 248.85,278.82 249.1,284.12 249.35,281.83 249.6,282.34 249.85,278.64 250.1,279.91 250.35,279.35 250.6,279.82 250.85,282.19 251.1,279.16 251.35,276.97 251.6,280.59 251.85,278.92 252.1,280.81 252.35,277.93 252.6,278.83 252.85,278.31 253.1,279.63 253.35,276.40 253.6,281.40 253.85,281.34 254.1,281.98 254.35,278.97 254.6,282.06 254.85,282.11 255.1,278.68 255.35,277.59 255.6,279.06 255.85,287.21 256.1,282.88 256.35,283.18 256.6,283.52 256.85,281.52 257.1,275.96 257.35,281.27 257.6,282.34 257.85,278.75 258.1,280.33 258.35,280.20 258.6,282.22 258.85,280.50 259.1,279.41 259.35,285.28 259.6,284.53 259.85,277.79 260.1,278.39 260.35,281.77 260.6,283.05 260.85,280.96 261.1,283.48 261.35,281.35 261.6,276.37 261.85,280.17" fill="none" stroke="#3f5aa8" stroke-width="1.0" stroke-linejoin="round" stroke-linecap="round"/>
<polyline points="270.7,276.52 270.95,279.18 271.2,280.65 271.45,286.09 271.7,278.03 271.95,274.37 272.2,274.29 272.45,279.25 272.7,282.03 272.95,278.18 273.2,285.54 273.45,281.71 273.7,278.90 273.95,279.33 274.2,279.52 274.45,284.23 274.7,285.30 274.95,279.77 275.2,278.11 275.45,281.35 275.7,283.39 275.95,279.55 276.2,277.28 276.45,280.36 276.7,282.79 276.95,275.56 277.2,277.87 277.45,281.10 277.7,280.61 277.95,282.61 278.2,276.83 278.45,282.10 278.7,283.36 278.95,280.64 279.2,274.80 279.45,288.56 279.7,283.83 279.95,278.17 280.2,279.48 280.45,279.94 280.7,280.20 280.95,281.26 281.2,279.30 281.45,279.44 281.7,281.08 281.95,283.49 282.2,282.26 282.45,284.41 282.7,279.22 282.95,280.45 283.2,278.32 283.45,276.95 283.7,280.68 283.95,278.81 284.2,281.19 284.45,278.75 284.7,283.53 284.95,280.19 285.2,281.34 285.45,279.25 285.7,280.05 285.95,283.23 286.2,276.51 286.45,280.13 286.7,282.47 286.95,278.62 287.2,282.13 287.45,283.19 287.7,277.38 287.95,278.97 288.2,282.86 288.45,280.50 288.7,277.40 288.95,279.86 289.2,279.09 289.45,280.48 289.7,278.54 289.95,276.29 290.2,278.88 290.45,280.92 290.7,281.16 290.95,279.33 291.2,280.56 291.45,278.77 291.7,278.84 291.95,278.87 292.2,279.55 292.45,277.78 292.7,277.37 292.95,288.39 293.2,284.66 293.45,280.20 293.7,278.85 293.95,278.56 294.2,283.23 294.45,281.88 294.7,283.20 294.95,277.63 295.2,280.54 295.45,285.34 295.7,280.75 295.95,281.84 296.2,277.99 296.45,281.72 296.7,281.99 296.95,281.49 297.2,277.80 297.45,282.81 297.7,281.62 297.95,282.23 298.2,280.97 298.45,277.64 298.7,279.01 298.95,276.37 299.2,279.13 299.45,280.81 299.7,276.49 299.95,280.91 300.2,276.27 300.45,279.46 300.7,283.20 300.95,277.06 301.2,279.92 301.45,278.57 301.7,278.87 301.95,280.57 302.2,282.71 302.45,277.62 302.7,281.54 302.95,281.37 303.2,284.44 303.45,279.28 303.7,279.11 303.95,287.21 304.2,286.41 304.45,283.62 304.7,281.84 304.95,280.77 305.2,282.15 305.45,277.61 305.7,278.28 305.95,283.76 306.2,279.43 306.45,280.72 306.7,281.41 306.95,283.25 307.2,279.83 307.45,282.06 307.7,286.24 307.95,279.22 308.2,281.01 308.45,280.53 308.7,284.11 308.95,283.14 309.2,282.58 309.45,279.04 309.7,278.97 309.95,281.41 310.2,272.66 310.45,281.88 310.7,284.86 310.95,277.73 311.2,283.33 311.45,282.56 311.7,278.85 311.95,284.35 312.2,281.46 312.45,280.07 312.7,279.12 312.95,278.11 313.2,281.93 313.45,278.08 313.7,285.47 313.95,283.12 314.2,281.95 314.45,281.27 314.7,280.48 314.95,277.78 315.2,279.18 315.45,277.85 315.7,279.43 315.95,285.32 316.2,275.51 316.45,278.56 316.7,281.65 316.95,282.52 317.2,279.59 317.45,280.79 317.7,278.18 317.95,276.36 318.2,279.30 318.45,276.35 318.7,275.88 318.95,279.96 319.2,279.13 319.45,280.66 319.7,281.85 319.95,281.82 320.2,284.34 320.45,281.46 320.7,282.14 320.95,279.25 321.2,278.53 321.45,281.24 321.7,282.61 321.95,280.87 322.2,281.85 322.45,281.45 322.7,276.74 322.95,277.86 323.2,279.94 323.45,278.29 323.7,281.09 323.95,283.05 324.2,282.63 324.45,281.91 324.7,282.66 324.95,278.37 325.2,279.38 325.45,281.46 325.7,279.81 325.95,280.70 326.2,278.71 326.45,275.90 326.7,284.20 326.95,278.15 327.2,281.50 327.45,282.29 327.7,282.36 327.95,275.53 328.2,282.00 328.45,276.48 328.7,280.01 328.95,282.32 329.2,279.60 329.45,276.38 329.7,276.76 329.95,281.63 330.2,279.21 330.45,279.77 330.7,280.52 330.95,279.44 331.2,278.93 331.45,282.06 331.7,277.82 331.95,282.74 332.2,280.08 332.45,276.40 332.7,281.13 332.95,280.84 333.2,278.29 333.45,281.07 333.7,283.98 333.95,281.44 334.2,281.99 334.45,282.82 334.7,284.94 334.95,277.23 335.2,280.19 335.45,282.61 335.7,281.42 335.95,281.73 336.2,282.06 336.45,278.63 336.7,278.59 336.95,283.71 337.2,283.55 337.45,282.64 337.7,284.02 337.95,271.53 338.2,280.83 338.45,280.09 338.7,278.16 338.95,282.65 339.2,284.51 339.45,276.94 339.7,282.72 339.95,278.43 340.2,281.70 340.45,274.03 340.7,277.77 340.95,280.01 341.2,283.62 341.45,282.06 341.7,285.39 341.95,282.02 342.2,283.95 342.45,278.44 342.7,279.53 342.95,280.08 343.2,272.90 343.45,280.32 343.7,278.26 343.95,279.15 344.2,281.97 344.45,283.15 344.7,275.99 344.95,283.38 345.2,279.80 345.45,281.76 345.7,278.96 345.95,275.91 346.2,283.48 346.45,279.76 346.7,277.32 346.95,282.71 347.2,284.19 347.45,281.52 347.7,281.44 347.95,279.31 348.2,284.86 348.45,280.14 348.7,285.32 348.95,280.13 349.2,281.37 349.45,287.40 349.7,279.28 349.95,282.63 350.2,277.23 350.45,279.24 350.7,284.29 350.95,284.65 351.2,281.73 351.45,284.07 351.7,274.37 351.95,278.18 352.2,281.48 352.45,280.17 352.7,282.11 352.95,279.77 353.2,285.01 353.45,281.92 353.7,279.65 353.95,284.34 354.2,280.76 354.45,282.61 354.7,277.42 354.95,278.44 355.2,284.54 355.45,284.17 355.7,278.29 355.95,267.44 356.2,265.60 356.45,269.54 356.7,276.12 356.95,279.73 357.2,278.18 357.45,279.75 357.7,283.09 357.95,282.26 358.2,278.22 358.45,276.11 358.7,280.17 358.95,284.24 359.2,281.96 359.45,282.92 359.7,278.78 359.95,280.03 360.2,283.21 360.45,276.27 360.7,278.94 360.95,281.80 361.2,279.84 361.45,280.86 361.7,276.11 361.95,277.92 362.2,279.31 362.45,278.10 362.7,276.89 362.95,282.32 363.2,282.01 363.45,281.98 363.7,279.30 363.95,283.49 364.2,276.52 364.45,286.59 364.7,283.21 364.95,285.84 365.2,279.05 365.45,283.37 365.7,280.47 365.95,279.63 366.2,276.23 366.45,278.73 366.7,281.42 366.95,281.37 367.2,279.01 367.45,279.54 367.7,276.67 367.95,282.29 368.2,279.71 368.45,279.34 368.7,279.57 368.95,274.84 369.2,279.36 369.45,280.76 369.7,280.30 369.95,279.02 370.2,281.65 370.45,278.82 370.7,277.33 370.95,278.48 371.2,283.05 371.45,282.15 371.7,278.43 371.95,278.58 372.2,279.46 372.45,280.55 372.7,281.87 372.95,280.36 373.2,283.53 373.45,284.30 373.7,281.15 373.95,277.92 374.2,280.16 374.45,278.91 374.7,280.20 374.95,277.57 375.2,280.30 375.45,279.13 375.7,275.48 375.95,281.32 376.2,276.98 376.45,282.43 376.7,275.41 376.95,280.11 377.2,282.41 377.45,280.83 377.7,277.07 377.95,282.14 378.2,280.57 378.45,277.62 378.7,281.64 378.95,280.94 379.2,281.01 379.45,282.61 379.7,281.41 379.95,278.57 380.2,283.31 380.45,281.45 380.7,278.76 380.95,280.80 381.2,280.36 381.45,276.82 381.7,281.38 381.95,279.81 382.2,281.06 382.45,279.14 382.7,283.89 382.95,282.70 383.2,280.70 383.45,277.51 383.7,281.36 383.95,280.85 384.2,278.64 384.45,285.12 384.7,278.76 384.95,279.48 385.2,274.45 385.45,279.02 385.7,282.24 385.95,280.20 386.2,280.55 386.45,281.79 386.7,287.04 386.95,282.48 387.2,281.49 387.45,281.72 387.7,281.26 387.95,282.86 388.2,280.25 388.45,283.53 388.7,283.62 388.95,282.14 389.2,279.23 389.45,278.95 389.7,279.83 389.95,277.97 390.2,277.71 390.45,280.38 390.7,279.30 390.95,284.23 391.2,280.68 391.45,276.49 391.7,279.87 391.95,279.48 392.2,281.05 392.45,278.94 392.7,280.71 392.95,282.78 393.2,281.33 393.45,278.95 393.7,275.25 393.95,280.57 394.2,283.05 394.45,279.18 394.7,278.84 394.95,280.85 395.2,280.89 395.45,284.46 395.7,278.91 395.95,285.06 396.2,282.86 396.45,281.21 396.7,275.57 396.95,279.04 397.2,278.94 397.45,278.77 397.7,279.06 397.95,282.17 398.2,279.57 398.45,283.40 398.7,279.20 398.95,285.28 399.2,282.07 399.45,276.40 399.7,277.99 399.95,278.56 400.2,280.27 400.45,279.41 400.7,281.37 400.95,279.51 401.2,280.10 401.45,280.19 401.7,284.40 401.95,287.41 402.2,281.78 402.45,280.61 402.7,280.37 402.95,283.08 403.2,279.09 403.45,281.07 403.7,279.25 403.95,277.98 404.2,284.52 404.45,276.24 404.7,280.37 404.95,280.97 405.2,274.48 405.45,281.15 405.7,282.10 405.95,281.22 406.2,280.58 406.45,283.75 406.7,283.89 406.95,278.89 407.2,283.15 407.45,283.17 407.7,281.57 407.95,281.93 408.2,280.01 408.45,282.41 408.7,280.42 408.95,284.40 409.2,283.13 409.45,282.78 409.7,280.28 409.95,277.36 410.2,278.98 410.45,284.30 410.7,276.67 410.95,283.25 411.2,281.76 411.45,281.46 411.7,280.61 411.95,277.55 412.2,276.31 412.45,278.58 412.7,277.24 412.95,282.61 413.2,275.92 413.45,283.76 413.7,281.14 413.95,280.29 414.2,282.40" fill="none" stroke="#3f5aa8" stroke-width="1.0" stroke-linejoin="round" stroke-linecap="round"/>
<polyline points="239.1,300.24 239.35,305.44 239.6,307.28 239.85,311.47 240.1,303.50 240.35,298.53 240.6,302.30 240.85,300.81 241.1,299.23 241.35,305.13 241.6,294.18 241.85,305.12 242.1,301.24 242.35,293.91 242.6,302.75 242.85,302.05 243.1,303.99 243.35,301.36 243.6,308.99 243.85,304.41 244.1,297.15 244.35,301.74 244.6,303.15 244.85,301.24 245.1,301.11 245.35,301.93 245.6,300.61 245.85,307.54 246.1,300.57 246.35,304.49 246.6,299.96 246.85,302.47 247.1,305.49 247.35,302.62 247.6,305.52 247.85,299.26 248.1,302.49 248.35,299.76 248.6,305.86 248.85,297.38 249.1,303.33 249.35,298.17 249.6,299.75 249.85,305.81 250.1,301.40 250.35,304.08 250.6,301.13 250.85,297.96 251.1,300.27 251.35,299.09 251.6,306.03 251.85,301.77 252.1,301.29 252.35,299.02 252.6,304.32 252.85,300.64 253.1,301.07 253.35,307.13 253.6,305.62 253.85,301.02 254.1,306.05 254.35,306.20 254.6,299.62 254.85,301.51 255.1,303.13 255.35,302.07 255.6,303.65 255.85,304.06 256.1,303.83 256.35,301.20 256.6,298.30 256.85,303.86 257.1,302.61 257.35,303.08 257.6,306.31 257.85,301.62 258.1,299.71 258.35,305.02 258.6,299.82 258.85,304.17 259.1,298.83 259.35,298.63 259.6,303.59 259.85,308.60 260.1,303.48 260.35,306.71 260.6,306.48 260.85,303.18 261.1,298.18 261.35,302.69 261.6,303.08 261.85,308.14" fill="none" stroke="#ec2227" stroke-width="1.0" stroke-linejoin="round" stroke-linecap="round"/>
<polyline points="270.7,305.04 270.95,301.75 271.2,305.17 271.45,299.69 271.7,298.72 271.95,301.80 272.2,303.59 272.45,301.97 272.7,303.21 272.95,304.47 273.2,303.71 273.45,302.05 273.7,299.82 273.95,301.16 274.2,304.88 274.45,307.99 274.7,305.49 274.95,304.17 275.2,299.68 275.45,303.19 275.7,307.48 275.95,298.92 276.2,299.11 276.45,302.10 276.7,306.60 276.95,303.93 277.2,302.02 277.45,301.77 277.7,304.91 277.95,304.59 278.2,297.73 278.45,307.78 278.7,297.79 278.95,305.58 279.2,298.65 279.45,300.97 279.7,300.80 279.95,302.06 280.2,297.46 280.45,301.01 280.7,302.56 280.95,306.66 281.2,301.13 281.45,301.48 281.7,303.71 281.95,305.63 282.2,302.17 282.45,301.66 282.7,303.35 282.95,297.77 283.2,300.67 283.45,307.00 283.7,305.16 283.95,296.35 284.2,301.24 284.45,300.48 284.7,304.24 284.95,302.83 285.2,303.47 285.45,306.20 285.7,307.14 285.95,303.68 286.2,303.29 286.45,305.43 286.7,302.81 286.95,304.77 287.2,295.59 287.45,305.77 287.7,294.75 287.95,302.33 288.2,301.44 288.45,302.93 288.7,301.65 288.95,300.38 289.2,302.60 289.45,302.83 289.7,301.72 289.95,301.54 290.2,299.19 290.45,296.83 290.7,304.64 290.95,301.56 291.2,302.76 291.45,304.28 291.7,304.66 291.95,305.45 292.2,304.55 292.45,304.28 292.7,297.29 292.95,295.96 293.2,301.76 293.45,297.08 293.7,307.79 293.95,298.15 294.2,305.00 294.45,302.32 294.7,304.99 294.95,302.17 295.2,299.85 295.45,303.85 295.7,300.59 295.95,298.52 296.2,298.69 296.45,300.02 296.7,300.59 296.95,302.20 297.2,302.07 297.45,303.67 297.7,306.07 297.95,303.80 298.2,303.82 298.45,297.48 298.7,301.63 298.95,299.39 299.2,304.57 299.45,303.47 299.7,302.37 299.95,302.73 300.2,300.39 300.45,306.13 300.7,300.44 300.95,300.49 301.2,303.01 301.45,304.57 301.7,301.52 301.95,301.97 302.2,306.03 302.45,299.92 302.7,306.19 302.95,303.69 303.2,298.50 303.45,302.45 303.7,306.43 303.95,298.73 304.2,308.03 304.45,301.27 304.7,303.89 304.95,297.80 305.2,300.14 305.45,300.45 305.7,303.23 305.95,301.54 306.2,306.17 306.45,305.71 306.7,301.61 306.95,300.57 307.2,307.26 307.45,303.56 307.7,302.60 307.95,299.16 308.2,302.64 308.45,302.97 308.7,300.85 308.95,300.73 309.2,303.84 309.45,301.25 309.7,299.99 309.95,300.33 310.2,302.88 310.45,305.83 310.7,304.00 310.95,299.74 311.2,302.71 311.45,299.76 311.7,301.85 311.95,300.65 312.2,306.82 312.45,305.37 312.7,307.71 312.95,304.01 313.2,300.51 313.45,305.86 313.7,303.25 313.95,304.12 314.2,299.82 314.45,302.88 314.7,297.07 314.95,300.44 315.2,298.65 315.45,302.82 315.7,297.90 315.95,306.72 316.2,305.89 316.45,301.27 316.7,302.62 316.95,299.66 317.2,302.33 317.45,300.90 317.7,306.33 317.95,300.24 318.2,300.80 318.45,300.09 318.7,302.68 318.95,302.02 319.2,303.80 319.45,304.86 319.7,301.28 319.95,298.90 320.2,303.30 320.45,305.64 320.7,309.15 320.95,306.53 321.2,302.42 321.45,300.75 321.7,300.24 321.95,304.14 322.2,301.64 322.45,298.46 322.7,300.41 322.95,299.59 323.2,300.84 323.45,304.34 323.7,301.15 323.95,298.01 324.2,301.46 324.45,306.42 324.7,305.02 324.95,300.83 325.2,299.38 325.45,299.02 325.7,305.40 325.95,299.51 326.2,303.49 326.45,301.06 326.7,303.15 326.95,298.66 327.2,305.54 327.45,302.26 327.7,301.12 327.95,304.08 328.2,302.65 328.45,298.82 328.7,302.07 328.95,299.33 329.2,303.67 329.45,305.06 329.7,306.89 329.95,300.65 330.2,303.28 330.45,300.36 330.7,303.08 330.95,302.88 331.2,300.98 331.45,301.07 331.7,304.09 331.95,300.16 332.2,303.40 332.45,302.84 332.7,293.70 332.95,297.92 333.2,302.15 333.45,303.32 333.7,306.10 333.95,305.37 334.2,302.12 334.45,303.10 334.7,304.45 334.95,302.67 335.2,303.56 335.45,301.44 335.7,305.59 335.95,302.95 336.2,308.43 336.45,303.34 336.7,302.93 336.95,306.91 337.2,305.13 337.45,302.72 337.7,305.85 337.95,301.66 338.2,300.11 338.45,306.92 338.7,300.35 338.95,302.52 339.2,305.24 339.45,298.98 339.7,303.59 339.95,301.76 340.2,304.28 340.45,305.21 340.7,308.14 340.95,304.94 341.2,298.09 341.45,305.51 341.7,305.22 341.95,305.57 342.2,301.71 342.45,305.16 342.7,304.49 342.95,304.46 343.2,304.56 343.45,303.25 343.7,306.42 343.95,307.98 344.2,303.10 344.45,301.50 344.7,301.85 344.95,304.19 345.2,307.98 345.45,300.18 345.7,304.70 345.95,305.94 346.2,302.33 346.45,298.07 346.7,306.57 346.95,302.81 347.2,302.89 347.45,304.12 347.7,299.26 347.95,304.80 348.2,308.32 348.45,304.20 348.7,303.18 348.95,299.55 349.2,301.37 349.45,300.97 349.7,298.86 349.95,305.60 350.2,301.25 350.45,299.70 350.7,302.65 350.95,304.02 351.2,304.28 351.45,301.58 351.7,307.07 351.95,301.23 352.2,306.25 352.45,302.08 352.7,303.57 352.95,300.90 353.2,307.26 353.45,307.39 353.7,301.55 353.95,303.25 354.2,305.07 354.45,304.01 354.7,299.50 354.95,304.58 355.2,304.13 355.45,303.03 355.7,303.30 355.95,303.43 356.2,305.50 356.45,303.24 356.7,301.83 356.95,302.69 357.2,299.17 357.45,304.82 357.7,301.48 357.95,301.57 358.2,302.87 358.45,305.41 358.7,304.34 358.95,307.63 359.2,304.54 359.45,306.16 359.7,298.85 359.95,302.71 360.2,301.50 360.45,306.82 360.7,304.28 360.95,306.55 361.2,304.03 361.45,299.08 361.7,300.48 361.95,301.70 362.2,305.09 362.45,298.48 362.7,302.12 362.95,307.06 363.2,301.95 363.45,300.20 363.7,301.17 363.95,304.66 364.2,307.04 364.45,303.25 364.7,304.45 364.95,300.23 365.2,300.47 365.45,302.16 365.7,302.54 365.95,305.33 366.2,299.61 366.45,304.55 366.7,304.93 366.95,300.33 367.2,303.99 367.45,301.57 367.7,305.26 367.95,305.82 368.2,300.65 368.45,303.71 368.7,302.95 368.95,306.85 369.2,304.84 369.45,308.42 369.7,298.86 369.95,306.61 370.2,303.83 370.45,301.45 370.7,301.78 370.95,305.03 371.2,302.34 371.45,304.00 371.7,305.63 371.95,304.09 372.2,303.81 372.45,300.72 372.7,302.97 372.95,306.50 373.2,300.51 373.45,306.51 373.7,304.41 373.95,302.81 374.2,301.93 374.45,305.89 374.7,299.96 374.95,305.00 375.2,304.60 375.45,305.65 375.7,305.93 375.95,301.90 376.2,301.04 376.45,304.46 376.7,301.25 376.95,298.98 377.2,304.44 377.45,304.43 377.7,306.57 377.95,304.35 378.2,302.22 378.45,304.10 378.7,304.92 378.95,302.66 379.2,305.29 379.45,303.36 379.7,305.25 379.95,308.50 380.2,298.74 380.45,304.85 380.7,302.67 380.95,303.75 381.2,303.88 381.45,301.98 381.7,303.28 381.95,301.45 382.2,304.95 382.45,304.34 382.7,300.60 382.95,303.72 383.2,305.04 383.45,301.34 383.7,304.61 383.95,303.51 384.2,305.87 384.45,302.22 384.7,305.36 384.95,303.21 385.2,302.82 385.45,301.09 385.7,304.01 385.95,301.15 386.2,302.06 386.45,301.60 386.7,308.17 386.95,302.24 387.2,298.84 387.45,302.74 387.7,302.80 387.95,301.34 388.2,303.30 388.45,302.13 388.7,301.99 388.95,302.63 389.2,300.94 389.45,303.52 389.7,304.53 389.95,300.63 390.2,302.54 390.45,302.29 390.7,305.35 390.95,305.69 391.2,302.62 391.45,307.56 391.7,303.12 391.95,302.87 392.2,303.73 392.45,305.79 392.7,304.14 392.95,306.36 393.2,303.48 393.45,307.30 393.7,300.53 393.95,306.65 394.2,306.17 394.45,302.70 394.7,302.58 394.95,299.67 395.2,303.33 395.45,300.62 395.7,300.62 395.95,301.72 396.2,303.24 396.45,301.44 396.7,302.95 396.95,302.18 397.2,303.28 397.45,303.51 397.7,302.88 397.95,299.99 398.2,305.58 398.45,303.64 398.7,304.77 398.95,303.93 399.2,307.09 399.45,300.92 399.7,301.32 399.95,303.62 400.2,299.95 400.45,302.51 400.7,303.96 400.95,303.52 401.2,299.83 401.45,303.09 401.7,302.76 401.95,304.26 402.2,301.65 402.45,305.26 402.7,301.94 402.95,304.95 403.2,303.02 403.45,304.44 403.7,305.30 403.95,299.94 404.2,303.89 404.45,305.66 404.7,300.95 404.95,308.03 405.2,306.64 405.45,307.60 405.7,299.52 405.95,304.14 406.2,303.84 406.45,299.60 406.7,304.99 406.95,303.14 407.2,304.67 407.45,307.20 407.7,305.81 407.95,303.60 408.2,305.17 408.45,302.47 408.7,301.68 408.95,303.97 409.2,305.85 409.45,306.00 409.7,305.95 409.95,298.66 410.2,303.53 410.45,304.18 410.7,303.38 410.95,304.43 411.2,301.26 411.45,304.24 411.7,303.56 411.95,304.03 412.2,302.22 412.45,301.15 412.7,306.81 412.95,303.12 413.2,303.36 413.45,303.19 413.7,304.89 413.95,305.96 414.2,301.46" fill="none" stroke="#ec2227" stroke-width="1.0" stroke-linejoin="round" stroke-linecap="round"/>
<line x1="238.8" y1="212.5" x2="240.8" y2="212.5" stroke="#8a8a8a" stroke-width="1"/>
<line x1="270.4" y1="212.5" x2="272.4" y2="212.5" stroke="#8a8a8a" stroke-width="1"/>
<line x1="238.8" y1="261.0" x2="240.8" y2="261.0" stroke="#8a8a8a" stroke-width="1"/>
<line x1="270.4" y1="261.0" x2="272.4" y2="261.0" stroke="#8a8a8a" stroke-width="1"/>
<line x1="318.5" y1="310.4" x2="318.5" y2="308.4" stroke="#8a8a8a" stroke-width="1"/>
<line x1="366" y1="310.4" x2="366" y2="308.4" stroke="#8a8a8a" stroke-width="1"/>
<text x="233" y="215.4" font-size="11" text-anchor="end" fill="#333">4.0</text>
<text x="233" y="264" font-size="11" text-anchor="end" fill="#333">2.0</text>
<text x="233" y="312.8" font-size="11" text-anchor="end" fill="#333">0</text>
<text x="239" y="323.1" font-size="11" text-anchor="middle" fill="#333">3</text>
<text x="261.5" y="323.1" font-size="11" text-anchor="middle" fill="#333">4</text>
<text x="271.4" y="323.1" font-size="11" text-anchor="middle" fill="#333">6</text>
<text x="318.5" y="323.1" font-size="11" text-anchor="middle" fill="#333">8</text>
<text x="366.4" y="323.1" font-size="11" text-anchor="middle" fill="#333">10</text>
<text x="413.6" y="323.1" font-size="11" text-anchor="middle" fill="#333">12</text>
<text x="329.1" y="340" font-size="12.5" text-anchor="middle" fill="#333">Frequency (THz)</text>
<text x="409" y="223.4" font-size="11.2" text-anchor="end" fill="#333">4 V</text>
<text x="409" y="248.4" font-size="11.2" text-anchor="end" fill="#333">3 V</text>
<text x="409" y="273.7" font-size="11.2" text-anchor="end" fill="#333">2 V</text>
<text x="409" y="297.7" font-size="11.2" text-anchor="end" fill="#333"><tspan font-style="italic">V</tspan><tspan font-size="7.6" dy="2.5">G</tspan><tspan dy="-2.5"> = 1 V</tspan></text>
<text x="202.3" y="257.5" font-size="13.3" text-anchor="middle" fill="#333" transform="rotate(-90 202.3 257.5)" dy="4.6">Intensity (a.u.)</text>
<circle cx="425.9" cy="235.6" r="4.4" fill="#6dbf62"/>
<rect x="421.4" y="255.4" width="8.70" height="8.50" fill="#231f20"/>
<polygon points="426.45,274.9 421.0,285.9 431.9,285.9" fill="#3f5aa8"/>
<path d="M424.30,299.5H428.20V302.75H431.4V306.65H428.20V309.9H424.30V306.65H421.1V302.75H424.30Z" fill="#ec2227"/>
<rect x="238.3" y="388.5" width="24.19999999999999" height="105.5" fill="none" stroke="#8a8a8a" stroke-width="1"/>
<rect x="270.8" y="388.5" width="144.8" height="105.5" fill="none" stroke="#8a8a8a" stroke-width="1"/>
<polyline points="238.6,408.50 238.9,407.52 239.2,409.89 239.5,406.26 239.8,405.92 240.1,404.43 240.4,400.94 240.7,402.44 241.0,404.09 241.3,405.20 241.6,406.45 241.9,406.85 242.2,408.93 242.5,408.98 242.8,406.60 243.1,407.18 243.4,406.30 243.7,407.16 244.0,409.03 244.3,407.25 244.6,407.83 244.9,408.21 245.2,409.09 245.5,408.47 245.8,408.63 246.1,407.83 246.4,408.47 246.7,407.33 247.0,409.24 247.3,408.26 247.6,408.26 247.9,409.37 248.2,409.63 248.5,407.89 248.8,408.30 249.1,408.85 249.4,408.42 249.7,409.28 250.0,408.56 250.3,409.24 250.6,408.61 250.9,407.97 251.2,409.04 251.5,408.09 251.8,409.60 252.1,409.01 252.4,409.87 252.7,408.86 253.0,408.72 253.3,408.94 253.6,409.00 253.9,407.72 254.2,407.65 254.5,409.76 254.8,407.85 255.1,410.17 255.4,409.38 255.7,408.93 256.0,408.71 256.3,409.63 256.6,409.37 256.9,408.74 257.2,409.35 257.5,409.31 257.8,408.26 258.1,408.02 258.4,408.70 258.7,408.52 259.0,408.44 259.3,408.67 259.6,408.61 259.9,408.92 260.2,407.46 260.5,407.93 260.8,407.86 261.1,407.48 261.4,407.10 261.7,406.28 262.0,407.52" fill="none" stroke="#2fb04a" stroke-width="1.2" stroke-linejoin="round" stroke-linecap="round"/>
<polyline points="271.1,410.77 271.4,410.58 271.7,410.76 272.0,410.31 272.3,410.09 272.6,410.57 272.9,410.37 273.2,410.76 273.5,409.60 273.8,410.69 274.1,410.57 274.4,410.46 274.7,410.01 275.0,410.39 275.3,410.46 275.6,410.29 275.9,409.53 276.2,410.64 276.5,410.10 276.8,410.42 277.1,409.78 277.4,409.90 277.7,409.17 278.0,409.58 278.3,409.81 278.6,409.55 278.9,409.55 279.2,409.64 279.5,409.32 279.8,409.35 280.1,409.95 280.4,409.86 280.7,410.27 281.0,410.31 281.3,410.20 281.6,410.18 281.9,410.20 282.2,410.48 282.5,410.76 282.8,410.65 283.1,410.59 283.4,409.94 283.7,410.13 284.0,410.17 284.3,410.88 284.6,410.75 284.9,410.86 285.2,409.69 285.5,410.15 285.8,410.79 286.1,410.72 286.4,410.70 286.7,409.59 287.0,410.33 287.3,410.32 287.6,409.87 287.9,410.63 288.2,410.65 288.5,410.17 288.8,410.50 289.1,409.75 289.4,409.98 289.7,410.03 290.0,409.25 290.3,408.68 290.6,408.97 290.9,407.95 291.2,409.19 291.5,408.72 291.8,409.60 292.1,409.59 292.4,409.57 292.7,409.84 293.0,409.52 293.3,410.45 293.6,410.38 293.9,410.60 294.2,410.80 294.5,409.91 294.8,410.45 295.1,410.50 295.4,410.39 295.7,410.09 296.0,409.48 296.3,410.35 296.6,410.78 296.9,410.66 297.2,410.62 297.5,410.25 297.8,410.44 298.1,410.37 298.4,410.16 298.7,409.38 299.0,409.82 299.3,409.10 299.6,409.15 299.9,408.59 300.2,409.38 300.5,409.46 300.8,408.90 301.1,409.54 301.4,409.60 301.7,409.96 302.0,410.04 302.3,410.20 302.6,410.73 302.9,410.79 303.2,410.01 303.5,410.70 303.8,410.57 304.1,410.42 304.4,410.14 304.7,410.34 305.0,410.79 305.3,410.47 305.6,410.27 305.9,409.98 306.2,409.66 306.5,410.86 306.8,410.82 307.1,410.46 307.4,410.85 307.7,409.96 308.0,410.51 308.3,410.74 308.6,410.59 308.9,410.41 309.2,410.67 309.5,410.63 309.8,410.31 310.1,410.80 310.4,409.96 310.7,410.69 311.0,410.62 311.3,410.27 311.6,410.54 311.9,410.39 312.2,410.46 312.5,410.34 312.8,410.67 313.1,410.60 313.4,410.62 313.7,410.75 314.0,410.64 314.3,410.65 314.6,410.21 314.9,410.80 315.2,410.87 315.5,410.68 315.8,409.46 316.1,410.02 316.4,410.88 316.7,410.79 317.0,410.19 317.3,410.54 317.6,410.88 317.9,409.17 318.2,410.83 318.5,410.43 318.8,410.51 319.1,410.44 319.4,410.37 319.7,410.70 320.0,410.42 320.3,410.51 320.6,410.76 320.9,410.43 321.2,410.69 321.5,410.68 321.8,410.27 322.1,410.67 322.4,410.70 322.7,410.83 323.0,410.27 323.3,410.38 323.6,410.46 323.9,410.03 324.2,410.63 324.5,410.86 324.8,410.89 325.1,410.34 325.4,410.65 325.7,410.74 326.0,410.38 326.3,410.69 326.6,410.77 326.9,410.70 327.2,410.77 327.5,410.26 327.8,410.63 328.1,410.38 328.4,410.43 328.7,409.58 329.0,410.50 329.3,410.21 329.6,410.45 329.9,410.80 330.2,410.78 330.5,410.31 330.8,410.69 331.1,409.94 331.4,410.34 331.7,410.20 332.0,410.79 332.3,410.83 332.6,410.30 332.9,410.74 333.2,410.35 333.5,410.50 333.8,410.86 334.1,410.42 334.4,410.81 334.7,410.61 335.0,410.17 335.3,410.66 335.6,410.69 335.9,410.84 336.2,410.36 336.5,410.86 336.8,410.47 337.1,410.65 337.4,410.75 337.7,410.49 338.0,410.89 338.3,410.65 338.6,410.40 338.9,410.75 339.2,409.96 339.5,410.28 339.8,410.73 340.1,410.17 340.4,410.41 340.7,410.50 341.0,410.29 341.3,410.50 341.6,410.85 341.9,410.05 342.2,410.71 342.5,410.75 342.8,410.45 343.1,410.74 343.4,410.58 343.7,410.50 344.0,410.86 344.3,410.61 344.6,410.44 344.9,409.94 345.2,410.84 345.5,410.77 345.8,410.60 346.1,410.61 346.4,410.68 346.7,410.00 347.0,410.36 347.3,410.67 347.6,410.84 347.9,410.64 348.2,410.79 348.5,410.86 348.8,410.35 349.1,409.96 349.4,410.19 349.7,410.05 350.0,410.76 350.3,410.81 350.6,410.27 350.9,410.59 351.2,410.31 351.5,409.85 351.8,410.56 352.1,410.75 352.4,410.16 352.7,410.49 353.0,410.88 353.3,410.88 353.6,410.86 353.9,410.22 354.2,410.74 354.5,410.48 354.8,410.51 355.1,410.28 355.4,410.40 355.7,410.24 356.0,410.28 356.3,410.85 356.6,409.39 356.9,410.61 357.2,410.80 357.5,410.81 357.8,410.14 358.1,409.50 358.4,410.40 358.7,410.60 359.0,410.70 359.3,410.80 359.6,410.81 359.9,410.01 360.2,410.70 360.5,409.93 360.8,407.16 361.1,397.36 361.4,389.66 361.7,397.29 362.0,406.48 362.3,410.27 362.6,410.59 362.9,410.49 363.2,410.33 363.5,410.41 363.8,409.72 364.1,410.71 364.4,410.70 364.7,409.68 365.0,410.70 365.3,410.65 365.6,410.82 365.9,410.75 366.2,410.50 366.5,410.32 366.8,410.79 367.1,410.61 367.4,410.51 367.7,410.49 368.0,410.87 368.3,410.45 368.6,410.45 368.9,410.35 369.2,410.11 369.5,410.52 369.8,410.50 370.1,410.07 370.4,410.31 370.7,410.16 371.0,410.59 371.3,410.17 371.6,410.55 371.9,410.84 372.2,410.36 372.5,410.73 372.8,410.05 373.1,410.25 373.4,410.32 373.7,410.60 374.0,410.77 374.3,410.60 374.6,410.52 374.9,410.82 375.2,409.74 375.5,410.39 375.8,410.36 376.1,410.58 376.4,410.29 376.7,410.26 377.0,410.40 377.3,410.44 377.6,410.89 377.9,409.83 378.2,410.24 378.5,410.58 378.8,410.00 379.1,410.76 379.4,410.57 379.7,410.60 380.0,410.37 380.3,410.67 380.6,410.87 380.9,410.48 381.2,410.75 381.5,410.70 381.8,410.37 382.1,409.98 382.4,410.56 382.7,410.23 383.0,410.82 383.3,410.80 383.6,410.47 383.9,410.34 384.2,410.73 384.5,410.79 384.8,410.63 385.1,410.60 385.4,410.70 385.7,410.25 386.0,410.77 386.3,410.85 386.6,409.75 386.9,409.72 387.2,410.89 387.5,410.22 387.8,410.34 388.1,410.77 388.4,410.72 388.7,409.96 389.0,410.46 389.3,410.47 389.6,410.60 389.9,410.74 390.2,410.05 390.5,410.62 390.8,410.76 391.1,409.75 391.4,410.82 391.7,410.30 392.0,410.29 392.3,410.47 392.6,410.49 392.9,410.32 393.2,410.81 393.5,410.25 393.8,410.18 394.1,410.32 394.4,410.08 394.7,410.32 395.0,410.12 395.3,410.48 395.6,410.55 395.9,410.71 396.2,410.74 396.5,410.88 396.8,410.79 397.1,410.88 397.4,410.80 397.7,410.25 398.0,410.00 398.3,410.87 398.6,410.69 398.9,409.64 399.2,410.87 399.5,410.09 399.8,410.85 400.1,410.54 400.4,410.67 400.7,410.57 401.0,410.79 401.3,409.62 401.6,409.58 401.9,410.33 402.2,410.25 402.5,410.83 402.8,410.76 403.1,410.79 403.4,410.53 403.7,410.45 404.0,410.61 404.3,409.61 404.6,410.72 404.9,410.30 405.2,410.52 405.5,409.99 405.8,409.98 406.1,410.60 406.4,410.72 406.7,409.33 407.0,410.50 407.3,410.82 407.6,409.96 407.9,410.57 408.2,410.76 408.5,410.58 408.8,410.89 409.1,410.84 409.4,410.14 409.7,410.40 410.0,410.50 410.3,410.57 410.6,410.01 410.9,410.31 411.2,410.47 411.5,410.85 411.8,410.84 412.1,409.97 412.4,410.82 412.7,410.75 413.0,410.44 413.3,410.21 413.6,410.70 413.9,410.28 414.2,410.60 414.5,410.64 414.8,410.49 415.1,410.85" fill="none" stroke="#2fb04a" stroke-width="1.2" stroke-linejoin="round" stroke-linecap="round"/>
<polyline points="238.6,424.20 238.9,422.33 239.2,422.53 239.5,422.42 239.8,421.22 240.1,426.94 240.4,426.65 240.7,427.60 241.0,429.73 241.3,430.17 241.6,428.88 241.9,428.06 242.2,427.03 242.5,428.42 242.8,427.65 243.1,429.90 243.4,430.36 243.7,431.29 244.0,430.67 244.3,429.80 244.6,429.19 244.9,430.84 245.2,428.50 245.5,429.51 245.8,430.11 246.1,430.24 246.4,427.18 246.7,429.21 247.0,430.39 247.3,430.45 247.6,427.38 247.9,430.04 248.2,428.09 248.5,427.83 248.8,431.96 249.1,427.91 249.4,429.63 249.7,430.59 250.0,430.00 250.3,428.78 250.6,428.99 250.9,428.93 251.2,430.20 251.5,427.99 251.8,427.75 252.1,427.38 252.4,428.30 252.7,427.32 253.0,427.10 253.3,428.63 253.6,428.43 253.9,428.76 254.2,428.79 254.5,428.45 254.8,431.28 255.1,429.76 255.4,428.86 255.7,431.72 256.0,430.99 256.3,427.66 256.6,430.57 256.9,429.91 257.2,428.99 257.5,429.92 257.8,430.35 258.1,429.97 258.4,429.87 258.7,430.00 259.0,429.03 259.3,427.03 259.6,427.52 259.9,425.00 260.2,425.19 260.5,424.86 260.8,424.83 261.1,424.90 261.4,423.09 261.7,423.12 262.0,425.81" fill="none" stroke="#231f20" stroke-width="1.2" stroke-linejoin="round" stroke-linecap="round"/>
<polyline points="271.1,430.70 271.4,431.36 271.7,431.59 272.0,431.08 272.3,431.09 272.6,431.55 272.9,431.50 273.2,431.51 273.5,431.28 273.8,431.46 274.1,431.49 274.4,431.49 274.7,431.53 275.0,431.51 275.3,430.51 275.6,431.60 275.9,430.95 276.2,430.50 276.5,430.81 276.8,431.01 277.1,431.16 277.4,430.96 277.7,431.53 278.0,431.38 278.3,430.99 278.6,431.26 278.9,430.98 279.2,431.40 279.5,431.46 279.8,430.94 280.1,431.45 280.4,430.82 280.7,431.16 281.0,431.52 281.3,431.22 281.6,431.05 281.9,430.49 282.2,431.59 282.5,431.46 282.8,431.47 283.1,431.19 283.4,431.34 283.7,431.20 284.0,431.36 284.3,431.20 284.6,431.05 284.9,431.00 285.2,430.83 285.5,431.45 285.8,431.35 286.1,431.26 286.4,431.38 286.7,431.15 287.0,430.59 287.3,431.41 287.6,431.11 287.9,430.85 288.2,431.39 288.5,431.59 288.8,431.59 289.1,431.39 289.4,431.22 289.7,431.38 290.0,430.99 290.3,430.56 290.6,431.42 290.9,431.47 291.2,431.20 291.5,430.76 291.8,431.10 292.1,431.55 292.4,430.93 292.7,431.05 293.0,431.41 293.3,431.51 293.6,431.34 293.9,431.23 294.2,431.01 294.5,431.32 294.8,430.88 295.1,430.78 295.4,431.10 295.7,431.13 296.0,431.51 296.3,431.55 296.6,430.95 296.9,430.80 297.2,431.46 297.5,430.76 297.8,430.95 298.1,431.37 298.4,430.91 298.7,431.41 299.0,430.84 299.3,431.55 299.6,431.21 299.9,430.77 300.2,431.25 300.5,431.23 300.8,431.16 301.1,431.47 301.4,431.28 301.7,431.54 302.0,431.02 302.3,431.14 302.6,431.24 302.9,430.74 303.2,431.31 303.5,431.07 303.8,431.03 304.1,431.29 304.4,431.49 304.7,431.44 305.0,431.02 305.3,431.26 305.6,430.63 305.9,431.58 306.2,431.58 306.5,431.46 306.8,431.15 307.1,431.58 307.4,430.70 307.7,431.45 308.0,430.87 308.3,431.28 308.6,431.50 308.9,431.17 309.2,431.52 309.5,431.15 309.8,430.93 310.1,431.16 310.4,431.32 310.7,430.99 311.0,431.55 311.3,431.16 311.6,431.53 311.9,430.88 312.2,431.52 312.5,430.97 312.8,431.07 313.1,431.17 313.4,431.06 313.7,431.50 314.0,430.94 314.3,431.36 314.6,431.50 314.9,431.43 315.2,430.58 315.5,431.12 315.8,431.00 316.1,430.50 316.4,431.02 316.7,431.01 317.0,431.54 317.3,431.37 317.6,431.47 317.9,431.46 318.2,431.34 318.5,431.59 318.8,431.18 319.1,431.22 319.4,431.32 319.7,430.69 320.0,430.59 320.3,431.05 320.6,430.98 320.9,431.05 321.2,431.18 321.5,430.81 321.8,430.76 322.1,431.40 322.4,431.48 322.7,431.25 323.0,431.16 323.3,431.58 323.6,430.88 323.9,431.48 324.2,431.58 324.5,431.46 324.8,430.83 325.1,431.27 325.4,431.55 325.7,431.42 326.0,431.15 326.3,430.48 326.6,431.54 326.9,431.36 327.2,430.85 327.5,430.91 327.8,431.47 328.1,431.06 328.4,430.35 328.7,431.23 329.0,431.28 329.3,431.42 329.6,430.45 329.9,431.52 330.2,431.37 330.5,431.56 330.8,431.14 331.1,431.31 331.4,430.86 331.7,430.64 332.0,430.71 332.3,430.63 332.6,431.41 332.9,431.17 333.2,430.49 333.5,431.40 333.8,430.94 334.1,431.31 334.4,431.58 334.7,431.48 335.0,431.45 335.3,431.58 335.6,431.49 335.9,431.12 336.2,431.51 336.5,431.50 336.8,431.33 337.1,431.06 337.4,431.16 337.7,431.47 338.0,430.93 338.3,431.26 338.6,431.54 338.9,431.43 339.2,430.49 339.5,431.33 339.8,431.60 340.1,431.21 340.4,431.28 340.7,431.54 341.0,431.36 341.3,431.54 341.6,430.95 341.9,431.20 342.2,431.41 342.5,431.29 342.8,430.41 343.1,431.17 343.4,431.11 343.7,431.51 344.0,431.27 344.3,431.25 344.6,431.29 344.9,431.45 345.2,431.29 345.5,431.23 345.8,431.49 346.1,431.27 346.4,431.58 346.7,431.44 347.0,431.39 347.3,431.50 347.6,431.24 347.9,431.13 348.2,431.59 348.5,430.81 348.8,430.75 349.1,431.37 349.4,431.56 349.7,431.57 350.0,431.32 350.3,431.22 350.6,431.52 350.9,431.00 351.2,431.20 351.5,431.46 351.8,430.43 352.1,431.08 352.4,431.23 352.7,431.49 353.0,431.52 353.3,431.21 353.6,431.06 353.9,431.58 354.2,430.96 354.5,431.55 354.8,430.29 355.1,431.58 355.4,431.08 355.7,430.92 356.0,430.83 356.3,431.59 356.6,431.04 356.9,430.64 357.2,431.19 357.5,431.33 357.8,430.74 358.1,431.37 358.4,430.38 358.7,431.46 359.0,431.51 359.3,431.47 359.6,431.45 359.9,431.37 360.2,431.18 360.5,431.11 360.8,430.48 361.1,426.51 361.4,419.62 361.7,417.72 362.0,424.82 362.3,429.80 362.6,431.18 362.9,430.94 363.2,430.74 363.5,431.43 363.8,430.77 364.1,431.26 364.4,431.17 364.7,431.54 365.0,430.63 365.3,431.26 365.6,430.94 365.9,431.00 366.2,431.57 366.5,431.54 366.8,431.35 367.1,431.27 367.4,431.42 367.7,431.56 368.0,431.34 368.3,431.37 368.6,430.79 368.9,431.31 369.2,431.45 369.5,431.50 369.8,431.13 370.1,431.50 370.4,431.14 370.7,431.15 371.0,431.35 371.3,431.09 371.6,431.16 371.9,431.48 372.2,431.51 372.5,431.20 372.8,430.72 373.1,431.43 373.4,431.11 373.7,430.86 374.0,431.44 374.3,431.50 374.6,431.46 374.9,431.12 375.2,431.57 375.5,431.52 375.8,431.15 376.1,431.24 376.4,431.49 376.7,431.36 377.0,431.09 377.3,431.31 377.6,431.42 377.9,431.45 378.2,430.58 378.5,431.51 378.8,431.43 379.1,430.52 379.4,431.51 379.7,431.51 380.0,431.55 380.3,431.00 380.6,431.23 380.9,430.93 381.2,431.42 381.5,431.18 381.8,431.57 382.1,431.16 382.4,431.58 382.7,431.01 383.0,431.41 383.3,431.07 383.6,430.87 383.9,431.43 384.2,431.09 384.5,431.59 384.8,431.52 385.1,431.01 385.4,431.35 385.7,431.44 386.0,430.82 386.3,431.48 386.6,431.42 386.9,431.46 387.2,430.65 387.5,430.68 387.8,431.56 388.1,431.42 388.4,431.16 388.7,431.22 389.0,431.55 389.3,431.29 389.6,431.08 389.9,431.59 390.2,431.44 390.5,431.58 390.8,431.14 391.1,431.05 391.4,430.71 391.7,430.75 392.0,431.33 392.3,431.22 392.6,431.25 392.9,431.56 393.2,431.18 393.5,431.26 393.8,431.56 394.1,431.40 394.4,431.47 394.7,431.31 395.0,431.54 395.3,431.45 395.6,430.91 395.9,431.14 396.2,431.26 396.5,430.96 396.8,431.51 397.1,431.33 397.4,431.22 397.7,431.01 398.0,431.39 398.3,431.46 398.6,431.54 398.9,431.59 399.2,431.50 399.5,431.54 399.8,431.58 400.1,431.10 400.4,431.12 400.7,430.81 401.0,430.78 401.3,431.29 401.6,431.48 401.9,431.57 402.2,431.15 402.5,431.31 402.8,430.63 403.1,431.43 403.4,431.28 403.7,430.61 404.0,431.45 404.3,431.11 404.6,431.14 404.9,431.18 405.2,431.05 405.5,431.56 405.8,431.37 406.1,430.98 406.4,431.42 406.7,431.36 407.0,430.99 407.3,430.80 407.6,431.35 407.9,431.20 408.2,431.18 408.5,431.48 408.8,430.97 409.1,431.11 409.4,431.55 409.7,430.19 410.0,430.95 410.3,431.20 410.6,431.31 410.9,430.56 411.2,431.60 411.5,431.51 411.8,431.46 412.1,431.41 412.4,431.30 412.7,431.11 413.0,431.25 413.3,431.51 413.6,430.84 413.9,430.96 414.2,431.23 414.5,430.56 414.8,430.69 415.1,431.23" fill="none" stroke="#231f20" stroke-width="1.2" stroke-linejoin="round" stroke-linecap="round"/>
<polyline points="238.6,447.18 238.9,447.54 239.2,447.82 239.5,450.28 239.8,447.21 240.1,449.95 240.4,446.50 240.7,446.70 241.0,446.26 241.3,446.04 241.6,446.35 241.9,446.97 242.2,446.42 242.5,444.14 242.8,446.20 243.1,445.64 243.4,446.10 243.7,445.89 244.0,445.77 244.3,445.35 244.6,446.21 244.9,446.57 245.2,447.16 245.5,446.67 245.8,448.51 246.1,447.19 246.4,445.97 246.7,448.39 247.0,447.69 247.3,444.60 247.6,448.83 247.9,449.55 248.2,448.25 248.5,445.80 248.8,445.56 249.1,449.14 249.4,447.17 249.7,447.79 250.0,448.45 250.3,449.94 250.6,446.67 250.9,448.75 251.2,447.47 251.5,447.71 251.8,445.74 252.1,446.51 252.4,449.07 252.7,448.09 253.0,446.66 253.3,449.27 253.6,448.23 253.9,447.55 254.2,449.58 254.5,449.16 254.8,449.67 255.1,447.48 255.4,448.42 255.7,446.78 256.0,447.67 256.3,447.17 256.6,447.89 256.9,446.97 257.2,447.91 257.5,448.88 257.8,446.50 258.1,446.72 258.4,445.31 258.7,447.96 259.0,448.44 259.3,449.39 259.6,452.05 259.9,449.24 260.2,447.26 260.5,448.77 260.8,450.65 261.1,447.13 261.4,448.45 261.7,448.20 262.0,448.27" fill="none" stroke="#3f5aa8" stroke-width="1.2" stroke-linejoin="round" stroke-linecap="round"/>
<polyline points="271.1,449.86 271.4,450.28 271.7,449.70 272.0,450.45 272.3,450.03 272.6,450.32 272.9,450.35 273.2,450.50 273.5,450.73 273.8,450.83 274.1,451.07 274.4,450.25 274.7,450.57 275.0,451.01 275.3,450.90 275.6,451.55 275.9,450.74 276.2,451.38 276.5,451.68 276.8,451.72 277.1,450.54 277.4,451.45 277.7,450.97 278.0,451.20 278.3,451.37 278.6,451.66 278.9,450.78 279.2,450.74 279.5,450.99 279.8,451.04 280.1,450.60 280.4,449.85 280.7,449.69 281.0,448.95 281.3,450.04 281.6,450.13 281.9,449.66 282.2,449.07 282.5,449.58 282.8,450.03 283.1,449.71 283.4,449.30 283.7,449.08 284.0,449.76 284.3,449.24 284.6,449.04 284.9,449.17 285.2,448.71 285.5,447.23 285.8,448.04 286.1,448.30 286.4,448.19 286.7,448.14 287.0,448.15 287.3,447.98 287.6,448.09 287.9,448.16 288.2,448.05 288.5,449.21 288.8,449.07 289.1,449.71 289.4,450.04 289.7,450.51 290.0,450.71 290.3,450.32 290.6,450.58 290.9,451.36 291.2,451.32 291.5,451.70 291.8,451.69 292.1,451.90 292.4,451.83 292.7,451.46 293.0,451.09 293.3,450.95 293.6,451.87 293.9,451.66 294.2,451.86 294.5,451.77 294.8,451.29 295.1,451.28 295.4,451.06 295.7,450.42 296.0,451.24 296.3,450.86 296.6,451.00 296.9,450.43 297.2,450.80 297.5,450.61 297.8,450.75 298.1,449.92 298.4,450.56 298.7,450.29 299.0,450.46 299.3,449.67 299.6,449.71 299.9,450.30 300.2,449.75 300.5,449.99 300.8,450.01 301.1,450.28 301.4,449.59 301.7,450.55 302.0,449.92 302.3,450.73 302.6,450.77 302.9,450.95 303.2,449.73 303.5,450.75 303.8,450.29 304.1,450.61 304.4,450.52 304.7,451.46 305.0,450.02 305.3,451.45 305.6,451.21 305.9,451.45 306.2,451.63 306.5,451.86 306.8,451.58 307.1,451.87 307.4,451.93 307.7,451.55 308.0,451.87 308.3,451.81 308.6,451.73 308.9,451.82 309.2,451.62 309.5,450.40 309.8,451.41 310.1,451.16 310.4,450.49 310.7,450.84 311.0,450.08 311.3,450.97 311.6,450.95 311.9,450.43 312.2,450.03 312.5,450.09 312.8,450.54 313.1,450.37 313.4,450.34 313.7,450.44 314.0,450.09 314.3,450.23 314.6,449.86 314.9,450.42 315.2,449.54 315.5,450.34 315.8,450.56 316.1,450.66 316.4,450.44 316.7,450.22 317.0,450.68 317.3,450.53 317.6,450.95 317.9,451.23 318.2,451.14 318.5,451.20 318.8,451.56 319.1,450.43 319.4,451.64 319.7,451.35 320.0,451.85 320.3,451.34 320.6,451.51 320.9,451.93 321.2,451.76 321.5,451.13 321.8,451.97 322.1,451.67 322.4,451.59 322.7,451.74 323.0,451.70 323.3,451.23 323.6,451.08 323.9,451.37 324.2,450.67 324.5,451.40 324.8,450.08 325.1,451.00 325.4,451.17 325.7,450.97 326.0,450.52 326.3,449.80 326.6,450.31 326.9,450.05 327.2,450.47 327.5,450.41 327.8,449.58 328.1,450.21 328.4,450.05 328.7,449.95 329.0,449.91 329.3,450.44 329.6,450.45 329.9,450.49 330.2,449.94 330.5,450.41 330.8,449.71 331.1,450.27 331.4,450.44 331.7,450.80 332.0,450.62 332.3,450.20 332.6,450.26 332.9,450.96 333.2,451.29 333.5,450.16 333.8,451.03 334.1,450.14 334.4,451.62 334.7,451.82 335.0,451.57 335.3,451.59 335.6,452.00 335.9,451.86 336.2,451.86 336.5,451.19 336.8,450.83 337.1,451.12 337.4,451.66 337.7,451.42 338.0,450.80 338.3,450.94 338.6,451.28 338.9,451.33 339.2,450.68 339.5,451.27 339.8,450.55 340.1,451.11 340.4,449.18 340.7,449.47 341.0,450.32 341.3,449.90 341.6,450.56 341.9,450.54 342.2,449.72 342.5,450.44 342.8,449.03 343.1,450.28 343.4,449.74 343.7,449.99 344.0,449.84 344.3,450.12 344.6,450.54 344.9,450.62 345.2,450.72 345.5,449.87 345.8,450.38 346.1,450.61 346.4,449.35 346.7,450.67 347.0,450.86 347.3,451.35 347.6,451.20 347.9,450.62 348.2,450.59 348.5,451.32 348.8,450.95 349.1,451.73 349.4,451.72 349.7,450.69 350.0,452.07 350.3,451.94 350.6,451.73 350.9,451.61 351.2,451.35 351.5,451.67 351.8,451.65 352.1,451.27 352.4,451.61 352.7,451.67 353.0,451.61 353.3,451.50 353.6,451.19 353.9,451.10 354.2,449.98 354.5,451.10 354.8,450.75 355.1,450.05 355.4,450.35 355.7,450.53 356.0,449.57 356.3,450.59 356.6,450.15 356.9,449.44 357.2,450.31 357.5,449.82 357.8,450.03 358.1,449.93 358.4,449.90 358.7,450.30 359.0,450.56 359.3,450.20 359.6,450.18 359.9,450.52 360.2,450.68 360.5,450.44 360.8,449.43 361.1,447.49 361.4,446.63 361.7,447.16 362.0,449.07 362.3,450.95 362.6,450.82 362.9,450.97 363.2,451.52 363.5,451.81 363.8,451.13 364.1,451.97 364.4,451.88 364.7,450.95 365.0,451.58 365.3,451.69 365.6,451.81 365.9,451.93 366.2,450.90 366.5,451.36 366.8,451.42 367.1,450.60 367.4,451.61 367.7,451.56 368.0,451.22 368.3,450.27 368.6,449.95 368.9,450.44 369.2,450.99 369.5,450.70 369.8,449.82 370.1,450.68 370.4,449.44 370.7,450.45 371.0,450.06 371.3,450.27 371.6,450.32 371.9,450.11 372.2,449.55 372.5,449.70 372.8,449.36 373.1,449.33 373.4,450.12 373.7,449.36 374.0,449.90 374.3,450.12 374.6,450.55 374.9,450.91 375.2,450.54 375.5,450.74 375.8,451.12 376.1,451.23 376.4,450.75 376.7,450.74 377.0,450.50 377.3,451.61 377.6,451.61 377.9,451.58 378.2,451.50 378.5,451.19 378.8,451.93 379.1,451.99 379.4,452.09 379.7,451.72 380.0,451.19 380.3,450.91 380.6,451.78 380.9,451.21 381.2,451.63 381.5,451.20 381.8,451.47 382.1,449.45 382.4,451.35 382.7,451.35 383.0,450.50 383.3,450.04 383.6,451.03 383.9,450.78 384.2,450.07 384.5,449.85 384.8,449.96 385.1,450.02 385.4,449.96 385.7,449.62 386.0,450.42 386.3,450.20 386.6,450.29 386.9,449.52 387.2,450.14 387.5,449.63 387.8,449.95 388.1,448.98 388.4,450.71 388.7,449.42 389.0,450.37 389.3,449.99 389.6,450.14 389.9,451.09 390.2,450.96 390.5,451.35 390.8,451.04 391.1,451.00 391.4,451.21 391.7,451.41 392.0,451.65 392.3,451.79 392.6,451.87 392.9,451.31 393.2,451.22 393.5,451.50 393.8,451.97 394.1,450.23 394.4,451.81 394.7,451.86 395.0,451.64 395.3,451.55 395.6,451.86 395.9,451.26 396.2,451.08 396.5,451.17 396.8,450.74 397.1,450.99 397.4,450.95 397.7,451.13 398.0,450.81 398.3,450.76 398.6,450.42 398.9,450.30 399.2,450.39 399.5,450.47 399.8,450.18 400.1,450.41 400.4,450.43 400.7,449.96 401.0,450.32 401.3,449.72 401.6,449.98 401.9,449.41 402.2,450.00 402.5,449.84 402.8,450.54 403.1,449.66 403.4,450.83 403.7,450.79 404.0,450.06 404.3,450.21 404.6,451.29 404.9,451.09 405.2,451.24 405.5,450.88 405.8,451.00 406.1,450.89 406.4,450.85 406.7,451.77 407.0,451.80 407.3,451.10 407.6,451.92 407.9,451.47 408.2,452.05 408.5,451.89 408.8,450.69 409.1,450.70 409.4,450.90 409.7,451.70 410.0,451.72 410.3,451.10 410.6,451.22 410.9,451.50 411.2,450.91 411.5,451.09 411.8,451.05 412.1,450.53 412.4,449.75 412.7,450.01 413.0,450.56 413.3,450.27 413.6,450.53 413.9,450.62 414.2,450.61 414.5,450.14 414.8,450.22 415.1,449.82" fill="none" stroke="#3f5aa8" stroke-width="1.2" stroke-linejoin="round" stroke-linecap="round"/>
<polyline points="238.6,467.38 238.9,468.59 239.2,470.40 239.5,469.22 239.8,469.36 240.1,468.83 240.4,466.12 240.7,465.44 241.0,462.08 241.3,467.23 241.6,468.41 241.9,467.83 242.2,468.20 242.5,469.83 242.8,466.88 243.1,468.56 243.4,470.15 243.7,468.95 244.0,470.00 244.3,468.48 244.6,470.61 244.9,468.42 245.2,471.12 245.5,467.68 245.8,468.67 246.1,467.37 246.4,469.85 246.7,471.51 247.0,470.64 247.3,469.29 247.6,466.64 247.9,468.31 248.2,467.43 248.5,470.05 248.8,469.64 249.1,469.40 249.4,467.60 249.7,469.68 250.0,469.35 250.3,467.05 250.6,470.05 250.9,469.04 251.2,470.61 251.5,469.28 251.8,468.00 252.1,467.57 252.4,470.67 252.7,472.03 253.0,468.35 253.3,467.00 253.6,469.84 253.9,468.68 254.2,468.97 254.5,471.59 254.8,472.20 255.1,469.08 255.4,468.42 255.7,470.82 256.0,469.39 256.3,469.95 256.6,470.16 256.9,470.55 257.2,467.60 257.5,468.99 257.8,469.28 258.1,469.59 258.4,468.55 258.7,469.62 259.0,468.82 259.3,469.94 259.6,468.60 259.9,469.39 260.2,468.35 260.5,470.92 260.8,470.00 261.1,470.54 261.4,467.17 261.7,469.80 262.0,469.15" fill="none" stroke="#ec2227" stroke-width="1.2" stroke-linejoin="round" stroke-linecap="round"/>
<polyline points="271.1,471.97 271.4,471.66 271.7,471.14 272.0,470.98 272.3,471.18 272.6,471.23 272.9,470.80 273.2,470.65 273.5,471.03 273.8,470.46 274.1,470.31 274.4,471.05 274.7,469.68 275.0,471.14 275.3,470.40 275.6,471.16 275.9,470.65 276.2,470.58 276.5,470.62 276.8,471.11 277.1,470.57 277.4,471.68 277.7,471.38 278.0,471.72 278.3,471.77 278.6,471.06 278.9,471.91 279.2,471.54 279.5,471.35 279.8,470.93 280.1,471.60 280.4,471.36 280.7,472.11 281.0,470.94 281.3,471.42 281.6,471.08 281.9,471.60 282.2,472.01 282.5,471.59 282.8,471.54 283.1,471.65 283.4,471.00 283.7,470.98 284.0,471.31 284.3,471.09 284.6,471.08 284.9,471.22 285.2,471.22 285.5,470.06 285.8,471.04 286.1,470.45 286.4,470.88 286.7,469.79 287.0,471.30 287.3,470.40 287.6,471.17 287.9,470.52 288.2,470.69 288.5,470.57 288.8,471.59 289.1,471.74 289.4,471.53 289.7,471.90 290.0,472.07 290.3,471.88 290.6,471.62 290.9,472.01 291.2,471.44 291.5,472.32 291.8,470.83 292.1,472.21 292.4,472.14 292.7,471.46 293.0,471.37 293.3,471.27 293.6,470.94 293.9,470.93 294.2,471.25 294.5,471.37 294.8,470.94 295.1,471.36 295.4,469.84 295.7,470.33 296.0,470.81 296.3,470.13 296.6,470.26 296.9,471.06 297.2,471.04 297.5,471.02 297.8,471.20 298.1,470.90 298.4,471.11 298.7,471.22 299.0,471.66 299.3,471.17 299.6,471.89 299.9,471.77 300.2,472.05 300.5,471.71 300.8,471.49 301.1,471.97 301.4,470.93 301.7,472.32 302.0,472.07 302.3,471.88 302.6,471.50 302.9,471.35 303.2,470.75 303.5,471.18 303.8,471.57 304.1,471.81 304.4,471.54 304.7,471.57 305.0,471.51 305.3,470.85 305.6,471.27 305.9,471.14 306.2,470.27 306.5,470.59 306.8,470.77 307.1,470.45 307.4,469.51 307.7,470.69 308.0,470.66 308.3,470.91 308.6,471.25 308.9,470.53 309.2,470.70 309.5,471.13 309.8,470.85 310.1,470.89 310.4,471.96 310.7,471.56 311.0,472.03 311.3,471.37 311.6,472.23 311.9,471.89 312.2,470.92 312.5,471.92 312.8,472.07 313.1,471.17 313.4,471.50 313.7,471.86 314.0,472.01 314.3,470.90 314.6,469.88 314.9,470.86 315.2,470.91 315.5,470.44 315.8,471.53 316.1,471.26 316.4,470.30 316.7,470.96 317.0,471.20 317.3,470.86 317.6,470.97 317.9,469.84 318.2,470.07 318.5,471.17 318.8,470.24 319.1,470.87 319.4,471.06 319.7,471.44 320.0,471.07 320.3,471.49 320.6,471.54 320.9,471.39 321.2,470.32 321.5,471.94 321.8,472.11 322.1,471.68 322.4,472.17 322.7,472.24 323.0,471.87 323.3,471.45 323.6,471.67 323.9,471.67 324.2,472.12 324.5,471.55 324.8,470.69 325.1,470.91 325.4,471.57 325.7,471.05 326.0,471.56 326.3,470.73 326.6,470.92 326.9,471.36 327.2,470.93 327.5,471.19 327.8,471.24 328.1,471.20 328.4,470.32 328.7,470.87 329.0,470.94 329.3,470.97 329.6,470.94 329.9,470.40 330.2,470.44 330.5,470.48 330.8,471.17 331.1,469.86 331.4,471.66 331.7,471.83 332.0,471.74 332.3,470.31 332.6,472.07 332.9,471.83 333.2,471.00 333.5,472.28 333.8,472.05 334.1,471.53 334.4,471.42 334.7,472.00 335.0,471.02 335.3,472.12 335.6,470.95 335.9,471.98 336.2,471.74 336.5,471.76 336.8,471.25 337.1,470.71 337.4,471.44 337.7,470.97 338.0,471.20 338.3,470.26 338.6,469.96 338.9,471.11 339.2,471.18 339.5,471.09 339.8,469.32 340.1,470.46 340.4,470.52 340.7,471.14 341.0,470.58 341.3,471.53 341.6,470.98 341.9,471.39 342.2,470.76 342.5,472.01 342.8,470.89 343.1,470.96 343.4,471.37 343.7,471.07 344.0,471.58 344.3,472.09 344.6,471.79 344.9,471.56 345.2,472.09 345.5,472.23 345.8,471.21 346.1,471.88 346.4,471.91 346.7,471.55 347.0,470.91 347.3,471.09 347.6,471.14 347.9,470.91 348.2,470.60 348.5,470.72 348.8,470.30 349.1,471.05 349.4,471.21 349.7,470.21 350.0,471.09 350.3,471.18 350.6,470.24 350.9,470.83 351.2,469.70 351.5,470.54 351.8,470.50 352.1,470.35 352.4,471.43 352.7,470.68 353.0,469.75 353.3,471.46 353.6,471.47 353.9,471.61 354.2,471.78 354.5,471.10 354.8,471.07 355.1,472.08 355.4,472.06 355.7,471.50 356.0,472.31 356.3,470.98 356.6,472.00 356.9,471.82 357.2,471.64 357.5,470.84 357.8,471.09 358.1,471.48 358.4,470.99 358.7,470.08 359.0,471.00 359.3,470.86 359.6,470.68 359.9,470.67 360.2,470.52 360.5,468.93 360.8,470.21 361.1,469.62 361.4,468.16 361.7,467.66 362.0,469.10 362.3,470.34 362.6,470.75 362.9,470.10 363.2,470.69 363.5,471.64 363.8,470.62 364.1,471.58 364.4,471.48 364.7,471.43 365.0,472.27 365.3,472.00 365.6,471.10 365.9,472.23 366.2,470.98 366.5,471.97 366.8,471.87 367.1,471.52 367.4,470.99 367.7,470.37 368.0,471.58 368.3,471.77 368.6,471.61 368.9,471.16 369.2,470.82 369.5,470.86 369.8,470.75 370.1,471.09 370.4,470.80 370.7,469.69 371.0,470.78 371.3,469.74 371.6,470.53 371.9,470.08 372.2,470.67 372.5,471.08 372.8,470.98 373.1,471.12 373.4,471.31 373.7,471.35 374.0,471.48 374.3,470.67 374.6,471.00 374.9,471.82 375.2,472.09 375.5,472.19 375.8,471.43 376.1,472.20 376.4,472.36 376.7,472.09 377.0,470.83 377.3,472.33 377.6,472.09 377.9,471.68 378.2,471.20 378.5,471.03 378.8,471.72 379.1,471.43 379.4,470.59 379.7,471.26 380.0,470.04 380.3,470.67 380.6,470.67 380.9,469.60 381.2,469.53 381.5,471.21 381.8,471.01 382.1,469.74 382.4,470.90 382.7,471.04 383.0,470.64 383.3,470.38 383.6,471.08 383.9,471.48 384.2,471.52 384.5,471.54 384.8,470.79 385.1,471.98 385.4,471.36 385.7,471.44 386.0,471.82 386.3,470.55 386.6,472.21 386.9,472.21 387.2,471.76 387.5,472.16 387.8,471.06 388.1,471.41 388.4,471.91 388.7,472.08 389.0,471.75 389.3,471.59 389.6,471.10 389.9,471.03 390.2,471.61 390.5,470.52 390.8,470.55 391.1,470.16 391.4,469.69 391.7,471.13 392.0,470.25 392.3,470.50 392.6,470.90 392.9,470.72 393.2,471.24 393.5,470.47 393.8,471.15 394.1,470.07 394.4,470.72 394.7,471.29 395.0,470.71 395.3,471.58 395.6,470.85 395.9,470.85 396.2,470.91 396.5,471.75 396.8,471.32 397.1,471.85 397.4,472.09 397.7,471.47 398.0,472.21 398.3,471.71 398.6,472.05 398.9,472.17 399.2,471.75 399.5,471.71 399.8,469.73 400.1,471.50 400.4,471.81 400.7,470.60 401.0,471.35 401.3,470.83 401.6,471.06 401.9,470.74 402.2,470.44 402.5,471.03 402.8,470.98 403.1,469.70 403.4,469.38 403.7,470.98 404.0,470.58 404.3,470.53 404.6,469.27 404.9,471.07 405.2,470.81 405.5,469.42 405.8,471.63 406.1,471.12 406.4,470.92 406.7,471.56 407.0,471.37 407.3,471.65 407.6,471.72 407.9,471.99 408.2,471.63 408.5,471.76 408.8,471.66 409.1,472.25 409.4,471.36 409.7,471.65 410.0,471.91 410.3,470.58 410.6,471.91 410.9,471.45 411.2,471.67 411.5,471.58 411.8,471.02 412.1,471.19 412.4,470.82 412.7,469.32 413.0,470.99 413.3,469.64 413.6,470.05 413.9,470.37 414.2,470.42 414.5,470.56 414.8,470.95 415.1,470.64" fill="none" stroke="#ec2227" stroke-width="1.2" stroke-linejoin="round" stroke-linecap="round"/>
<polyline points="238.6,491.88 238.9,492.19 239.2,492.08 239.5,492.20 239.8,490.15 240.1,488.94 240.4,488.50 240.7,489.41 241.0,488.60 241.3,489.61 241.6,491.56 241.9,492.12 242.2,491.71 242.5,491.96 242.8,490.97 243.1,489.57 243.4,488.82 243.7,489.29 244.0,489.36 244.3,489.98 244.6,490.56 244.9,491.39 245.2,492.23 245.5,491.80 245.8,491.82 246.1,491.09 246.4,491.19 246.7,490.12 247.0,489.37 247.3,488.94 247.6,490.12 247.9,489.76 248.2,491.34 248.5,491.90 248.8,492.13 249.1,491.61 249.4,490.66 249.7,490.50 250.0,488.66 250.3,489.42 250.6,488.85 250.9,489.77 251.2,490.60 251.5,491.06 251.8,491.92 252.1,491.39 252.4,492.12 252.7,490.88 253.0,489.95 253.3,488.40 253.6,488.23 253.9,488.75 254.2,488.81 254.5,490.07 254.8,491.76 255.1,491.84 255.4,491.58 255.7,492.14 256.0,490.40 256.3,490.08 256.6,489.79 256.9,488.81 257.2,489.88 257.5,489.98 257.8,491.00 258.1,491.10 258.4,492.51 258.7,492.98 259.0,491.74 259.3,491.42 259.6,490.65 259.9,489.79 260.2,488.52 260.5,489.01 260.8,489.99 261.1,489.05 261.4,491.09 261.7,491.03 262.0,491.67" fill="none" stroke="#d04ca6" stroke-width="1.2" stroke-linejoin="round" stroke-linecap="round"/>
<polyline points="271.1,491.49 271.4,491.37 271.7,492.88 272.0,492.75 272.3,492.49 272.6,492.67 272.9,492.70 273.2,492.17 273.5,492.41 273.8,492.36 274.1,491.82 274.4,492.09 274.7,492.20 275.0,492.81 275.3,492.83 275.6,492.75 275.9,492.90 276.2,492.98 276.5,492.82 276.8,492.91 277.1,492.97 277.4,492.15 277.7,492.74 278.0,492.26 278.3,492.56 278.6,492.72 278.9,492.77 279.2,491.88 279.5,492.26 279.8,492.48 280.1,492.91 280.4,492.26 280.7,492.74 281.0,492.95 281.3,492.83 281.6,491.97 281.9,492.12 282.2,492.92 282.5,492.49 282.8,492.71 283.1,492.47 283.4,492.59 283.7,491.98 284.0,492.87 284.3,492.43 284.6,492.67 284.9,492.69 285.2,492.66 285.5,492.15 285.8,492.07 286.1,492.89 286.4,492.73 286.7,492.09 287.0,492.20 287.3,492.69 287.6,492.95 287.9,492.89 288.2,492.50 288.5,492.96 288.8,492.82 289.1,492.15 289.4,492.86 289.7,491.62 290.0,492.64 290.3,492.29 290.6,492.81 290.9,491.94 291.2,492.67 291.5,492.86 291.8,492.56 292.1,492.81 292.4,492.50 292.7,492.74 293.0,492.25 293.3,492.86 293.6,492.30 293.9,492.48 294.2,492.92 294.5,491.64 294.8,492.83 295.1,492.92 295.4,491.73 295.7,492.84 296.0,492.68 296.3,492.63 296.6,492.77 296.9,492.72 297.2,492.85 297.5,492.78 297.8,492.89 298.1,492.60 298.4,492.92 298.7,492.96 299.0,492.34 299.3,492.72 299.6,492.06 299.9,492.93 300.2,492.79 300.5,491.93 300.8,492.46 301.1,492.77 301.4,492.96 301.7,492.99 302.0,491.73 302.3,492.37 302.6,493.00 302.9,492.39 303.2,492.59 303.5,492.42 303.8,492.63 304.1,492.74 304.4,492.65 304.7,492.86 305.0,492.50 305.3,492.83 305.6,492.88 305.9,492.88 306.2,492.75 306.5,492.96 306.8,492.65 307.1,492.64 307.4,491.95 307.7,492.45 308.0,492.49 308.3,492.92 308.6,492.90 308.9,492.59 309.2,492.40 309.5,492.31 309.8,492.59 310.1,492.71 310.4,492.35 310.7,492.18 311.0,492.11 311.3,492.54 311.6,492.58 311.9,492.63 312.2,491.48 312.5,492.50 312.8,492.73 313.1,492.68 313.4,491.93 313.7,492.86 314.0,492.64 314.3,492.77 314.6,492.98 314.9,492.18 315.2,492.86 315.5,492.93 315.8,492.52 316.1,492.22 316.4,491.45 316.7,492.55 317.0,493.00 317.3,492.97 317.6,492.97 317.9,491.97 318.2,492.38 318.5,492.79 318.8,492.97 319.1,492.45 319.4,492.27 319.7,492.40 320.0,491.79 320.3,491.91 320.6,492.69 320.9,492.47 321.2,492.20 321.5,492.68 321.8,492.84 322.1,492.89 322.4,492.41 322.7,492.99 323.0,492.80 323.3,492.75 323.6,492.78 323.9,492.94 324.2,492.79 324.5,491.78 324.8,492.83 325.1,492.86 325.4,492.51 325.7,492.89 326.0,492.97 326.3,491.08 326.6,492.12 326.9,492.61 327.2,492.94 327.5,492.34 327.8,492.47 328.1,492.46 328.4,492.43 328.7,492.33 329.0,492.51 329.3,492.64 329.6,492.83 329.9,492.94 330.2,492.49 330.5,492.32 330.8,492.81 331.1,492.85 331.4,492.27 331.7,492.55 332.0,492.77 332.3,492.23 332.6,492.67 332.9,492.08 333.2,492.45 333.5,492.99 333.8,492.68 334.1,492.20 334.4,492.81 334.7,492.46 335.0,492.39 335.3,492.79 335.6,491.47 335.9,492.78 336.2,492.77 336.5,492.87 336.8,492.76 337.1,492.66 337.4,492.50 337.7,492.04 338.0,492.72 338.3,492.86 338.6,492.08 338.9,492.78 339.2,492.87 339.5,492.79 339.8,492.92 340.1,492.37 340.4,492.70 340.7,491.82 341.0,491.89 341.3,492.59 341.6,492.20 341.9,492.11 342.2,492.38 342.5,492.19 342.8,492.53 343.1,492.63 343.4,492.78 343.7,492.99 344.0,492.82 344.3,492.28 344.6,492.36 344.9,492.85 345.2,492.01 345.5,492.71 345.8,492.52 346.1,491.74 346.4,492.21 346.7,492.01 347.0,492.45 347.3,492.82 347.6,492.03 347.9,492.45 348.2,492.87 348.5,491.74 348.8,492.62 349.1,492.67 349.4,492.48 349.7,492.96 350.0,492.23 350.3,492.92 350.6,492.51 350.9,492.59 351.2,492.94 351.5,492.36 351.8,491.98 352.1,492.86 352.4,492.13 352.7,492.98 353.0,492.78 353.3,492.28 353.6,491.88 353.9,492.35 354.2,492.17 354.5,492.75 354.8,492.29 355.1,492.83 355.4,492.23 355.7,492.83 356.0,492.49 356.3,492.56 356.6,492.31 356.9,492.61 357.2,492.34 357.5,492.85 357.8,492.15 358.1,492.79 358.4,492.73 358.7,492.83 359.0,492.49 359.3,492.74 359.6,492.90 359.9,492.13 360.2,492.84 360.5,492.71 360.8,492.59 361.1,490.97 361.4,490.37 361.7,490.56 362.0,492.22 362.3,492.20 362.6,492.67 362.9,492.63 363.2,492.89 363.5,492.10 363.8,492.56 364.1,492.45 364.4,492.94 364.7,492.55 365.0,492.22 365.3,492.08 365.6,492.45 365.9,492.59 366.2,492.80 366.5,492.86 366.8,492.31 367.1,492.28 367.4,492.29 367.7,492.68 368.0,492.72 368.3,492.32 368.6,492.81 368.9,492.53 369.2,492.01 369.5,492.59 369.8,492.35 370.1,491.84 370.4,492.89 370.7,492.77 371.0,492.88 371.3,492.57 371.6,492.80 371.9,492.76 372.2,492.79 372.5,492.90 372.8,492.57 373.1,492.70 373.4,491.96 373.7,492.81 374.0,492.80 374.3,492.80 374.6,492.91 374.9,492.58 375.2,492.61 375.5,492.53 375.8,492.85 376.1,492.60 376.4,492.38 376.7,492.44 377.0,492.06 377.3,492.91 377.6,492.59 377.9,492.50 378.2,492.20 378.5,491.86 378.8,492.76 379.1,492.24 379.4,491.54 379.7,492.16 380.0,492.47 380.3,492.44 380.6,492.43 380.9,492.48 381.2,492.23 381.5,492.85 381.8,492.91 382.1,492.99 382.4,492.77 382.7,492.98 383.0,492.34 383.3,492.75 383.6,492.83 383.9,492.79 384.2,491.88 384.5,492.84 384.8,492.08 385.1,491.91 385.4,492.39 385.7,492.73 386.0,491.72 386.3,492.55 386.6,492.65 386.9,492.18 387.2,492.68 387.5,492.69 387.8,492.41 388.1,492.97 388.4,492.43 388.7,492.20 389.0,492.19 389.3,492.35 389.6,492.89 389.9,492.74 390.2,492.10 390.5,492.81 390.8,492.93 391.1,492.48 391.4,492.64 391.7,492.28 392.0,492.81 392.3,492.49 392.6,491.64 392.9,492.51 393.2,492.93 393.5,492.01 393.8,492.39 394.1,492.13 394.4,492.52 394.7,492.68 395.0,492.93 395.3,492.44 395.6,491.67 395.9,491.95 396.2,492.50 396.5,492.66 396.8,492.79 397.1,492.41 397.4,492.80 397.7,491.97 398.0,491.85 398.3,492.84 398.6,492.80 398.9,492.60 399.2,492.98 399.5,492.63 399.8,492.65 400.1,492.69 400.4,492.98 400.7,492.80 401.0,492.14 401.3,492.64 401.6,492.98 401.9,492.40 402.2,492.42 402.5,492.65 402.8,491.96 403.1,492.97 403.4,492.66 403.7,492.21 404.0,492.93 404.3,492.97 404.6,492.76 404.9,492.70 405.2,492.21 405.5,492.01 405.8,492.66 406.1,492.59 406.4,492.86 406.7,492.56 407.0,492.82 407.3,492.71 407.6,492.81 407.9,492.07 408.2,492.23 408.5,492.35 408.8,492.79 409.1,492.64 409.4,492.93 409.7,492.07 410.0,492.84 410.3,492.84 410.6,492.84 410.9,492.61 411.2,492.76 411.5,492.67 411.8,492.95 412.1,491.68 412.4,492.89 412.7,492.67 413.0,492.75 413.3,492.98 413.6,492.28 413.9,492.96 414.2,491.95 414.5,492.76 414.8,492.29 415.1,492.91" fill="none" stroke="#d04ca6" stroke-width="1.2" stroke-linejoin="round" stroke-linecap="round"/>
<line x1="318.8" y1="494" x2="318.8" y2="492" stroke="#8a8a8a" stroke-width="1"/>
<line x1="366.2" y1="494" x2="366.2" y2="492" stroke="#8a8a8a" stroke-width="1"/>
<text x="233" y="394.0" font-size="11" text-anchor="end" fill="#333">4.0</text>
<text x="233" y="455.4" font-size="11" text-anchor="end" fill="#333">2.0</text>
<text x="233" y="496.3" font-size="11" text-anchor="end" fill="#333">0</text>
<text x="239" y="507.8" font-size="11" text-anchor="middle" fill="#333">3</text>
<text x="261" y="507.8" font-size="11" text-anchor="middle" fill="#333">4</text>
<text x="271.5" y="507.8" font-size="11" text-anchor="middle" fill="#333">6</text>
<text x="318.8" y="507.8" font-size="11" text-anchor="middle" fill="#333">8</text>
<text x="365.6" y="507.8" font-size="11" text-anchor="middle" fill="#333">10</text>
<text x="412.2" y="507.8" font-size="11" text-anchor="middle" fill="#333">12</text>
<text x="328.9" y="525.6" font-size="12.5" text-anchor="middle" fill="#333">Frequency (THz)</text>
<text x="409" y="408" font-size="9.0" text-anchor="end" fill="#333">4 V</text>
<text x="409" y="429.4" font-size="9.0" text-anchor="end" fill="#333">3 V</text>
<text x="409" y="447.9" font-size="9.0" text-anchor="end" fill="#333">2 V</text>
<text x="409" y="468" font-size="9.0" text-anchor="end" fill="#333">1 V</text>
<text x="409" y="487.3" font-size="9.2" text-anchor="end" fill="#333"><tspan font-style="italic">V</tspan><tspan font-size="6.3" dy="2.0">G</tspan><tspan dy="-2.0"> = 0 V</tspan></text>
<circle cx="424.3" cy="411.0" r="4.4" fill="#6dbf62"/>
<rect x="420.1" y="425.2" width="7.40" height="7.40" fill="#231f20"/>
<polygon points="423.90,445.7 417.9,456.8 429.9,456.8" fill="#3f5aa8"/>
<path d="M422.00,465.8H426.20V469.20H429.2V473.40H426.20V476.8H422.00V473.40H419.0V469.20H422.00Z" fill="#ec2227"/>
<polygon points="423.90,482.80 425.96,487.76 431.32,488.19 427.24,491.68 428.48,496.91 423.90,494.11 419.32,496.91 420.56,491.68 416.48,488.19 421.84,487.76" fill="#d04ca6"/>
<rect x="531.4" y="26.6" width="107.89999999999998" height="100.4" fill="none" stroke="#8a8a8a" stroke-width="1"/>
<line x1="532.9000000000001" y1="127.0" x2="532.9000000000001" y2="125.0" stroke="#8a8a8a" stroke-width="1"/>
<line x1="553.7" y1="127.0" x2="553.7" y2="125.0" stroke="#8a8a8a" stroke-width="1"/>
<line x1="574.5" y1="127.0" x2="574.5" y2="125.0" stroke="#8a8a8a" stroke-width="1"/>
<line x1="595.3000000000001" y1="127.0" x2="595.3000000000001" y2="125.0" stroke="#8a8a8a" stroke-width="1"/>
<line x1="616.1" y1="127.0" x2="616.1" y2="125.0" stroke="#8a8a8a" stroke-width="1"/>
<line x1="636.9000000000001" y1="127.0" x2="636.9000000000001" y2="125.0" stroke="#8a8a8a" stroke-width="1"/>
<line x1="531.4" y1="27.6" x2="533.4" y2="27.6" stroke="#8a8a8a" stroke-width="1"/>
<line x1="531.4" y1="72.0" x2="533.4" y2="72.0" stroke="#8a8a8a" stroke-width="1"/>
<line x1="531.4" y1="116.4" x2="533.4" y2="116.4" stroke="#8a8a8a" stroke-width="1"/>
<line x1="639.3" y1="27.60000000000001" x2="637.3" y2="27.60000000000001" stroke="#8a8a8a" stroke-width="1"/>
<line x1="639.3" y1="76.25" x2="637.3" y2="76.25" stroke="#8a8a8a" stroke-width="1"/>
<line x1="639.3" y1="124.9" x2="637.3" y2="124.9" stroke="#8a8a8a" stroke-width="1"/>
<line x1="555.1" y1="27.8" x2="555.1" y2="127.0" stroke="#7cc360" stroke-width="1.1" stroke-dasharray="3.6,2.3"/>
<line x1="565.3" y1="27.8" x2="565.3" y2="127.0" stroke="#333" stroke-width="1.1" stroke-dasharray="3.6,2.3"/>
<line x1="575.5" y1="27.8" x2="575.5" y2="127.0" stroke="#5b73bd" stroke-width="1.1" stroke-dasharray="3.6,2.3"/>
<line x1="585.6" y1="27.8" x2="585.6" y2="127.0" stroke="#ec2227" stroke-width="1.1" stroke-dasharray="3.6,2.3"/>
<line x1="596.5" y1="27.8" x2="596.5" y2="127.0" stroke="#d04ca6" stroke-width="1.1" stroke-dasharray="3.6,2.3"/>
<polyline points="531.8,63.22 531.86,63.04 531.91,63.19 532.01,63.33 532.20,62.43 532.5,63.11 532.97,61.88 533.57,61.08 534.25,60.06 534.95,59.71 535.6,58.70 536.23,57.87 536.88,56.66 537.51,55.37 538.10,54.39 538.6,53.78 538.99,52.68 539.29,52.52 539.54,52.38 539.80,51.96 540.1,52.22 540.45,51.99 540.83,52.60 541.22,52.77 541.61,53.06 542.0,52.34 542.36,51.99 542.71,51.77 543.06,50.41 543.45,49.35 543.9,48.89 544.42,48.30 544.98,47.67 545.59,47.18 546.23,47.65 546.9,46.91 547.61,45.80 548.36,46.06 549.14,45.57 549.93,45.14 550.7,44.38 551.46,44.57 552.22,43.54 552.98,43.80 553.74,43.26 554.5,43.51 555.27,42.81 556.06,43.14 556.84,43.26 557.59,43.04 558.3,43.30 558.95,43.36 559.56,43.85 560.14,44.18 560.71,44.25 561.3,44.90 561.90,45.24 562.50,46.00 563.09,46.39 563.69,47.45 564.3,48.40 564.92,49.39 565.56,50.56 566.19,50.94 566.81,51.65 567.4,52.50 567.96,52.77 568.49,54.01 569.00,54.56 569.50,55.48 570.0,57.11 570.48,57.90 570.94,58.49 571.40,59.24 571.88,60.15 572.4,60.71 572.97,61.69 573.58,63.27 574.20,64.21 574.85,65.38 575.5,66.98 576.17,68.56 576.85,70.40 577.55,71.94 578.23,73.93 578.9,75.13 579.53,77.23 580.15,78.54 580.75,78.90 581.37,80.47 582.0,81.43 582.64,82.70 583.28,83.83 583.94,85.32 584.64,86.31 585.4,87.14 586.22,88.75 587.07,90.11 587.98,91.31 588.95,93.07 590.0,94.49 591.16,96.50" fill="none" stroke="#e8232a" stroke-width="2.9" stroke-linejoin="round" stroke-linecap="round"/>
<polyline points="590.0,94.49 591.16,96.50 592.43,97.73 593.74,99.61 595.05,100.38 596.3,101.90 597.45,103.57 598.55,104.37 599.63,105.34 600.77,105.42 602.0,106.41 603.38,106.54 604.88,107.81 606.42,108.69 607.92,109.51 609.3,110.03 610.55,111.09 611.72,110.92 612.83,111.49 613.92,112.49 615.0,112.69 616.03,113.60 616.99,113.76 617.96,113.98 619.00,113.71 620.2,114.41 621.62,115.12 623.22,115.34 624.88,116.11 626.51,116.59 628.0,116.65 629.34,116.90 630.60,117.83 631.79,117.81 632.92,118.03 634.0,118.49 635.08,118.86 636.16,117.60 637.16,118.95 638.00,118.86 638.6,118.51" fill="none" stroke="#e8232a" stroke-width="3.6" stroke-linejoin="round" stroke-linecap="round"/>
<polyline points="531.9,66.60 531.89,66.59 531.85,66.63 531.84,66.61 531.94,66.43 532.2,66.00 532.68,65.24 533.32,64.22 534.07,63.05 534.85,61.84 535.6,60.70 536.32,59.65 537.05,58.61 537.80,57.57 538.55,56.50 539.3,55.40 540.05,54.23 540.81,53.00 541.58,51.75 542.34,50.54 543.1,49.40 543.86,48.31 544.62,47.26 545.38,46.25 546.14,45.32 546.9,44.50 547.67,43.79 548.46,43.17 549.24,42.63 549.99,42.18 550.7,41.80 551.35,41.51 551.96,41.31 552.54,41.18 553.11,41.12 553.7,41.10 554.29,41.11 554.86,41.17 555.44,41.29 556.05,41.49 556.7,41.80 557.41,42.22 558.16,42.72 558.94,43.32 559.73,44.02 560.5,44.80 561.27,45.72 562.05,46.79 562.83,47.92 563.58,49.05 564.3,50.10 564.97,51.06 565.61,51.98 566.23,52.88 566.82,53.78 567.4,54.70 567.91,55.56 568.36,56.36 568.81,57.20 569.33,58.20 570.0,59.50 570.85,61.16 571.83,63.10 572.88,65.21 573.96,67.38 575.0,69.50 576.0,71.60 577.0,73.76 578.0,75.93 579.0,78.03 580.0,80.00 581.0,81.86 582.0,83.66 583.0,85.36 584.0,86.95 585.0,88.40 585.96,89.68 586.88,90.80 587.83,91.83 588.85,92.81 590.0,93.80 591.44,94.88 593.14,95.99 594.86,97.05 596.36,97.96 597.4,98.60" fill="none" stroke="#222" stroke-width="1.0" stroke-linejoin="round" stroke-linecap="round"/>
<clipPath id="gclip"><rect x="531.4" y="26.6" width="107.89999999999998" height="100.4"/></clipPath>
<polyline points="531.24,73.42 531.40,73.62 531.57,73.81 531.73,74.00 531.90,74.20 532.06,74.39 532.23,74.59 532.39,74.78 532.56,74.98 532.72,75.18 532.89,75.38 533.05,75.58 533.22,75.78 533.38,75.98 533.55,76.18 533.71,76.39 533.88,76.59 534.04,76.80 534.21,77.00 534.37,77.21 534.54,77.42 534.70,77.62 534.87,77.83 535.03,78.04 535.20,78.25 535.36,78.47 535.53,78.68 535.69,78.89 535.86,79.11 536.02,79.33 536.19,79.54 536.35,79.76 536.52,79.98 536.68,80.20 536.85,80.42 537.02,80.64 537.18,80.87 537.35,81.09 537.51,81.32 537.68,81.55 537.84,81.77 538.01,82.00 538.17,82.24 538.34,82.47 538.50,82.70 538.67,82.94 538.83,83.17 539.00,83.41 539.16,83.65 539.33,83.89 539.49,84.13 539.66,84.37 539.82,84.62 539.99,84.86 540.15,85.11 540.32,85.36 540.48,85.61 540.65,85.86 540.81,86.12 540.98,86.37 541.14,86.63 541.31,86.89 541.47,87.15 541.64,87.41 541.80,87.67 541.97,87.94 542.13,88.21 542.30,88.48 542.46,88.75 542.63,89.03 542.79,89.30 542.96,89.58 543.12,89.86 543.29,90.14 543.45,90.43 543.62,90.72 543.78,91.01 543.95,91.30 544.11,91.59 544.28,91.89 544.45,92.19 544.61,92.50 544.78,92.80 544.94,93.11 545.11,93.42 545.27,93.74 545.44,94.06 545.60,94.38 545.77,94.71 545.93,95.03 546.10,95.37 546.26,95.70 546.43,96.04 546.59,96.39 546.76,96.74 546.92,97.09 547.09,97.45 547.25,97.81 547.42,98.18 547.58,98.55 547.75,98.92 547.91,99.31 548.08,99.70 548.24,100.09 548.41,100.49 548.57,100.90 548.74,101.32 548.90,101.74 549.07,102.17 549.23,102.61 549.40,103.05 549.56,103.51 549.73,103.98 549.89,104.46 550.06,104.94 550.22,105.45 550.39,105.96 550.55,106.49 550.72,107.03 550.88,107.60 551.05,108.18 551.21,108.78 551.38,109.40 551.55,110.05 551.71,110.73 551.88,111.45 552.04,112.20 552.21,113.01 552.37,113.87 552.54,114.80 552.70,115.83 552.87,117.00 553.03,118.37 553.20,120.11 553.36,123.12 553.36,126.60 553.53,120.83 553.69,118.87 553.86,117.41 554.02,116.19 554.19,115.12 554.35,114.16 554.52,113.28 554.68,112.46 554.85,111.69 555.01,110.96 555.18,110.27 555.34,109.61 555.51,108.98 555.67,108.37 555.84,107.78 556.00,107.21 556.17,106.66 556.33,106.13 556.50,105.61 556.66,105.10 556.83,104.61 556.99,104.13 557.16,103.66 557.32,103.20 557.49,102.75 557.65,102.31 557.82,101.88 557.98,101.45 558.15,101.03 558.31,100.62 558.48,100.22 558.65,99.82 558.81,99.43 558.98,99.05 559.14,98.67 559.31,98.29 559.47,97.93 559.64,97.56 559.80,97.20 559.97,96.85 560.13,96.50 560.30,96.15 560.46,95.81 560.63,95.47 560.79,95.14 560.96,94.81 561.12,94.48 561.29,94.16 561.45,93.84 561.62,93.53 561.78,93.21 561.95,92.90 562.11,92.59 562.28,92.29 562.44,91.99 562.61,91.69 562.77,91.39 562.94,91.10 563.10,90.81 563.27,90.52 563.43,90.24 563.60,89.95 563.76,89.67 563.93,89.39 564.09,89.11 564.26,88.84 564.42,88.57 564.59,88.30 564.75,88.03 564.92,87.76 565.08,87.49 565.25,87.23 565.41,86.97 565.58,86.71 565.75,86.45 565.91,86.20 566.08,85.94 566.24,85.69 566.41,85.44 566.57,85.19 566.74,84.94 566.90,84.70 567.07,84.45 567.23,84.21 567.40,83.96 567.56,83.72 567.73,83.49 567.89,83.25 568.06,83.01 568.22,82.78 568.39,82.54 568.55,82.31 568.72,82.08 568.88,81.85 569.05,81.62 569.21,81.39 569.38,81.17 569.54,80.94 569.71,80.72 569.87,80.49 570.04,80.27 570.20,80.05 570.37,79.83 570.53,79.61 570.70,79.39 570.86,79.18 571.03,78.96 571.19,78.75 571.36,78.54 571.52,78.32 571.69,78.11 571.85,77.90 572.02,77.69 572.18,77.48 572.35,77.27 572.51,77.07 572.68,76.86 572.85,76.66 573.01,76.45 573.18,76.25 573.34,76.05 573.51,75.84 573.67,75.64 573.84,75.44 574.00,75.24 574.17,75.05 574.33,74.85 574.50,74.65 574.66,74.45 574.83,74.26 574.99,74.06 575.16,73.87 575.32,73.68 575.49,73.49 575.65,73.29 575.82,73.10 575.98,72.91 576.15,72.72 576.31,72.53 576.48,72.35 576.64,72.16 576.81,71.97 576.97,71.78 577.14,71.60 577.30,71.41 577.47,71.23 577.63,71.05 577.80,70.86 577.96,70.68 578.13,70.50 578.29,70.32 578.46,70.14 578.62,69.96 578.79,69.78 578.95,69.60 579.12,69.42 579.28,69.24 579.45,69.07 579.61,68.89 579.78,68.71 579.94,68.54 580.11,68.36 580.28,68.19 580.44,68.01 580.61,67.84 580.77,67.67 580.94,67.50 581.10,67.32 581.27,67.15 581.43,66.98 581.60,66.81 581.76,66.64 581.93,66.47 582.09,66.30 582.26,66.14 582.42,65.97 582.59,65.80 582.75,65.63 582.92,65.47 583.08,65.30 583.25,65.14 583.41,64.97 583.58,64.81 583.74,64.64 583.91,64.48 584.07,64.31 584.24,64.15 584.40,63.99 584.57,63.83 584.73,63.67 584.90,63.51 585.06,63.34 585.23,63.18 585.39,63.02 585.56,62.87 585.72,62.71 585.89,62.55 586.05,62.39 586.22,62.23 586.38,62.07 586.55,61.92 586.71,61.76 586.88,61.60 587.04,61.45 587.21,61.29 587.38,61.14 587.54,60.98 587.71,60.83 587.87,60.68 588.04,60.52 588.20,60.37 588.37,60.22 588.53,60.06 588.70,59.91 588.86,59.76 589.03,59.61 589.19,59.46 589.36,59.31 589.52,59.16 589.69,59.01 589.85,58.86 590.02,58.71 590.18,58.56 590.35,58.41 590.51,58.26 590.68,58.11 590.84,57.96 591.01,57.82 591.17,57.67 591.34,57.52 591.50,57.38 591.67,57.23 591.83,57.09 592.00,56.94 592.16,56.79 592.33,56.65 592.49,56.50 592.66,56.36 592.82,56.22 592.99,56.07 593.15,55.93 593.32,55.79 593.48,55.64 593.65,55.50 593.81,55.36 593.98,55.22 594.14,55.08 594.31,54.93 594.48,54.79 594.64,54.65 594.81,54.51 594.97,54.37 595.14,54.23 595.30,54.09 595.47,53.95 595.63,53.81 595.80,53.68 595.96,53.54 596.13,53.40 596.29,53.26 596.46,53.12 596.62,52.99 596.79,52.85 596.95,52.71 597.12,52.57 597.28,52.44 597.45,52.30 597.61,52.17 597.78,52.03 597.94,51.90 598.11,51.76 598.27,51.63 598.44,51.49 598.60,51.36 598.77,51.22 598.93,51.09 599.10,50.95 599.26,50.82 599.43,50.69 599.59,50.55 599.76,50.42 599.92,50.29 600.09,50.16 600.25,50.03 600.42,49.89 600.58,49.76 600.75,49.63 600.91,49.50 601.08,49.37 601.24,49.24 601.41,49.11 601.58,48.98 601.74,48.85 601.91,48.72 602.07,48.59 602.24,48.46 602.40,48.33 602.57,48.20 602.73,48.07 602.90,47.94 603.06,47.82 603.23,47.69 603.39,47.56 603.56,47.43 603.72,47.31 603.89,47.18 604.05,47.05 604.22,46.92 604.38,46.80 604.55,46.67 604.71,46.55 604.88,46.42 605.04,46.29 605.21,46.17 605.37,46.04 605.54,45.92 605.70,45.79 605.87,45.67 606.03,45.54 606.20,45.42 606.36,45.29 606.53,45.17 606.69,45.05 606.86,44.92 607.02,44.80 607.19,44.68 607.35,44.55 607.52,44.43 607.68,44.31 607.85,44.19 608.01,44.06 608.18,43.94 608.34,43.82 608.51,43.70 608.68,43.58 608.84,43.46 609.01,43.33 609.17,43.21 609.34,43.09 609.50,42.97 609.67,42.85 609.83,42.73 610.00,42.61 610.16,42.49 610.33,42.37 610.49,42.25 610.66,42.13 610.82,42.01 610.99,41.89 611.15,41.77 611.32,41.66 611.48,41.54 611.65,41.42 611.81,41.30 611.98,41.18 612.14,41.07 612.31,40.95 612.47,40.83 612.64,40.71 612.80,40.60 612.97,40.48 613.13,40.36 613.30,40.24 613.46,40.13 613.63,40.01 613.79,39.90 613.96,39.78 614.12,39.66 614.29,39.55 614.45,39.43 614.62,39.32 614.78,39.20 614.95,39.09 615.11,38.97 615.28,38.86 615.44,38.74 615.61,38.63 615.77,38.51 615.94,38.40 616.11,38.28 616.27,38.17 616.44,38.06 616.60,37.94 616.77,37.83 616.93,37.72 617.10,37.60 617.26,37.49 617.43,37.38 617.59,37.26 617.76,37.15 617.92,37.04 618.09,36.93 618.25,36.81 618.42,36.70 618.58,36.59 618.75,36.48 618.91,36.37 619.08,36.26 619.24,36.14 619.41,36.03 619.57,35.92 619.74,35.81 619.90,35.70 620.07,35.59 620.23,35.48 620.40,35.37 620.56,35.26 620.73,35.15 620.89,35.04 621.06,34.93 621.22,34.82 621.39,34.71 621.55,34.60 621.72,34.49 621.88,34.38 622.05,34.27 622.21,34.16 622.38,34.05 622.54,33.95 622.71,33.84 622.87,33.73 623.04,33.62 623.21,33.51 623.37,33.40 623.54,33.30 623.70,33.19 623.87,33.08 624.03,32.97 624.20,32.87 624.36,32.76 624.53,32.65 624.69,32.55 624.86,32.44 625.02,32.33 625.19,32.23 625.35,32.12 625.52,32.01 625.68,31.91 625.85,31.80 626.01,31.69 626.18,31.59 626.34,31.48 626.51,31.38 626.67,31.27 626.84,31.17 627.00,31.06 627.17,30.96 627.33,30.85 627.50,30.75 627.66,30.64 627.83,30.54 627.99,30.43 628.16,30.33 628.32,30.22 628.49,30.12 628.65,30.01 628.82,29.91 628.98,29.81 629.15,29.70 629.31,29.60 629.48,29.49 629.64,29.39 629.81,29.29 629.97,29.18 630.14,29.08" fill="none" stroke="#3a5fad" stroke-width="1.2" stroke-linejoin="round" stroke-linecap="round" clip-path="url(#gclip)"/>
<ellipse cx="554.9" cy="20.2" rx="3.1" ry="4.4" fill="#6dbf62"/>
<rect x="561" y="16.4" width="7" height="5.6" fill="#231f20"/>
<polygon points="574.6,15.9 570.8,22.3 578.4,22.3" fill="#3f5aa8"/>
<path d="M584.3,15.5h2.2v2.6h2.6v2.2h-2.6v2.6h-2.2v-2.6h-2.6v-2.2h2.6z" fill="#ec2227"/>
<polygon points="595.40,15.20 596.46,18.14 599.58,18.24 597.11,20.16 597.99,23.16 595.40,21.40 592.81,23.16 593.69,20.16 591.22,18.24 594.34,18.14" fill="#d04ca6"/>
<text x="525.8" y="31.5" font-size="11" text-anchor="end" fill="#333">1,500</text>
<text x="525.8" y="75.7" font-size="11" text-anchor="end" fill="#333">1,000</text>
<text x="525.8" y="120.1" font-size="11" text-anchor="end" fill="#333">500</text>
<text x="643.8" y="32" font-size="11.3" fill="#333">400</text>
<text x="643.8" y="80.2" font-size="11.3" fill="#333">200</text>
<text x="643.8" y="128.4" font-size="11.3" fill="#333">0</text>
<text x="533.9" y="140.6" font-size="10.8" text-anchor="middle" fill="#333">−2</text>
<text x="554.1" y="140.6" font-size="10.8" text-anchor="middle" fill="#333">0</text>
<text x="575.2" y="140.6" font-size="10.8" text-anchor="middle" fill="#333">2</text>
<text x="596" y="140.6" font-size="10.8" text-anchor="middle" fill="#333">4</text>
<text x="617.1" y="140.6" font-size="10.8" text-anchor="middle" fill="#333">6</text>
<text x="637.9" y="140.6" font-size="10.8" text-anchor="middle" fill="#333">8</text>
<text x="466.4" y="77.4" font-size="12.8" text-anchor="middle" fill="#333" transform="rotate(-90 466.4 77.4)" dy="4.6">Sheet resistance</text>
<text x="480" y="77.4" font-size="12.8" text-anchor="middle" fill="#333" transform="rotate(-90 480 77.4)" dy="4.6">(Ω sq<tspan font-size="8.5" dy="-4.5">−1</tspan><tspan dy="4.5">)</tspan></text>
<text x="679.8" y="77" font-size="12.6" text-anchor="middle" textLength="122" lengthAdjust="spacingAndGlyphs" fill="#3a5fad" transform="rotate(90 679.8 77)" dy="4.6">Fermi energy (meV)</text>
<text x="556.6" y="159.9" font-size="12.6" fill="#333"><tspan font-style="italic">V</tspan><tspan font-size="8.5" dy="3.8">G</tspan><tspan dy="-3.8" dx="1.6">–</tspan><tspan font-style="italic" dx="2.2">V</tspan><tspan font-size="8.5" dy="3.8">D</tspan><tspan dy="-3.8" dx="2.0">(V)</tspan></text>
<rect x="529.7" y="204.0" width="140.0999999999999" height="107.89999999999998" fill="none" stroke="#8a8a8a" stroke-width="1"/>
<polyline points="530.2,309.29 530.6,309.04 531.0,308.66 531.4,308.17 531.8,307.61 532.2,307.08 532.6,306.69 533.0,306.54 533.4,306.66 533.8,306.99 534.2,307.41 534.6,307.80 535.0,308.04 535.4,308.09 535.8,307.97 536.2,307.77 536.6,307.60 537.0,307.54 537.4,307.65 537.8,307.92 538.2,308.27 538.6,308.64 539.0,308.97 539.4,309.22 539.8,309.39 540.2,309.49 540.6,309.54 541.0,309.55 541.4,309.52 541.8,309.44 542.2,309.29 542.6,309.04 543.0,308.66 543.4,308.17 543.8,307.61 544.2,307.08 544.6,306.70 545.0,306.56 545.4,306.70 545.8,307.08 546.2,307.61 546.6,308.17 547.0,308.66 547.4,309.03 547.8,309.28 548.2,309.42 548.6,309.46 549.0,309.42 549.4,309.31 549.8,309.10 550.2,308.81 550.6,308.46 551.0,308.09 551.4,307.77 551.8,307.59 552.2,307.59 552.6,307.77 553.0,308.09 553.4,308.46 553.8,308.82 554.2,309.11 554.6,309.32 555.0,309.45 555.4,309.52 555.8,309.55 556.2,309.54 556.6,309.49 557.0,309.36 557.4,309.10 557.8,308.63 558.2,307.90 558.6,306.88 559.0,305.63 559.4,304.33 559.8,303.23 560.2,302.60 560.6,302.59 561.0,303.21 561.4,304.27 561.8,305.48 562.2,306.58 562.6,307.35 563.0,307.71 563.4,307.68 563.8,307.38 564.2,306.98 564.6,306.66 565.0,306.54 565.4,306.69 565.8,307.06 566.2,307.55 566.6,308.04 567.0,308.38 567.4,308.49 567.8,308.33 568.2,307.89 568.6,307.26 569.0,306.56 569.4,305.95 569.8,305.59 570.2,305.60 570.6,305.96 571.0,306.58 571.4,307.32 571.8,308.03 572.2,308.60 572.6,308.98 573.0,309.17 573.4,309.18 573.8,309.05 574.2,308.79 574.6,308.45 575.0,308.08 575.4,307.77 575.8,307.59 576.2,307.59 576.6,307.77 577.0,308.09 577.4,308.46 577.8,308.82 578.2,309.11 578.6,309.32 579.0,307.66 579.4,298.12 579.8,287.13 580.2,275.33 580.6,262.96 581.0,250.13 581.4,236.93 581.8,223.41 582.2,209.60 582.2,209.60 582.6,223.41 583.0,236.93 583.4,250.13 583.8,262.96 584.2,275.34 584.6,287.15 585.0,298.17 585.4,307.79 585.8,309.58 586.2,309.56 586.6,309.52 587.0,309.45 587.4,309.32 587.8,309.11 588.2,308.82 588.6,308.46 589.0,308.09 589.4,307.77 589.8,307.59 590.2,307.59 590.6,307.77 591.0,308.09 591.4,308.45 591.8,308.80 592.2,309.07 592.6,309.22 593.0,309.24 593.4,309.11 593.8,308.84 594.2,308.42 594.6,307.89 595.0,307.33 595.4,306.87 595.8,306.60 596.2,306.60 596.6,306.87 597.0,307.34 597.4,307.89 597.8,308.43 598.2,308.86 598.6,309.17 599.0,309.34 599.4,309.40 599.8,309.35 600.2,309.18 600.6,308.85 601.0,308.35 601.4,307.70 601.8,306.95 602.2,306.25 602.6,305.74 603.0,305.55 603.4,305.74 603.8,306.25 604.2,306.95 604.6,307.70 605.0,308.35 605.4,308.85 605.8,309.18 606.2,309.37 606.6,309.44 607.0,309.41 607.4,309.30 607.8,309.10 608.2,308.81 608.6,308.46 609.0,308.09 609.4,307.77 609.8,307.59 610.2,307.59 610.6,307.77 611.0,308.09 611.4,308.46 611.8,308.81 612.2,309.10 612.6,309.31 613.0,309.42 613.4,309.46 613.8,309.42 614.2,309.28 614.6,309.03 615.0,308.66 615.4,308.17 615.8,307.61 616.2,307.08 616.6,306.70 617.0,306.56 617.4,306.70 617.8,307.08 618.2,307.61 618.6,308.17 619.0,308.66 619.4,309.04 619.8,309.29 620.2,309.44 620.6,309.52 621.0,309.56 621.4,309.58 621.8,309.59 622.2,309.59 622.6,309.58 623.0,309.57 623.4,309.55 623.8,309.49 624.2,309.39 624.6,309.22 625.0,308.97 625.4,308.64 625.8,308.27 626.2,307.92 626.6,307.66 627.0,307.57 627.4,307.66 627.8,307.92 628.2,308.27 628.6,308.64 629.0,308.97 629.4,309.22 629.8,309.39 630.2,309.49 630.6,309.55 630.8,309.56 631.0,309.57 631.4,309.58 631.8,309.59 632.2,309.59 632.6,309.58 633.0,309.57 633.4,309.55 633.8,309.49 634.2,309.39 634.6,309.22 635.0,308.97 635.4,308.64 635.8,308.27 636.2,307.92 636.6,307.66 637.0,307.57 637.4,307.66 637.8,307.92 638.2,308.27 638.6,308.63 639.0,308.94 639.4,309.16 639.8,309.24 640.2,309.19 640.6,309.00 641.0,308.64 641.4,308.16 641.8,307.61 642.2,307.08 642.6,306.70 643.0,306.56 643.4,306.70 643.8,307.08 644.2,307.61 644.6,308.16 645.0,308.63 645.4,308.95 645.8,309.10 646.2,309.05 646.6,308.79 647.0,308.33 647.4,307.69 647.8,306.95 648.2,306.25 648.6,305.74 649.0,305.55 649.4,305.74 649.8,306.25 650.2,306.95 650.6,307.69 651.0,308.34 651.4,308.81 651.8,309.10 652.2,309.20 652.6,309.14 653.0,308.94 653.4,308.63 653.8,308.27 654.2,307.92 654.6,307.66 655.0,307.57 655.4,307.66 655.8,307.92 656.2,308.27 656.6,308.64 657.0,308.95 657.4,309.18 657.8,309.29 658.2,309.29 658.6,309.18 659.0,308.95 659.4,308.64 659.8,308.27 660.2,307.92 660.6,307.66 661.0,307.57 661.4,307.66 661.8,307.92 662.2,308.27 662.6,308.63 663.0,308.94 663.4,309.16 663.8,309.24 664.2,309.19 664.6,309.00 665.0,308.64 665.4,308.16 665.8,307.61 666.2,307.08 666.6,306.70 667.0,306.56 667.4,306.70 667.8,307.08 668.2,307.61 668.6,308.17 669.0,308.66 669.4,309.04" fill="none" stroke="#33b254" stroke-width="1.5" stroke-linejoin="round" stroke-linecap="round"/>
<polyline points="530.2,306.07 530.6,304.74 531.0,303.58 531.4,302.94 531.8,302.97 532.2,303.52 532.6,304.22 533.0,304.67 533.4,304.71 533.8,304.49 534.2,304.32 534.6,304.50 535.0,305.12 535.4,306.03 535.8,306.96 536.2,307.67 536.6,308.01 537.0,308.00 537.4,307.72 537.8,307.31 538.2,306.89 538.6,306.51 539.0,306.10 539.4,305.53 539.8,304.73 540.2,303.79 540.6,303.00 541.0,302.62 541.4,302.74 541.8,303.10 542.2,303.29 542.6,302.96 543.0,302.14 543.4,301.23 543.8,300.79 544.2,301.18 544.6,302.36 545.0,303.95 545.4,305.40 545.8,306.35 546.2,306.67 546.6,306.52 547.0,306.19 547.4,305.99 547.8,306.06 548.2,306.37 548.6,306.69 549.0,306.73 549.4,306.30 549.8,305.40 550.2,304.27 550.6,303.32 551.0,302.91 551.4,303.16 551.8,303.88 552.2,304.68 552.6,305.18 553.0,305.24 553.4,304.99 553.8,304.72 554.2,304.63 554.6,304.67 555.0,304.59 555.4,304.10 555.8,303.12 556.2,301.94 556.6,301.05 557.0,300.94 557.4,301.75 557.8,303.25 558.2,304.94 558.6,306.36 559.0,307.20 559.4,307.42 559.8,307.16 560.2,306.67 560.6,306.22 561.0,306.05 561.4,306.25 561.8,306.76 562.2,307.41 562.6,308.00 563.0,308.42 563.4,308.55 563.8,308.36 564.2,307.73 564.6,306.62 565.0,305.06 565.4,303.30 565.8,301.80 566.2,301.03 566.6,301.27 567.0,302.41 567.4,304.00 567.8,305.49 568.2,306.47 568.6,306.83 569.0,306.68 569.4,306.32 569.8,306.05 570.2,306.09 570.6,306.47 571.0,307.07 571.4,307.72 571.8,308.23 572.2,308.52 572.6,308.53 573.0,308.24 573.4,307.66 573.8,306.85 574.2,305.98 574.6,305.30 575.0,305.04 575.4,305.30 575.8,305.98 576.2,306.86 576.6,307.68 577.0,308.31 577.4,308.71 577.8,308.93 578.2,309.03 578.6,309.07 579.0,309.08 579.4,309.08 579.8,309.08 580.2,309.08 580.6,309.08 581.0,309.08 581.4,309.08 581.8,309.08 582.2,309.08 582.2,309.08 582.6,309.08 583.0,309.06 583.4,309.01 583.8,308.86 584.2,308.49 584.6,307.72 585.0,306.36 585.4,304.30 585.8,301.73 586.2,299.19 586.6,297.41 587.0,297.01 587.4,298.14 587.8,300.37 588.2,302.94 588.6,305.13 589.0,306.55 589.4,307.12 589.8,307.04 590.2,306.62 590.6,306.21 591.0,306.04 591.4,306.23 591.8,306.70 592.2,307.26 592.6,307.66 593.0,307.73 593.4,307.40 593.8,306.74 594.2,305.94 594.6,305.29 595.0,305.04 595.4,305.30 595.8,305.98 596.2,306.84 596.6,307.63 597.0,308.16 597.4,308.31 597.8,308.02 598.2,307.21 598.6,305.88 599.0,304.18 599.4,302.48 599.8,301.29 600.2,300.99 600.6,301.67 601.0,303.00 601.4,304.41 601.8,305.41 602.2,305.77 602.6,305.58 603.0,305.19 603.4,304.97 603.8,305.15 604.2,305.74 604.6,306.52 605.0,307.19 605.4,307.50 605.8,307.27 606.2,306.49 606.6,305.33 607.0,304.11 607.4,303.24 607.8,303.05 608.2,303.61 608.6,304.72 609.0,306.00 609.4,307.06 609.8,307.70 610.2,307.83 610.6,307.55 611.0,307.01 611.4,306.45 611.8,306.10 612.2,306.10 612.6,306.47 613.0,307.08 613.4,307.74 613.8,308.29 614.2,308.67 614.6,308.87 615.0,308.91 615.4,308.78 615.8,308.39 616.2,307.61 616.6,306.33 617.0,304.56 617.4,302.58 617.8,300.88 618.2,300.02 618.6,300.29 619.0,301.56 619.4,303.32 619.8,304.95 620.2,305.98 620.6,306.27 621.0,305.96 621.4,305.43 621.8,305.04 622.2,305.04 622.6,305.44 623.0,306.03 623.4,306.47 623.8,306.50 624.2,306.03 624.6,305.22 625.0,304.43 625.4,304.02 625.8,304.21 626.2,304.96 626.6,306.02 627.0,307.09 627.4,307.95 627.8,300.08 628.2,290.04 628.6,278.98 629.0,267.26 629.4,255.04 629.8,242.43 630.2,229.51 630.6,216.30 630.8,209.60 631.0,216.30 631.4,229.49 631.8,242.35 632.2,254.78 632.6,266.61 633.0,277.66 633.4,287.76 633.8,296.82 634.2,304.21 634.6,304.03 635.0,304.45 635.4,305.25 635.8,306.02 636.2,306.32 636.6,305.89 637.0,304.66 637.4,302.91 637.8,301.19 638.2,300.12 638.6,300.11 639.0,301.15 639.4,302.82 639.8,304.49 640.2,305.64 640.6,306.06 641.0,305.86 641.4,305.38 641.8,305.03 642.2,305.09 642.6,305.60 643.0,306.41 643.4,307.28 643.8,308.02 644.2,308.50 644.6,308.72 645.0,308.67 645.4,308.30 645.8,307.53 646.2,306.28 646.6,304.63 647.0,302.88 647.4,301.52 647.8,301.00 648.2,301.52 648.6,302.87 649.0,304.58 649.4,306.13 649.8,307.14 650.2,307.40 650.6,306.83 651.0,305.46 651.4,303.48 651.8,301.32 652.2,299.62 652.6,298.94 653.0,299.51 653.4,301.02 653.8,302.83 654.2,304.25 654.6,304.90 655.0,304.80 655.4,304.31 655.8,303.88 656.2,303.83 656.6,304.16 657.0,304.58 657.4,304.73 657.8,304.41 658.2,303.72 658.6,302.99 659.0,302.58 659.4,302.57 659.8,302.64 660.2,302.30 660.6,301.14 661.0,299.24 661.4,297.21 661.8,295.93 662.2,296.08 662.6,297.73 663.0,300.35 663.4,303.11 663.8,305.27 664.2,306.39 664.6,306.32 665.0,305.09 665.4,302.95 665.8,300.38 666.2,298.15 666.6,297.01 667.0,297.41 667.4,299.19 667.8,301.73 668.2,304.30 668.6,306.36 669.0,307.72 669.4,308.49" fill="none" stroke="#222" stroke-width="1.5" stroke-linejoin="round" stroke-linecap="round"/>
<line x1="529.7" y1="209.6" x2="533.7" y2="209.6" stroke="#8a8a8a" stroke-width="1"/>
<line x1="544.9" y1="311.9" x2="544.9" y2="309.9" stroke="#8a8a8a" stroke-width="1"/>
<line x1="601.9" y1="311.9" x2="601.9" y2="309.9" stroke="#8a8a8a" stroke-width="1"/>
<text x="525.5" y="215.5" font-size="11" text-anchor="end" fill="#333">1</text>
<text x="525.5" y="313.8" font-size="11" text-anchor="end" fill="#333">0</text>
<text x="544.9" y="326.5" font-size="11" text-anchor="middle" fill="#333">9.5</text>
<text x="602" y="326.5" font-size="11" text-anchor="middle" fill="#333">10.0</text>
<text x="598.8" y="346" font-size="12.5" text-anchor="middle" fill="#333">Frequency (THz)</text>
<text x="488.2" y="258" font-size="12.8" text-anchor="middle" fill="#333" transform="rotate(-90 488.2 258)" dy="4.6">Normalized</text>
<text x="503.4" y="258" font-size="12.8" text-anchor="middle" fill="#333" transform="rotate(-90 503.4 258)" dy="4.6">intensity (a.u.)</text>
<rect x="534.1" y="385.0" width="137.29999999999995" height="110.30000000000001" fill="none" stroke="#8a8a8a" stroke-width="1"/>
<polyline points="534.1,495.30 554.5,493.50 602.2,477.10 671.4,420.40" fill="none" stroke="#222" stroke-width="1.3" stroke-linejoin="round" stroke-linecap="round"/>
<line x1="585.1" y1="395.4" x2="606.2" y2="395.4" stroke="#222" stroke-width="1.3"/>
<line x1="602.8" y1="495.3" x2="602.8" y2="493.3" stroke="#8a8a8a" stroke-width="1"/>
<line x1="534.1" y1="413.4" x2="536.1" y2="413.4" stroke="#8a8a8a" stroke-width="1"/>
<line x1="534.1" y1="454.2" x2="536.1" y2="454.2" stroke="#8a8a8a" stroke-width="1"/>
<defs><radialGradient id="ball" cx="0.38" cy="0.35" r="0.7"><stop offset="0" stop-color="#ffd0d0"/><stop offset="0.35" stop-color="#f04040"/><stop offset="1" stop-color="#d01818"/></radialGradient></defs>
<line x1="578.8" y1="476.4" x2="578.8" y2="486.4" stroke="#f2a0a0" stroke-width="0.8"/>
<line x1="577.5999999999999" y1="476.4" x2="580.0" y2="476.4" stroke="#f2a0a0" stroke-width="0.8"/>
<line x1="577.5999999999999" y1="486.4" x2="580.0" y2="486.4" stroke="#f2a0a0" stroke-width="0.8"/>
<line x1="580.1" y1="462.6" x2="580.1" y2="476.6" stroke="#f2a0a0" stroke-width="0.8"/>
<line x1="578.9" y1="462.6" x2="581.3000000000001" y2="462.6" stroke="#f2a0a0" stroke-width="0.8"/>
<line x1="578.9" y1="476.6" x2="581.3000000000001" y2="476.6" stroke="#f2a0a0" stroke-width="0.8"/>
<line x1="584.5" y1="471.3" x2="584.5" y2="485.3" stroke="#f2a0a0" stroke-width="0.8"/>
<line x1="583.3" y1="471.3" x2="585.7" y2="471.3" stroke="#f2a0a0" stroke-width="0.8"/>
<line x1="583.3" y1="485.3" x2="585.7" y2="485.3" stroke="#f2a0a0" stroke-width="0.8"/>
<line x1="600.3" y1="467" x2="600.3" y2="479" stroke="#f2a0a0" stroke-width="0.8"/>
<line x1="599.0999999999999" y1="467" x2="601.5" y2="467" stroke="#f2a0a0" stroke-width="0.8"/>
<line x1="599.0999999999999" y1="479" x2="601.5" y2="479" stroke="#f2a0a0" stroke-width="0.8"/>
<line x1="610.5" y1="460.7" x2="610.5" y2="472.7" stroke="#f2a0a0" stroke-width="0.8"/>
<line x1="609.3" y1="460.7" x2="611.7" y2="460.7" stroke="#f2a0a0" stroke-width="0.8"/>
<line x1="609.3" y1="472.7" x2="611.7" y2="472.7" stroke="#f2a0a0" stroke-width="0.8"/>
<line x1="616.4" y1="450.7" x2="616.4" y2="458.7" stroke="#f2a0a0" stroke-width="0.8"/>
<line x1="615.1999999999999" y1="450.7" x2="617.6" y2="450.7" stroke="#f2a0a0" stroke-width="0.8"/>
<line x1="615.1999999999999" y1="458.7" x2="617.6" y2="458.7" stroke="#f2a0a0" stroke-width="0.8"/>
<line x1="649.1" y1="414.3" x2="649.1" y2="428.3" stroke="#f2a0a0" stroke-width="0.8"/>
<line x1="647.9" y1="414.3" x2="650.3000000000001" y2="414.3" stroke="#f2a0a0" stroke-width="0.8"/>
<line x1="647.9" y1="428.3" x2="650.3000000000001" y2="428.3" stroke="#f2a0a0" stroke-width="0.8"/>
<circle cx="578.8" cy="481.4" r="2.9" fill="url(#ball)"/>
<circle cx="580.1" cy="469.6" r="2.9" fill="url(#ball)"/>
<circle cx="584.5" cy="478.3" r="2.9" fill="url(#ball)"/>
<circle cx="600.3" cy="473" r="2.9" fill="url(#ball)"/>
<circle cx="610.5" cy="466.7" r="2.9" fill="url(#ball)"/>
<circle cx="616.4" cy="454.7" r="2.9" fill="url(#ball)"/>
<circle cx="649.1" cy="421.3" r="2.9" fill="url(#ball)"/>
<circle cx="598.1" cy="412.4" r="2.9" fill="url(#ball)"/>
<text x="612.4" y="400.2" font-size="13" fill="#333">Calc</text>
<text x="612.4" y="416.2" font-size="13" fill="#333">Exp</text>
<text x="527.6" y="418.3" font-size="11" text-anchor="end" fill="#333">6<tspan font-size="9" dx="1.6">×</tspan><tspan dx="1.2">10</tspan><tspan font-size="7.5" dy="-4.5">−5</tspan></text>
<text x="527.6" y="459.5" font-size="11" text-anchor="end" fill="#333">3<tspan font-size="9" dx="1.6">×</tspan><tspan dx="1.2">10</tspan><tspan font-size="7.5" dy="-4.5">−5</tspan></text>
<text x="527" y="499.2" font-size="11" text-anchor="end" fill="#333">0</text>
<text x="534.3" y="510.4" font-size="11" text-anchor="middle" fill="#333">0</text>
<text x="603.7" y="510.4" font-size="11" text-anchor="middle" fill="#333">0.1</text>
<text x="672.8" y="510.4" font-size="11" text-anchor="middle" fill="#333">0.2</text>
<text x="603.5" y="526.4" font-size="13.1" text-anchor="middle" fill="#333">Intracavity power (W)</text>
<text x="477.6" y="440.8" font-size="12.8" text-anchor="middle" fill="#333" transform="rotate(-90 477.6 440.8)" dy="4.6">CE</text>
</svg></body></html>
